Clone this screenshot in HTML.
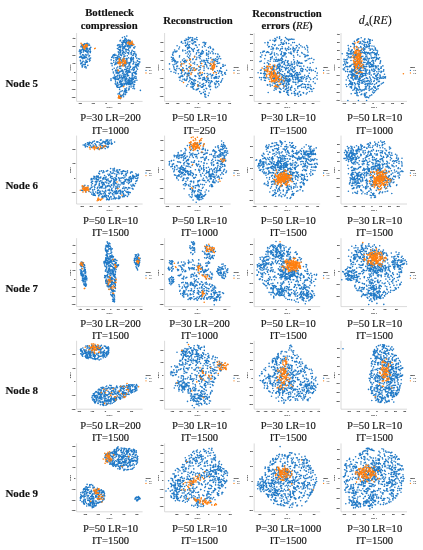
<!DOCTYPE html><html><head><meta charset="utf-8"><title>t-SNE nodes</title><style>
html,body{margin:0;padding:0;background:#fff}
svg{display:block;filter:blur(0.3px)}
.h{font:bold 10.7px 'Liberation Serif',serif;text-anchor:middle;fill:#111;stroke:#111;stroke-width:0.15px}
.m{font:12px 'Liberation Serif',serif;text-anchor:middle;fill:#111;stroke:#111;stroke-width:0.1px}
.mi{font-style:italic;font-weight:normal}
.n{font:bold 11px 'Liberation Serif',serif;fill:#111;stroke:#111;stroke-width:0.15px}
.c{font:10.6px 'Liberation Serif',serif;text-anchor:middle;fill:#1a1a1a;stroke:#1a1a1a;stroke-width:0.18px}
.t{font:bold 2.5px 'Liberation Sans',sans-serif;fill:#555;stroke:#555;stroke-width:0.2px;text-anchor:middle}
.tl{text-anchor:start}
.lt{font-size:2.1px}
.le{font:bold 2.1px 'Liberation Sans',sans-serif;fill:#444;text-anchor:start}
.ty{text-anchor:end}
.ta{font:bold 2.3px 'Liberation Sans',sans-serif;fill:#333;text-anchor:middle}
.ax{fill:none;stroke:#d0d0d0;stroke-width:0.8}
.pb{stroke:#2079c6;stroke-width:1.6;stroke-linecap:round;fill:none}
.po{stroke:#ff7f0e;stroke-width:1.6;stroke-linecap:round;fill:none}
</style></head><body>
<svg width="423" height="550" viewBox="0 0 423 550">
<text x="109.5" y="16.1" class="h">Bottleneck</text>
<text x="109.2" y="29" class="h">compression</text>
<text x="198.1" y="23.6" class="h">Reconstruction</text>
<text x="287" y="17.2" class="h">Reconstruction</text>
<text x="287" y="29.1" class="h">errors (<tspan class="mi">RE</tspan>)</text>
<text x="375.3" y="23.8" class="m"><tspan class="mi">d</tspan><tspan class="mi" font-size="7" dy="2.2">A</tspan><tspan dy="-2.2">(</tspan><tspan class="mi">RE</tspan>)</text>
<text x="5.4" y="86.7" class="n">Node 5</text>
<text x="5.4" y="189" class="n">Node 6</text>
<text x="5.4" y="291.7" class="n">Node 7</text>
<text x="5.4" y="394.1" class="n">Node 8</text>
<text x="5.4" y="496.7" class="n">Node 9</text>
<text x="110.5" y="121.3" class="c">P=30 LR=200</text>
<text x="110.5" y="133.6" class="c">IT=1000</text>
<text x="199.5" y="121.3" class="c">P=50 LR=10</text>
<text x="199.5" y="133.6" class="c">IT=250</text>
<text x="288.3" y="121.3" class="c">P=30 LR=10</text>
<text x="288.3" y="133.6" class="c">IT=1500</text>
<text x="374.6" y="121.3" class="c">P=50 LR=10</text>
<text x="374.6" y="133.6" class="c">IT=1000</text>
<text x="110.5" y="223.9" class="c">P=50 LR=10</text>
<text x="110.5" y="236.2" class="c">IT=1500</text>
<text x="199.5" y="223.9" class="c">P=50 LR=10</text>
<text x="199.5" y="236.2" class="c">IT=1000</text>
<text x="288.3" y="223.9" class="c">P=50 LR=10</text>
<text x="288.3" y="236.2" class="c">IT=1500</text>
<text x="374.6" y="223.9" class="c">P=30 LR=10</text>
<text x="374.6" y="236.2" class="c">IT=1500</text>
<text x="110.5" y="326.5" class="c">P=30 LR=200</text>
<text x="110.5" y="338.8" class="c">IT=1500</text>
<text x="199.5" y="326.5" class="c">P=30 LR=200</text>
<text x="199.5" y="338.8" class="c">IT=1000</text>
<text x="288.3" y="326.5" class="c">P=50 LR=10</text>
<text x="288.3" y="338.8" class="c">IT=1500</text>
<text x="374.6" y="326.5" class="c">P=50 LR=10</text>
<text x="374.6" y="338.8" class="c">IT=1500</text>
<text x="110.5" y="429.1" class="c">P=50 LR=200</text>
<text x="110.5" y="441.4" class="c">IT=1500</text>
<text x="199.5" y="429.1" class="c">P=30 LR=10</text>
<text x="199.5" y="441.4" class="c">IT=1500</text>
<text x="288.3" y="429.1" class="c">P=30 LR=10</text>
<text x="288.3" y="441.4" class="c">IT=1500</text>
<text x="374.6" y="429.1" class="c">P=50 LR=10</text>
<text x="374.6" y="441.4" class="c">IT=1500</text>
<text x="110.5" y="531.7" class="c">P=50 LR=10</text>
<text x="110.5" y="544" class="c">IT=1500</text>
<text x="199.5" y="531.7" class="c">P=50 LR=10</text>
<text x="199.5" y="544" class="c">IT=1500</text>
<text x="288.3" y="531.7" class="c">P=30 LR=1000</text>
<text x="288.3" y="544" class="c">IT=1500</text>
<text x="374.6" y="531.7" class="c">P=30 LR=10</text>
<text x="374.6" y="544" class="c">IT=1500</text>
<g><path d="M76.6 33V101.4H142.6" class="ax"/><text x="75.3" y="38.8" class="t ty">40</text><text x="75.3" y="47.3" class="t ty">30</text><text x="75.3" y="55.8" class="t ty">20</text><text x="75.3" y="64.3" class="t ty">10</text><text x="75.3" y="72.8" class="t ty">0</text><text x="75.3" y="81.3" class="t ty">-10</text><text x="75.3" y="89.8" class="t ty">-20</text><text x="75.3" y="98.3" class="t ty">-30</text><text x="80.2" y="104.3" class="t">-20</text><text x="93.2" y="104.3" class="t">-10</text><text x="106.2" y="104.3" class="t">0</text><text x="119.2" y="104.3" class="t">10</text><text x="132.2" y="104.3" class="t">20</text><text x="109.6" y="108.4" class="ta">dim 1</text><text transform="translate(70.6 67.5) rotate(-90)" class="ta">dim 2</text><text x="148.1" y="68.2" class="t lt">label</text><circle cx="146" cy="70.4" r="0.65" fill="#2079c6"/><text x="148.9" y="71.2" class="le">0.0</text><circle cx="146" cy="73" r="0.65" fill="#ff7f0e"/><text x="148.9" y="73.8" class="le">1.0</text><path d="M117.3 83.4h0M127.9 70.9h0M129.8 84.6h0M129.7 44.3h0M115.2 83.8h0M85.8 66.8h0M136.1 55.2h0M88 54.9h0M132.4 59.1h0M128.4 52.7h0M134.5 84.5h0M121.1 81h0M82.5 58.4h0M125.5 65.1h0M125.9 80.1h0M126.4 39.3h0M115.5 77.2h0M122.5 73.2h0M133 88.5h0M128.1 49.5h0M126.5 41.1h0M127.3 46h0M123 58.9h0M133.4 59.1h0M117.5 62h0M131.3 60.2h0M86.1 47.6h0M122.8 77.5h0M126.2 90.7h0M130.5 46.8h0M124.1 91.9h0M114.8 54.4h0M125.8 67.2h0M127.1 61.1h0M87 47.9h0M130.4 58.4h0M118.3 79.4h0M130.6 83.2h0M85.7 46.8h0M125.6 89.2h0M119 53.7h0M121 91.4h0M89.7 59.1h0M118.3 79.7h0M129.9 43.7h0M124.1 77h0M132.7 78h0M130.2 44.1h0M122.6 48.3h0M132.8 43.7h0M120.4 96.6h0M86.2 55h0M135.2 66.2h0M124.8 65.9h0M114.2 68.2h0M120.7 82.1h0M118.8 73.8h0M115.6 81.9h0M130 81.5h0M134.9 67h0M128.3 82.4h0M131.2 44.4h0M117.7 79.3h0M132.9 82.2h0M125 56.1h0M135.4 73.3h0M83.8 46.6h0M117.1 70.1h0M122.4 65.5h0M126 82.8h0M122.7 46.7h0M130.7 83.9h0M119.9 46.7h0M87.5 51.3h0M123.1 73.6h0M119.2 61.1h0M135.5 64.2h0M133.8 86h0M120.1 75.1h0M114.7 64.8h0M121.1 62.8h0M82.3 46.7h0M125.7 74.7h0M87.2 52.4h0M127.3 74.7h0M121.6 81.8h0M116.9 85.9h0M119.8 81.6h0M128.7 82h0M121.5 96.9h0M122.5 70h0M129.8 63.5h0M84 57h0M131.2 58.6h0M123.1 42.7h0M84.7 43.7h0M83.6 57.2h0M119.1 96.7h0M130.1 47.7h0M85.4 51.1h0M111.7 57.5h0M128.2 40h0M127.2 58.9h0M132.5 74.9h0M127.4 82.7h0M119.1 56.5h0M129.6 64.8h0M117.7 87.2h0M85.8 46h0M133.4 61h0M132.7 45h0M88 45.5h0M136 64.3h0M120.9 51.1h0M86 60.4h0M129.5 42.1h0M135.6 78.4h0M119.9 94.2h0M84.5 46.5h0M126.3 83.4h0M131.5 57.4h0M113.1 77.9h0M113 55.4h0M123.6 64.5h0M121.8 42.3h0M127.2 68.5h0M88.8 44.1h0M85.2 51.1h0M114.1 78.6h0M116.8 86.5h0M81.9 57.1h0M129.5 77.5h0M127.3 72.5h0M129.3 51h0M121.9 86.5h0M90 49h0M81.5 57.2h0M123 49.1h0M117.3 87.3h0M117.9 72.4h0M86.7 61.4h0M118.9 84.8h0M115.9 78.9h0M117.4 48.5h0M131 42.3h0M123.9 83.2h0M128.8 90h0M121.9 75.2h0M81.3 50.3h0M116.5 57.6h0M83.6 50.4h0M120.3 84.1h0M131.3 60.7h0M131.1 86.9h0M84.8 67.1h0M118.6 97.4h0M127.3 68.6h0M140.4 90.4h0M131.1 53.6h0M129.1 41.2h0M117.6 63h0M120.4 86.8h0M133.7 51.5h0M117.1 79.1h0M127.4 83.4h0M128.7 83.2h0M119.8 98h0M128.9 81.4h0M119.6 97.5h0M136.7 58.1h0M128.3 84.5h0M119.6 87.8h0M131.5 79.1h0M115.9 59.7h0M115.6 84.1h0M129.7 83.3h0M127.8 82.4h0M113.7 54.9h0M82.7 54.7h0M119.6 68.2h0M124.9 91.2h0M130.4 78.8h0M134.4 67.9h0M122.4 37.6h0M136.7 68h0M129.2 88.9h0M82 65.7h0M124.9 79.9h0M117.3 70.5h0M80.7 63.3h0M137.5 69.3h0M120 80.3h0M84.2 56.1h0M123.5 51.6h0M138.6 63.5h0M134.8 82.3h0M89 59.3h0M83 61.2h0M114.5 75.1h0M125.9 49.1h0M79.6 57.3h0M125.4 53.3h0M83.3 49.4h0M80.6 51.5h0M121.5 76.8h0M125.2 94.6h0M125.4 92h0M129.3 83.2h0M82.1 57.5h0M130 66h0M90.6 58h0M128.3 71.9h0M133.6 70.5h0M117.4 57.5h0M122.3 85.6h0M130.5 62.3h0M133.4 79.5h0M118 70.2h0M112.1 65.8h0M125.9 81.2h0M131.4 52.8h0M117.7 67h0M120.3 52.6h0M83 64.4h0M119.7 66.5h0M135.9 73.5h0M124.9 41.9h0M126.8 92.2h0M120.7 47.5h0M117.2 73.2h0M112.2 63.7h0M138.4 58.8h0M79.9 57.1h0M132.3 59h0M119.6 46.9h0M132 80h0M121.9 42.5h0M125.4 72h0M120 78h0M125.7 90.6h0M128.9 47h0M130.3 43.1h0M86.1 55.4h0M85.3 66.5h0M122.7 64h0M128.7 84h0M126.9 78.6h0M133 64.1h0M130.5 66.6h0M136 66.7h0M131.8 51.3h0M115.4 80.1h0M122.7 78h0M130.9 45.5h0M82.1 46.9h0M122 86h0M83.4 47.1h0M116.4 85.1h0M128.8 89.2h0M122 44.5h0M119.3 93.5h0M119.5 97.1h0M125.3 83.4h0M129.7 80.4h0M126.4 64h0M120.9 86.3h0M121.1 46.3h0M127 58.9h0M123.3 47.8h0M130.3 67.4h0M125.7 42.7h0M116.6 57.7h0M131.2 69.7h0M121.1 54.7h0M117.2 58.9h0M120.1 45h0M126.3 71.7h0M138.1 61.5h0M130.3 80.9h0M120.7 57.8h0M116.1 55.2h0M118.8 47.2h0M132.8 68.5h0M127.3 76.1h0M131.1 85h0M83.7 55.1h0M134.1 48.3h0M117.6 82.3h0M126.6 88h0M121 66.1h0M119.4 63h0M121.3 77.3h0M114.7 77.5h0M123.8 76.2h0M83.4 51.9h0M126.1 69.4h0M115.5 70.9h0M137.7 65.4h0M81.5 52.4h0M127.4 52.7h0M125.9 92.7h0M133.1 84.1h0M124.5 78h0M121.5 79h0M117.7 56h0M123.8 93.6h0M86.1 60.7h0M120 46.8h0M133.7 70.3h0M131 80.9h0M124 56.4h0M115.6 70.2h0M135 46.8h0M81.4 45.1h0M121.8 95.6h0M132.4 73.7h0M82.1 49.5h0M131.4 45.4h0M79.2 51.3h0M117.5 85.2h0M136.1 78.5h0M128.9 40.5h0M120 50.4h0M133.5 61.5h0M132.1 80.8h0M123.5 94.9h0M80.1 56.9h0M126.6 78.3h0M132.2 50.2h0M120.5 98.6h0M127.1 45.5h0M137.3 65.2h0M128 45.7h0M82.9 48.2h0M124.7 69.6h0M84.8 58.3h0M130.9 52.7h0M119.5 75.4h0M128.7 52.7h0M126.1 84h0M129.5 42.6h0M129.2 70.1h0M117.5 77h0M119.8 72.1h0M132.2 73.5h0M123.4 41.6h0M115.8 79.6h0M113.8 62.3h0M131.2 54.6h0M119.1 44.9h0M123.9 40.5h0M113.7 60.5h0M85.5 57.1h0M123.2 61.2h0M135 76.3h0M90.1 60.2h0M89.5 61.1h0M122.4 90.7h0M115.2 57.7h0M131.9 75h0M120.4 49.2h0M123.6 77.2h0M119.9 49.5h0M81.6 63.1h0M127.8 80.2h0M126.2 42.4h0M82.7 46.4h0M129 81.2h0M121.4 84.9h0M133.4 63.6h0M83.5 45.7h0M115.4 76.7h0M129.1 72.3h0M125.2 69.5h0M129.1 71.9h0M126 67.1h0M114.6 55.6h0M131.2 78.4h0M134.3 77.2h0M138.4 66h0M128.9 63.9h0M123.8 75.2h0M111.2 59.9h0M125.7 43.9h0M117.4 63.3h0M129.3 45.2h0M124.6 90.7h0M81.7 63.2h0M133.9 62.4h0M129.9 44h0M121 83.7h0M115.1 78.9h0M124.8 74.1h0M119 52.8h0M124.1 52.4h0M136.1 62.3h0M126.2 77.8h0M82.4 62.1h0M80.9 46.7h0M118.9 87.2h0M115.7 79.4h0M124.8 58.8h0M84.4 64.7h0M119.6 76.9h0M122.9 79.1h0M132 80.4h0M119.2 47.2h0M85.9 44h0M119.6 92.3h0M127.5 63h0M82.7 66h0M125 90.1h0M126.8 36.1h0M129.8 42.7h0M83.2 61.3h0M128.6 80.3h0M125.6 78.9h0M87.7 48.7h0M119.7 58h0M131.6 60.8h0M125.1 76.5h0M122.8 95h0M129.4 63.4h0M113.5 73h0M137.4 60.6h0M132.8 55.5h0M133.8 47.5h0M129.3 72.3h0M135.1 80.8h0M90.5 51.6h0M119.1 61.2h0M124.3 64.9h0M135.2 72h0M128.6 75.6h0M128.4 66h0M118.8 62.4h0M84.5 44.1h0M90.2 50h0M126.1 61.2h0M86.7 48.1h0M127.7 66.7h0M81 56h0M122.6 45h0M120.3 51.2h0M139.7 59.1h0M81 64h0M132 83.3h0M82.4 47.2h0M126.2 42.7h0M125.5 94.2h0M120.5 54.9h0M115.7 62.1h0M89.9 48.4h0M128.3 80.2h0M134.1 81.6h0M134.6 72.7h0M132.5 82.1h0M115.4 63.5h0M118.7 54.8h0M119.6 89.5h0M127.3 55.8h0M123.3 72.1h0M117.9 59.1h0M126.6 41.6h0M89.6 45.3h0M118.4 58.2h0M121.7 71.3h0M117.6 85.8h0M122.8 80.8h0M136.4 73.9h0M122.9 53.9h0M122.6 84.4h0M123.1 40.9h0M125.4 49.7h0M118.5 49.2h0M116.7 63.8h0M121.5 55.6h0M138.1 63.9h0M80.4 54h0M87 62.2h0M87.2 43.3h0M124.7 77h0M128.7 48.8h0M133.5 58.7h0M128.5 42.1h0M130.1 42.4h0M123.6 96.8h0M122.5 43.9h0M133.2 67.2h0M111 78.9h0M85.3 50.6h0M128.5 79.9h0M117.5 45.6h0M120.2 51.6h0M79.9 49.9h0M129.3 46.8h0M121.7 83.9h0M90.8 47.4h0M114.8 77.8h0M135.5 66.3h0M82.6 54.9h0M89.6 55.5h0M124.4 48.3h0M87.8 65.4h0M87.3 44.7h0M88.3 50.7h0M126.1 79.4h0M116.1 72.9h0M122.9 73.1h0M118 94h0M118.2 78.7h0M125.3 38.3h0M136.4 71.1h0M132.2 73h0M139.7 62h0M126.8 49.8h0M118.7 49.4h0M124.7 62.7h0M118.3 51.9h0M123.9 85.3h0M134.8 52.1h0M122.4 45.2h0M127.7 40.8h0M131.6 83.5h0M128.7 53.9h0M126 71.5h0M135.7 72.2h0M128.3 44.7h0M122.9 70.9h0M82.8 58.7h0M85.8 54.5h0M126.8 73.5h0M123.6 58.1h0M85.3 64.5h0M133.4 53.9h0M132.8 78.8h0M122.1 84.2h0M132.7 44.1h0M133.1 86.2h0M88.1 53.1h0M117 86.5h0M111.2 63.4h0M86.3 43.8h0M122.9 44.6h0M126.6 62.5h0M80.1 53h0M82.4 45.5h0M128.9 89.7h0M85.2 66.7h0M136.2 77h0M85 62h0M115.3 64.2h0M86.5 44.5h0M130.4 72.1h0M83.4 44.9h0M126.1 51.6h0M122.3 85.9h0M127.7 73.8h0M120.2 71.4h0M120 58.7h0M80.5 60.9h0M122.6 53.4h0M128.8 43.6h0M124.5 47.6h0M80.5 50.6h0M124.7 40.3h0M124.1 42.4h0M123.6 75.1h0M86.1 49.7h0M80.3 60.2h0M89.9 58.6h0M135.8 55.1h0M125 81h0M87.2 61.5h0M126.6 70.4h0M128.2 49.9h0M129 88.2h0M122.4 50.3h0M130.1 81.1h0M113.5 58h0M123.4 59.8h0M129.1 69h0M131.9 81.4h0M124.5 36.7h0M122 61.8h0M130.2 40.8h0M120.1 40.9h0M133.8 87h0M122.9 50.7h0M120.4 52.9h0M85.2 63.3h0M86.3 62.3h0M82.2 67.1h0M130.7 59.9h0M129.2 71.6h0M127.4 74.7h0M129.3 86.8h0M89.6 49h0M89.3 59h0M114.2 77.1h0M85.2 57.1h0M119.5 78.1h0M129.3 82.2h0M84.3 49.8h0M129.8 72h0M125.9 50h0M122.6 42.7h0M86.3 51.5h0M135 73.5h0M132.9 69.8h0M134.3 69.5h0M83.1 49.7h0M115.6 57.8h0M124 75.2h0M127.9 46.7h0M130.9 61.8h0M129 62.5h0M123.1 77.8h0M130.7 84.2h0M122.9 54.1h0M131.8 59.6h0M135.7 56.6h0M86.5 57.4h0M132.4 45.4h0M134.1 78.1h0M135.8 74.1h0M137.3 64.4h0M121.5 62.1h0M120.6 47.5h0M126.5 44.1h0M86.2 46.5h0M129 81.5h0M126.5 58.6h0M123.6 63.9h0M125 74.8h0M117.7 83.5h0M125.7 40.1h0M86.2 50.9h0M132.8 75.7h0M134.7 72.3h0M116.9 71.7h0" class="pb"/><path d="M123.7 86.6h0M123.1 64.5h0M119.6 98.2h0M127.5 42.9h0M118.7 96.9h0M123.7 63.3h0M84.1 47.8h0M129 41.6h0M120.8 95.2h0M119.2 96.4h0M83.5 47.6h0M131.5 43.3h0M130.3 43.5h0M119.9 62.9h0M123.8 66h0M125.8 62.2h0M87.4 45.1h0M82.9 45.6h0M119.5 97h0M87.4 45h0M124.2 61.6h0M132.1 41.3h0M95.2 48.2h0M86.3 45.1h0M81.1 43.4h0M94.7 48.6h0M122.5 59.8h0M84.8 49.1h0M119.4 58.7h0M82.4 44.6h0M121.1 62.8h0M120.5 98.3h0M119.8 60.7h0M124.6 62.1h0M132.4 42.7h0M122.7 65.7h0M131 43.7h0M129.5 43.3h0M124 58.4h0M86.5 44h0M125.8 63.4h0M124.7 63.4h0M124.1 60.1h0" class="po"/><path d="M87.3 61.6h0M87.5 59h0M117.5 57.4h0M112.4 56.8h0M136.9 80.2h0M132 77.1h0M120.8 95.6h0M132.4 45.3h0M138.8 64.1h0M80.9 56.9h0M82.2 58.3h0M82.4 58.5h0M126.4 59.9h0M122.3 44.7h0M133.6 55h0M133.6 72.5h0M124.5 46.4h0M135.3 72.5h0M127.7 46.2h0M120.7 68.4h0M118.1 72.9h0M129.1 72.3h0M130.1 42.1h0M135.6 64.7h0M119.5 72.1h0M119.7 50.5h0M83.6 44.5h0M124.5 40.7h0M125 88.7h0M112.9 56.9h0M117.4 75.4h0M116.5 60.3h0M119.7 82.4h0M126.7 84.8h0M125.3 45.8h0M113.3 72h0M118.5 62.9h0M132.7 75.6h0M125.8 76.3h0M112.5 69.6h0M120.9 84.4h0M121.6 70.3h0M133.3 57.6h0M139.6 62h0M120.5 40.2h0M129.1 68.3h0M117 62.6h0M136.8 65.9h0M128.9 70.7h0M119.2 75.8h0M122.3 53h0M86.1 67.9h0M82.3 57.5h0M123.8 46.9h0M116 70.2h0M120.5 59.5h0M89.2 49.2h0M125.7 83.4h0M89 56.8h0M124.4 84.5h0M85.8 48.1h0M124.8 39.2h0M118.1 44.9h0M87.1 49.6h0M116.7 68h0M111 80.4h0M87 43.5h0M126.6 90.4h0M134.5 88.8h0M134.8 53.6h0M132.3 44.1h0M90.3 52.6h0M124 54.8h0M136 54.3h0M89 51.5h0M83.6 58.1h0M131 82.5h0M116.3 76.8h0M129.9 40.2h0M121.7 83.4h0M86.5 48.4h0M129.2 78.9h0M127 81.6h0M121.5 60.2h0M123.3 52.1h0M81.6 45.8h0M128.5 57.8h0M125.8 46.4h0" class="pb"/><path d="M129 44.1h0M119 63.7h0M86.3 46.6h0M84 46.2h0M131.8 43.5h0M85.2 45.8h0M120.8 97.7h0M118.8 62.5h0M118.5 70.8h0M130.8 43.1h0M120.3 61.7h0M132.5 44.4h0M85.2 47.6h0M83.3 47.1h0M82.2 45.3h0M117.9 70h0M133.9 44.7h0M87.1 46.6h0M119 59.7h0M85.6 44.9h0M122 62.5h0M86.8 46.7h0M119.7 59.2h0M84.2 48h0M119.1 62.5h0M118.4 97.9h0M122.8 61.9h0M118 62.9h0M130.2 44.1h0M122.6 60.3h0M84.2 46.8h0M120.1 65.5h0M131.2 42.1h0M121 62.8h0M129 42.7h0M130.6 43.6h0M129.6 44.4h0M125.6 60.7h0M120.2 64.1h0M123.9 60.3h0M118.8 95.9h0M125.5 61.1h0M119.3 61.4h0" class="po"/></g>
<g><path d="M164.6 33V101.4H230.6" class="ax"/><text x="163.3" y="42.6" class="t ty">30</text><text x="163.3" y="51.7" class="t ty">20</text><text x="163.3" y="60.7" class="t ty">10</text><text x="163.3" y="69.8" class="t ty">0</text><text x="163.3" y="78.9" class="t ty">-10</text><text x="163.3" y="88" class="t ty">-20</text><text x="163.3" y="97" class="t ty">-30</text><text x="167.3" y="104.3" class="t">-30</text><text x="177.7" y="104.3" class="t">-20</text><text x="188.1" y="104.3" class="t">-10</text><text x="198.5" y="104.3" class="t">0</text><text x="208.9" y="104.3" class="t">10</text><text x="219.3" y="104.3" class="t">20</text><text x="229.7" y="104.3" class="t">30</text><text x="197.6" y="108.4" class="ta">dim 1</text><text transform="translate(158.6 67.5) rotate(-90)" class="ta">dim 2</text><text x="236.1" y="68.2" class="t lt">label</text><circle cx="234" cy="70.4" r="0.65" fill="#2079c6"/><text x="236.9" y="71.2" class="le">0.0</text><circle cx="234" cy="73" r="0.65" fill="#ff7f0e"/><text x="236.9" y="73.8" class="le">1.0</text><path d="M175.9 51.9h0M191.3 79.1h0M200.7 53.4h0M191.5 82.5h0M171.4 57.2h0M208.5 68.2h0M191.6 40.3h0M216.8 66.4h0M171 71.5h0M189.3 46.8h0M203.4 51.9h0M177.8 61.9h0M185 73.5h0M177 51.1h0M197.2 64.7h0M180.8 70.2h0M200.9 65.6h0M176.1 70.8h0M180.5 76.2h0M188.4 70.6h0M206.1 82.2h0M201.7 52.1h0M214.9 77.9h0M206.6 88.6h0M221.3 81.8h0M202.5 87.3h0M172.1 59.5h0M215.4 77.8h0M198 86.4h0M178.9 48.9h0M177 66.7h0M207.8 60.5h0M218.4 63.3h0M187.9 39.4h0M214 77.9h0M217.8 59.7h0M195.4 45h0M185.6 40.7h0M213.5 49.8h0M206 80.5h0M205.4 44.2h0M174 72.2h0M194.1 42h0M206.6 53h0M184.4 61.5h0M179.1 68.6h0M176.2 63.6h0M169.5 63.9h0M194.1 81.9h0M180.8 65.1h0M204.5 73.5h0M203 77.8h0M186.6 86.1h0M226.6 70.2h0M186.4 61.8h0M188.4 39.4h0M180.2 77.7h0M219.2 76.2h0M199.5 55.3h0M189.7 60.3h0M182.9 43.3h0M194.7 56.4h0M187.5 49.1h0M187.4 56.3h0M188.9 81.7h0M188.3 47.4h0M189.5 73.3h0M194.3 48.6h0M189.3 66.9h0M199.1 75.5h0M196.2 45.4h0M218.8 58.3h0M193.4 51.4h0M212.9 75.1h0M215.1 60.4h0M204.3 77.4h0M189 51.1h0M186.2 80.4h0M214.6 83h0M205.2 80.2h0M187.5 43.7h0M186.6 45.2h0M186.5 80h0M200.1 85.9h0M196.6 59h0M208.3 95.6h0M188.3 48.2h0M194.4 39.1h0M193.2 49.9h0M211.8 81.4h0M193.1 63.3h0M210.6 86.2h0M215.5 76.5h0M210.4 89.6h0M200.1 58.7h0M182.2 75.4h0M205 64.5h0M203 51.5h0M210.6 47.7h0M198.7 49.8h0M199 78.4h0M205.8 64.2h0M225.2 65.3h0M206.9 66.9h0M212.4 74.9h0M221.7 80.2h0M179.9 80.3h0M188.8 67.3h0M218.6 81.3h0M185 80.1h0M208.8 51.2h0M214 64h0M187.9 42.1h0M211.5 78h0M203 79.2h0M199.4 76.2h0M184.5 79.1h0M197.9 84.9h0M222.7 66.2h0M219.6 63h0M193.6 80.2h0M211.1 64.8h0M198.1 73.3h0M218.6 83.7h0M196.7 52.7h0M193.8 84.5h0M220.7 58.8h0M202.1 74.7h0M172.7 58.1h0M195.6 80.6h0M181 65h0M192.1 40.8h0M205 46.5h0M190.9 68.9h0M192 84.8h0M219.7 70.5h0M202.2 86.9h0M207.6 62h0M204 89.6h0M174.9 62h0M193.7 83.7h0M203.6 85.7h0M204 70.4h0M212.1 51.4h0M176 61.6h0M213.5 59.4h0M188.6 57.5h0M208.7 51.8h0M181.3 73.4h0M190.7 70.4h0M215.5 53.7h0M176.8 66.3h0M181.5 76h0M218.2 78.3h0M186.5 68.7h0M184.6 79.9h0M194.6 62.2h0M197.2 89.1h0M188.7 45.3h0M196 59.6h0M187.4 74.1h0M200.5 67.6h0M188.6 73h0M185.6 60.2h0M215.3 60.5h0M208.6 58.4h0M214.6 60h0M224.8 73.6h0M216.8 76.9h0M193.1 58.8h0M208.2 68.6h0M216 83.7h0M208.1 80.1h0M192.3 49.7h0M220.7 82.3h0M187 76.2h0M212.9 49.2h0M206.7 53.4h0M206.5 80.5h0M200.3 61.7h0M181.5 41.6h0M222.2 75.1h0M190.8 37.5h0M197.6 89.5h0M208.3 56.3h0M198.9 52.6h0M195.6 42.1h0M212.9 61.9h0M195 75.8h0M188.9 73.9h0M215.1 84.4h0M191 86.9h0M179.6 55.8h0M173.7 66.2h0M194.8 41.5h0M189.9 41.7h0M204.2 79.2h0M184.6 40.6h0M204.2 45.2h0M196.9 68.7h0M186.4 65.8h0M188.2 75.6h0M222.6 78.8h0M213.5 59.9h0M189.5 44.7h0M209.7 63.5h0M175.7 51.7h0M221.9 71.9h0M199.9 83.1h0M200.5 78.3h0M173.4 60.5h0M202.4 47.1h0M175.9 51.3h0M192 67.7h0M179.2 77.4h0M210.2 83.7h0M187.4 52.1h0M189.6 51.3h0M201.9 53.7h0M192.6 84.8h0M222.6 75h0M173 55.5h0M206.6 88.8h0M210.8 68.6h0M205 93.8h0M199.2 66.9h0M181.8 76.3h0M195.9 39.1h0M187 79.3h0M213.1 49.1h0M191.8 72.6h0M204.8 78.4h0M221.1 68h0M185.7 46.2h0M208.3 62.7h0M190.5 54h0M200 78.4h0M176.8 68.7h0M205.5 62.6h0M182.8 50h0M177.6 66h0M193.9 42.7h0M185.5 42.9h0M175.7 73.1h0M181.3 42.5h0M178.4 73.8h0M188.2 54.1h0M192.1 39.6h0M175.4 70h0M182.5 60.1h0M177.1 45.8h0M216.4 81h0M211.3 76h0M220.8 71.2h0M196.2 89.9h0M210.6 82.2h0M192 43.2h0M197.2 39.8h0M200.8 54.6h0M225.1 72.6h0M217.8 54h0M179.5 47.1h0M192.6 86.8h0M201.8 60.3h0M213.1 62.5h0M187.5 44.2h0M173.2 57.8h0M207.2 54.8h0M206.1 88.2h0M209.1 93h0M208.4 47.6h0M183.6 61.5h0M198.5 88.5h0M212 69.3h0M192.5 84.2h0M194.8 41.5h0M194.1 67.8h0M189.8 55.9h0M174.1 59.6h0M204.9 60.5h0M217 59.4h0M194.2 85.2h0M187 73.2h0M215.5 84.8h0M215.4 87h0M187.8 84.5h0M219.3 71.7h0M189.4 47.6h0M205.9 42.7h0M212.5 59.5h0M195.8 76.2h0M187.1 69.1h0M200.6 56.6h0M212.4 66.6h0M202.6 79.9h0M189.6 38.1h0M191.6 48.5h0M185.9 53.3h0M224.7 72.9h0M212.8 69.7h0M173 64.8h0M205.1 94.9h0M182.8 50.9h0M205.3 63.1h0M203.8 60.4h0M202 61.3h0M206.6 58.7h0M223.6 66.1h0M216.3 74.5h0M184.2 70.6h0M174.8 64.2h0M217.4 81.9h0M185.2 50.5h0M197.4 50.6h0M216.3 81.6h0M201.9 53.9h0M189.7 52h0M206.8 81.6h0M174.5 69.5h0M206.7 65.2h0M182.8 67.8h0M205.2 91.4h0M190.2 78.2h0M210 46.5h0M201.4 93.5h0M193.8 84.1h0M190 70.7h0M216.2 78.3h0M209.3 80.7h0M169.6 69h0M195.8 69.4h0M187.3 74.3h0M182 69.5h0M189.8 80.2h0M218.5 73.2h0M216.4 78h0M217.3 63.4h0M204.1 42.2h0M214.2 78.4h0M187.1 76.8h0M183.1 68.4h0M192.8 43.9h0M210.5 48.3h0M206.5 55.1h0M204.1 68.1h0M182.7 70.5h0M221.4 73.3h0M204 61.8h0M192.5 37.9h0M210.5 74.1h0M210.1 65.7h0M225.5 74.2h0M199.7 91.6h0M185.6 60.7h0M220.7 67.8h0M201.4 87.2h0M212 75.8h0M214.7 71.5h0M173.7 58.9h0M202.8 84.2h0M185.3 43.1h0M174 67.9h0M217.5 61.5h0M203.6 83.6h0M215 64.5h0M203 86.5h0M189.8 58.6h0M205 96.7h0M191.6 81.9h0M217.3 56.9h0M205.6 94.5h0M207.7 75.7h0M183 68.3h0M194.6 79.9h0M208.9 74.2h0M216.9 57h0M188.4 37.4h0M192.8 59.6h0M198.1 74h0M198.1 50.7h0M174.2 60.8h0M196.9 57.3h0M204.8 43.1h0M184.9 62.6h0M192.9 40.4h0M182 81.3h0M195.2 83.5h0M181.9 72.5h0M175.1 60.6h0M216 87.7h0M185.4 45.6h0M205.3 85.4h0M187.1 78.4h0M190 47.5h0M214.2 65.6h0M184.3 74.8h0M172.6 54.4h0M213.1 53h0M193.9 89.2h0M196.3 54h0M190 51.5h0M196.8 37.5h0M210.8 68.6h0M204 66.4h0M218 54.6h0M214.3 77.6h0M179.4 57h0M217.5 70.7h0M180.7 62h0M203.4 92.4h0M215.3 72h0M219.5 56.4h0M210.3 53.1h0M176.7 63h0M181.7 71.1h0M213.1 53.8h0M193.1 88.7h0M186.1 39h0M207.8 79.4h0M208.7 82.6h0M210.8 57.9h0M184 58.8h0M197.9 81.8h0M198.9 70.4h0M192.6 82.9h0M198.4 85h0M217.6 86.7h0M199.2 44.7h0" class="pb"/><path d="M212.7 70.3h0M212.4 65.9h0M192.5 70.4h0M197.6 85h0M198 86h0M213.1 63.2h0M213.9 65.8h0M214.7 66.7h0M210.8 68.9h0M213.9 68.2h0M213 68.6h0M188.2 75.4h0M187 60.3h0M213.9 64.1h0M211.1 64.6h0M183.9 63.8h0M214.3 65.7h0M213.5 64.9h0M212 67.2h0M182.6 69.7h0M189.4 63.8h0M194.6 70.4h0M200.1 72.4h0M183.5 82.5h0M203 66.2h0M206.7 76.7h0M193.9 68.4h0M190 59.7h0M191.1 73.1h0" class="po"/><path d="M195.4 76.4h0M192.2 87.4h0M183 79.3h0M188.9 75.5h0M184.8 60.5h0M187.4 47.6h0M199.2 57.6h0M193.4 86.6h0M200.9 93.6h0M194.6 64h0M185.4 72.7h0M211 62h0M192.2 79.4h0M173.4 52h0M186.6 39.7h0M203.1 42.6h0M208.5 54.1h0M212 81.8h0M208.8 85.9h0M207.1 77.9h0M223 64.6h0M201.9 74.2h0M220.7 68.4h0M193.1 70.1h0M190.3 66.4h0M204.8 94.5h0M207.2 73.6h0M182.8 76.4h0M198.6 85.3h0M206.6 60.4h0M173.1 52.9h0M206.4 50.3h0M174.6 50h0M209.3 85h0M200.1 69.5h0M186.6 68.5h0M199.7 72.7h0M197.2 47.2h0M172.2 61.3h0M211.2 80.7h0M219.2 76.7h0M180.6 69.9h0M219.1 85h0M200.7 63.3h0M189.8 77.4h0M202.1 84.6h0M182 63.9h0M216.3 61.2h0M209.7 87h0M215.4 58.7h0M205.9 97.3h0M190.8 83.7h0M201.1 75.4h0M202.8 53.4h0M174.9 51.8h0M202.3 50.6h0M199 55.7h0M190.7 62h0M208.4 78.2h0" class="pb"/><path d="M182.9 70.8h0M190.6 65.1h0M181.2 66.2h0M214.1 66.9h0M213.2 68h0M190.4 59.3h0M214.2 67.6h0M191 65.4h0M213.8 67.8h0M200 73.6h0M214 65.7h0M212.3 67h0M194.5 57.1h0M181.4 63.9h0M201.7 63.5h0M195.7 69.9h0M213.6 72.9h0M188.5 70.9h0M189.8 68h0M212 59.9h0M191 74.5h0M215 64.8h0M212.6 68.5h0M216.2 72.8h0M202.3 72.8h0M210.5 63.5h0M198.7 66.2h0M213.4 68.9h0M214.5 61.9h0" class="po"/></g>
<g><path d="M254.2 33V101.4H320.2" class="ax"/><text x="252.9" y="35" class="t ty">40</text><text x="252.9" y="43.7" class="t ty">30</text><text x="252.9" y="52.3" class="t ty">20</text><text x="252.9" y="61" class="t ty">10</text><text x="252.9" y="69.7" class="t ty">0</text><text x="252.9" y="78.4" class="t ty">-10</text><text x="252.9" y="87" class="t ty">-20</text><text x="252.9" y="95.7" class="t ty">-30</text><text x="259.7" y="104.3" class="t">-30</text><text x="268.6" y="104.3" class="t">-20</text><text x="277.5" y="104.3" class="t">-10</text><text x="286.4" y="104.3" class="t">0</text><text x="295.3" y="104.3" class="t">10</text><text x="304.2" y="104.3" class="t">20</text><text x="313.1" y="104.3" class="t">30</text><text x="287.2" y="108.4" class="ta">dim 1</text><text transform="translate(248.2 67.5) rotate(-90)" class="ta">dim 2</text><text x="325.7" y="68.2" class="t lt">label</text><circle cx="323.6" cy="70.4" r="0.65" fill="#2079c6"/><text x="326.5" y="71.2" class="le">0.0</text><circle cx="323.6" cy="73" r="0.65" fill="#ff7f0e"/><text x="326.5" y="73.8" class="le">1.0</text><path d="M258.1 72.7h0M306.3 94h0M287.7 39.2h0M264.1 77h0M261 57.1h0M286.3 84.2h0M278.2 79.1h0M279.5 91.6h0M277.8 77.4h0M294.3 91.6h0M280.8 73.8h0M276.9 68.3h0M270.4 77h0M305.4 61h0M294.2 62.5h0M280.1 82.3h0M277.9 66.5h0M306 79.3h0M274.4 81.7h0M273.8 69.4h0M285.1 52.8h0M293.1 47.2h0M308.3 75.8h0M307.7 87.6h0M272.8 73.7h0M282.5 62h0M279.7 69.2h0M291.4 62h0M309.5 70.2h0M280.8 54.5h0M285.4 77.2h0M284.1 54.2h0M272.9 49.7h0M287.6 62.1h0M292.9 75.7h0M315.3 71.5h0M273.9 74.5h0M261.3 61h0M265 42.8h0M272.7 70.1h0M281.5 69.5h0M291.6 73.8h0M307.3 71h0M300.6 95.2h0M290.4 53.5h0M290.2 65.6h0M296.3 45.5h0M306.1 79.1h0M298 82.7h0M284.3 91.2h0M274.4 53.1h0M298.8 86.1h0M294.9 66.8h0M276.2 69.7h0M290.1 39.5h0M289.7 81.3h0M297 77.1h0M271.1 54.1h0M296.7 72.5h0M297.7 54.9h0M309.2 73.2h0M300.9 95.1h0M299.8 91.6h0M307.5 47.1h0M295.6 77.4h0M291 90.3h0M299.8 85.9h0M278.1 60.8h0M274.5 83.3h0M273.6 66.4h0M288.8 63.9h0M264.1 51.3h0M298 93.9h0M288.1 76.8h0M307 70.9h0M298.6 63.3h0M282.5 59.4h0M282.2 75h0M298.6 96.3h0M277.5 72.1h0M282 74.9h0M272.2 85.3h0M274.5 54.7h0M306.7 89.2h0M261.1 70h0M286.7 78.3h0M277.3 73.4h0M288 88.3h0M301.7 77.6h0M288.5 90.4h0M272.3 56.5h0M309.5 91.5h0M297.7 77.1h0M285.4 48.2h0M292 74.5h0M290 73.4h0M304.9 56.9h0M299.1 92.1h0M295.1 77.4h0M281.7 57.3h0M285.8 76.6h0M259.6 77.6h0M285.5 37.5h0M288.3 79.8h0M274.9 38.5h0M302.6 83.8h0M279 78.3h0M298.1 78.9h0M289.7 78.8h0M311.8 89.2h0M279.3 72.6h0M264.5 75.2h0M292.7 42.6h0M271.9 68.7h0M261.4 77.7h0M280.5 92.4h0M283.9 52.7h0M284.6 81.2h0M269.8 74h0M308.2 59h0M288.2 76.8h0M299.3 44.4h0M286.7 75.7h0M282.3 76.8h0M275.9 61.3h0M292.5 71.1h0M295.6 79.3h0M292.8 49.1h0M290.2 89.2h0M292.8 77.4h0M264.4 63.2h0M291.7 93.4h0M282.2 66.3h0M286.3 83.5h0M274.8 40.6h0M281.2 63.1h0M264.9 77.9h0M305.6 56.5h0M280.7 71.1h0M299 81.1h0M277.1 37.4h0M276.6 82.3h0M293.4 72.1h0M293.9 39.4h0M304.2 84.2h0M298.3 63.4h0M308.6 84.5h0M281.9 67.1h0M275.9 39.3h0M273.3 48h0M275.4 80h0M294.1 75.6h0M283.7 75.5h0M280.9 48.8h0M277.7 86.4h0M284.2 82.1h0M300.8 81h0M281.5 60.6h0M289.6 75.7h0M264.8 73.6h0M293.5 50.9h0M297.7 86.6h0M283.5 77.7h0M287.7 94.4h0M287.4 81.5h0M289.3 65.5h0M275.7 60.1h0M282.3 62.6h0M275.4 82h0M292.3 76.6h0M278.4 67.9h0M285.8 65.3h0M275.1 76.8h0M286.4 50.5h0M301.3 63.1h0M287.4 90.7h0M290.9 87.6h0M276.9 87.9h0M317.2 79.1h0M295.7 73.4h0M273.6 73.4h0M309.8 58.6h0M282.1 46.7h0M264.6 71.9h0M268.3 42.8h0M285.4 60.5h0M283.6 43h0M283.9 55.7h0M287 91.7h0M304.7 75.3h0M297.1 78.5h0M303.8 66.1h0M298.7 74.4h0M287.7 61.1h0M278.1 55h0M287.8 68h0M287.6 65.4h0M295.1 93.9h0M299.1 47.9h0M301.6 84.6h0M299.9 56.2h0M264.8 69.1h0M278 60.1h0M260.4 56.8h0M297.4 46h0M270.4 86.1h0M265.9 78.1h0M291.2 64.1h0M282.2 58.8h0M288.4 67.7h0M285.3 78h0M279.5 70.4h0M279.4 64.7h0M293 81.9h0M280 50.6h0M281.6 39.7h0M270 84.4h0M267.5 51.9h0M289.2 79.5h0M286 53.5h0M270.6 59.4h0M274.6 55.1h0M294.2 93.2h0M283 61.6h0M291.5 74h0M280.1 88.5h0M278.4 78h0M288 82.4h0M273.8 68.9h0M269 79.2h0M263.1 51.2h0M280 66.2h0M267.8 51.9h0M268.8 52.5h0M279.1 80.5h0M281.9 82.5h0M291.4 64.6h0M279 67h0M273.2 65.3h0M300.6 94.6h0M284.4 62.1h0M296.7 75.2h0M303.1 69.6h0M277.9 71.9h0M280.2 65.4h0M273 83h0M298 77.1h0M288.9 52.7h0M285.5 78.8h0M296.8 74.8h0M291.9 76.1h0M291.8 75.9h0M279.6 36.9h0M289.2 80.8h0M298.3 81.3h0M308.8 87.4h0M280.3 84.5h0M277.4 84.6h0M315 77.5h0M276.7 75.4h0M269.6 75.1h0M294.8 88.7h0M304.7 77.3h0M275.3 84h0M270.1 40.2h0M281.6 60.7h0M275.2 44.7h0M301.8 87.4h0M275 88.5h0M280.5 44.5h0M288.5 47h0M288.8 81.3h0M268.6 46.9h0M313.9 59.6h0M297.3 94.5h0M287.8 85h0M304.4 47.2h0M276.9 47.7h0M285.1 54.7h0M302.6 68.7h0M261.2 79.8h0M297.3 77.3h0M291.8 87.3h0M267.6 45h0M288.7 47.3h0M293.7 59.7h0M303.7 87.2h0M296.9 65h0M313.3 81.8h0M298.4 77.8h0M281 89.5h0M282.7 55.9h0M298.1 78.5h0M294.5 61.6h0M300.5 74.1h0M276.3 74.4h0M260.7 73.2h0M300.7 70.8h0M288.5 90.6h0M288.9 80.7h0M286.4 50.3h0M278.8 85.9h0M315.1 83.4h0M290.5 74.3h0M300.3 77.4h0M299 74.6h0M294.9 74.3h0M271.1 81.8h0M283.6 44.3h0M281.6 78.1h0M311.1 86.5h0M289.9 73.9h0M302.6 71.3h0M291 45.1h0M288.8 70h0M300 79.6h0M300.9 85.1h0M285.6 80.7h0M285.7 60.5h0M285.1 80.3h0M288.3 76.1h0M294 57.2h0M288.6 87.1h0M291 76.4h0M277.9 66.4h0M282.8 76.8h0M282.2 80.9h0M268.7 63.5h0M273 40.2h0M278.8 59.4h0M273.8 71.1h0M292.3 66.3h0M317.3 73.1h0M282.4 48.6h0M302 71.6h0M279.2 63.3h0M279.1 79.9h0M302.1 53.2h0M300.6 69h0M273.9 61.3h0M301.8 52.5h0M260.5 70.2h0M274.2 59.2h0M276.2 80.3h0M270.6 57.6h0M283.2 88.3h0M276 57.3h0M271.8 53.2h0M296.3 63h0M264.4 66.5h0M285.7 68.6h0M276.6 59.3h0M299.5 72.6h0M271.1 49.2h0M306.2 81.3h0M290.5 48.9h0M270.2 54.4h0M288.2 63.9h0M277.5 68.6h0M289 76.1h0M279.8 64.6h0M294.5 68.8h0M266 74.3h0M292.1 67h0M284 43.6h0M274.8 78.2h0M284.3 67.6h0M293.6 68h0M307.5 55.4h0M283.8 91.2h0M279.1 88h0M303.4 78.8h0M278.9 45.2h0M274.9 77.5h0M307 78.5h0M303.9 54.3h0M279.6 76.1h0M283.4 84.7h0M282.7 66.8h0M297.4 93.4h0M286.2 57h0M282.8 71.5h0M294 52h0M281.1 42.3h0M302.1 63.3h0M313.5 78.8h0M303.2 92.5h0M307.2 92.7h0M286.2 42.6h0M260.7 52.8h0M287.3 90.5h0M300.3 63.2h0M294.7 75h0M272.8 77h0M284.6 41.1h0M280.6 49.2h0M289.5 71.1h0M307.6 84.6h0M308.2 75.6h0M279.7 68.6h0M268 77.7h0M305.5 86.6h0M291.5 53.9h0M288.6 72.5h0M299.3 62.4h0M271.2 74h0M287.4 48.7h0M268.2 68.1h0M290.4 89.3h0M297.2 52.4h0M293.3 79.8h0M295.3 70.7h0M279.5 38.4h0M279.7 74h0M294.3 64.1h0M264 68.7h0M286.7 68.6h0M288.7 49.4h0M313.3 70.3h0M270.1 61.3h0M310.5 85h0M310.8 89h0M295.9 84.4h0M308.7 84.7h0M283.9 86h0M275.2 87.3h0M282.5 44.2h0M280.1 60.1h0M278.6 60.1h0M263.5 73.6h0M286.5 38.8h0M272.8 44.5h0M286.3 76.1h0M279.8 60.6h0M287.2 80.4h0M268.2 92.5h0M297.5 50.6h0M276.8 85.1h0M282 58.6h0M310.4 88.5h0M265.4 55.4h0M280.9 58.8h0M305.6 69.5h0M264.5 80.2h0M301.6 78.5h0M308 52.1h0M265.5 74h0M274.1 90.2h0M288.1 60.9h0M267.3 62.8h0M288.6 83.1h0M285.3 89.4h0M297.8 75.7h0M297.2 74.5h0M267.8 42.4h0M297.7 65.6h0M262.8 52.3h0M292.1 66.9h0M290.6 80h0M305.1 55.1h0M286.2 83h0M276.8 53.7h0M291.3 39.1h0M260 61.6h0M273.5 48.5h0M299.6 66.3h0M284.1 87h0M312.9 62.5h0M281.8 42.9h0M294.1 82.2h0M272 57.9h0M267.1 52h0M266.4 71.2h0M302.3 47h0M282.9 84.1h0M288.8 43.5h0M280.9 40.3h0M298.5 63.3h0M291.1 69.9h0M305.2 60.7h0M293.7 48.6h0M297.9 79.8h0M263.5 77.6h0M261.2 70h0M271.1 71.4h0M278 77.2h0M289.3 78.7h0M284.7 73.9h0M273.1 78.2h0M265.4 80.5h0M284 83.5h0M274.7 65.7h0M276.1 89.5h0M281.3 54.8h0M297.4 72.9h0M286.4 43.6h0M297.4 60.9h0M298.3 50.3h0M295 49.9h0M278.3 67.2h0M285.6 69.9h0M279 73.4h0M293.5 55.6h0M309.7 77.7h0M285.4 49h0M288.6 40.4h0M277.1 85.3h0M305.6 84.7h0M279 76.4h0M297.9 62.1h0M275.7 40.6h0M273.9 67.2h0M302.1 81.3h0M271.8 46.7h0M264.3 51.3h0M281.7 51.9h0M289.2 84.3h0M306.7 60.5h0M267.4 84.9h0M288 76.3h0M278 66.4h0M282.2 84.2h0M293.8 67.8h0M287.7 72.6h0M294.8 74.4h0M281.5 79.9h0M301.6 68.3h0M311.5 70.8h0M306.7 76.7h0M286.1 67.2h0M286.2 86.4h0M288.4 84.1h0M266.5 52.4h0M278.2 48.8h0M270.5 67h0M284.3 53.7h0M284.3 63.8h0M307.5 67.4h0M264.8 58.8h0M265.8 77.6h0M292 64.3h0M305.3 49h0M283.8 56h0M296.4 47.7h0M281.3 53.6h0M266.2 67.5h0M316.3 68.4h0M287.9 92.7h0M290.6 68.2h0M279.8 66.7h0M264.9 70.8h0M261.9 55.1h0M305.4 87.7h0M316.9 75.5h0M313.7 88.5h0M297.8 88.1h0M302 76.6h0M286.3 86.2h0M292.5 64.2h0M274.6 45.5h0M300.8 45.7h0M292 64.5h0M274.6 66.3h0M290.7 88.1h0M288.6 95.2h0M278 64.6h0M273 69.5h0M268.7 64.7h0M292.6 69.5h0M276.5 48.9h0M274.5 41.4h0M270.5 72.5h0M301.8 79h0M287.7 72.4h0M281.5 81.4h0M277.2 65.8h0M297.5 77.6h0" class="pb"/><path d="M272.2 74.7h0M276.4 75.9h0M274.9 82h0M279.9 78.9h0M269.5 74.1h0M273.7 75.3h0M272.2 67.4h0M273.6 72.2h0M275.2 77.9h0M274.6 79.2h0M271.3 79.4h0M273.3 78.9h0M273.8 78h0M271.6 72.9h0M274.3 86.4h0M275.8 77h0M274.1 71.5h0M276.5 78.6h0M277.8 77.1h0M272.4 80.7h0M272.6 74.2h0M271.6 81h0M270 77.4h0M272.1 77.8h0M267 74.2h0M275.7 73.7h0M270.1 64.5h0M271.6 72.3h0M277.4 78.7h0M266.5 75.2h0M284.1 86h0M275.3 73.7h0M272.5 73.4h0M278.7 76.3h0M272.2 66.6h0M274.8 74.7h0M267.1 71.6h0M274.6 75.4h0M276.3 67h0M267.1 66.6h0M275.4 76.2h0M272.5 81.2h0M285.2 78.4h0M276 86.4h0M266.8 66.2h0M273.6 75.7h0M281.6 77.3h0M275.8 73.5h0M274.5 81.7h0M270.5 76.1h0M272.4 76.6h0M276.1 78.5h0M274 72.6h0M269.2 73.6h0M275.1 75.6h0M274.5 71.5h0M273.4 80.6h0M278.4 72.7h0M267.8 69.1h0M270 71.7h0M266.6 76.7h0M280.3 79.7h0M272.4 69h0" class="po"/><path d="M284.1 64.5h0M291.7 86.1h0M273.9 72.9h0M274.3 78.4h0M273.2 78.6h0M306.9 55.6h0M289.6 65.7h0M295 48.8h0M272 52h0M285.9 79h0M295.9 79.2h0M292.4 39.2h0M309.2 69.4h0M286.8 76.3h0M295.5 79.6h0M299.6 81.3h0M267.1 71h0M307.5 50.1h0M279.8 92.4h0M288.9 81.1h0M285.2 53.8h0M310.2 63.3h0M301.5 81.3h0M279.8 91.9h0M295.6 90.3h0M282.2 74.8h0M310.6 79.4h0M289.1 39.3h0M300.9 66.2h0M290.9 52h0M311.6 58.3h0M291.9 75.9h0M312 91.4h0M261.1 73.2h0M288.7 76.6h0M294.3 75.7h0M306.8 45.6h0M303.1 77h0M286.6 80.7h0M284.5 63.1h0M307.7 47.8h0M269.4 46.5h0M287.4 62.5h0M272.2 69.4h0M286.6 92.5h0M311.1 69.5h0M287.1 79h0M294.4 42.5h0M302.1 70.5h0M277.8 81.6h0M296.6 75h0M286 76.2h0M268.1 60.7h0M308.1 55.5h0M292.7 78.7h0M309.1 81.7h0M275.9 61.3h0M267.8 85h0M267.7 42.8h0M290.9 53h0M291.3 69.3h0M310.1 67.6h0M284.2 78.5h0M286.3 88.9h0M277.6 61.2h0M294.1 50.8h0M286.7 88h0M284.9 76.1h0M294.3 71.8h0M272.7 48.3h0M303.6 93.1h0M287.8 71.6h0M295.7 82.4h0M308.3 76.7h0M299 80.2h0M295 93.4h0M283.2 80h0M285.8 85.9h0M295 95.5h0" class="pb"/><path d="M265.8 70.2h0M273.1 76.7h0M272 73h0M264.4 69.8h0M271.3 75.6h0M271 73.6h0M268 66.2h0M275.8 85.4h0M274.6 75.9h0M266.9 69.1h0M269 71.7h0M276.7 75.2h0M273.7 70.7h0M280.5 83.7h0M271.5 78.8h0M281.8 79.7h0M271.7 74.4h0M275.2 72.9h0M276.1 79h0M270.8 73.8h0M268.1 70.1h0M269.3 71.5h0M279.2 81.1h0M269.6 66.6h0M274.5 81.4h0M275.8 78.1h0M267.3 71.7h0M267.8 66.3h0M271 78.3h0M283.8 80.9h0M276.1 79.7h0M275.4 73.9h0M274.7 65.1h0M271.6 72.4h0M278.9 78.5h0M269.7 81.4h0M271.7 81.7h0M275.5 77.1h0M270.2 77.1h0M279.7 75.2h0M278.3 81.7h0M276.9 80.7h0M271.7 71.2h0M277.9 86.9h0M262.1 68.1h0M275.5 76.6h0M275.1 80.6h0M271.9 73.5h0M279.7 79h0M271.6 68.9h0M269.2 74.3h0M276.8 80.2h0M267.5 70.6h0M267.5 66.9h0M275.6 77.3h0M270.6 68.5h0M274.8 70h0M267.2 69.3h0M265.2 70.5h0M277.3 77.9h0M274.1 81.3h0M275.7 77.4h0M276.4 86.7h0M279.1 84.5h0" class="po"/></g>
<g><path d="M341 33V101.4H407" class="ax"/><text x="339.7" y="34.6" class="t ty">40</text><text x="339.7" y="42.9" class="t ty">30</text><text x="339.7" y="51.3" class="t ty">20</text><text x="339.7" y="59.6" class="t ty">10</text><text x="339.7" y="68" class="t ty">0</text><text x="339.7" y="76.3" class="t ty">-10</text><text x="339.7" y="84.7" class="t ty">-20</text><text x="339.7" y="93" class="t ty">-30</text><text x="339.7" y="101.4" class="t ty">-40</text><text x="344.3" y="104.3" class="t">-30</text><text x="354" y="104.3" class="t">-20</text><text x="363.6" y="104.3" class="t">-10</text><text x="373.3" y="104.3" class="t">0</text><text x="383" y="104.3" class="t">10</text><text x="392.7" y="104.3" class="t">20</text><text x="402.3" y="104.3" class="t">30</text><text x="374" y="108.4" class="ta">dim 1</text><text transform="translate(335 67.5) rotate(-90)" class="ta">dim 2</text><text x="412.5" y="68.2" class="t lt">label</text><circle cx="410.4" cy="70.4" r="0.65" fill="#2079c6"/><text x="413.3" y="71.2" class="le">0.0</text><circle cx="410.4" cy="73" r="0.65" fill="#ff7f0e"/><text x="413.3" y="73.8" class="le">1.0</text><path d="M380.6 60.9h0M358.8 83.9h0M368.8 80.5h0M367.2 58.7h0M370.6 80.1h0M353.1 71.1h0M370.4 67h0M360.1 70.2h0M369.8 53.3h0M369.4 46.6h0M365.4 86.7h0M357.3 75.6h0M350.8 81.4h0M366.6 52.3h0M360.5 76.5h0M366.5 92.8h0M354.7 67.1h0M356.2 90.3h0M372.2 52.5h0M347.1 63.3h0M367.6 70h0M369 88.7h0M353.1 79.4h0M373.6 50.2h0M367.7 53.6h0M351.1 65.3h0M379.7 78.6h0M356.6 78.9h0M370.4 78.3h0M353 52.9h0M372.5 83.8h0M356.2 88.1h0M377.2 58.3h0M369.3 45.7h0M355.3 65.7h0M354.6 56h0M355.2 70.4h0M365.9 75.6h0M350.2 86.9h0M357.6 77.2h0M351.1 56.5h0M344.7 63h0M376.2 78.7h0M373.8 74.1h0M366.6 77.7h0M378.3 69.6h0M356.4 54.3h0M357.6 66.3h0M366.5 89h0M361 47.4h0M365.7 42.5h0M348.9 49.9h0M354.4 41.4h0M379.9 75h0M365.5 59.4h0M365.4 68.7h0M360.7 71.6h0M369.2 65.7h0M361.2 37.7h0M359.7 54.7h0M358.6 73.6h0M361.6 67.7h0M364.3 45.5h0M368.1 83.4h0M368.2 83.7h0M360.8 70.6h0M365.2 70.9h0M381 72.5h0M376.8 67.7h0M358.6 70.3h0M369.8 72.4h0M368.7 97.7h0M376.4 76.9h0M376.2 83.5h0M366.2 71.4h0M367 64.2h0M363.9 52.9h0M366.9 52.5h0M365.7 73.3h0M351.5 84.8h0M370.3 43.3h0M352 76.6h0M363.5 70.3h0M369.7 43.1h0M355.6 53.8h0M351.5 84.6h0M369.2 66.3h0M372 70.5h0M372.8 64.5h0M362.9 56.3h0M372.3 66.5h0M360.7 52.5h0M376.7 79.7h0M359.3 87.2h0M369.7 71.8h0M369.6 67.2h0M350.5 66.2h0M365.9 70.1h0M375.4 60.9h0M383.4 82.6h0M363 89.7h0M351.1 57.5h0M373.7 65.8h0M363.8 75.6h0M352.6 70.1h0M351.4 51h0M361.1 90.9h0M353.3 52.1h0M368.9 62.4h0M371.6 58.3h0M362.5 41h0M369.3 62.9h0M363.2 79.5h0M372.6 60.5h0M354.3 45.1h0M352.5 73.3h0M369.2 86.1h0M380.2 75.8h0M373.4 52.8h0M375.3 49.9h0M357.9 50.3h0M353.8 64.2h0M347.7 69.4h0M375.9 76.4h0M355.9 75.4h0M353.4 75.8h0M367.7 41.6h0M373.8 81.4h0M367.9 61.7h0M378.4 58.5h0M367.5 83.9h0M381.9 71.5h0M352.7 84.7h0M360.1 61.1h0M360.5 75.1h0M359.2 67.6h0M380.4 62.1h0M375.5 90.8h0M354.7 83.4h0M378 77.5h0M358.9 47.8h0M361.3 83.1h0M363.3 81.4h0M370.9 49.1h0M364.8 48.7h0M367.5 85.4h0M354.7 57.8h0M348.7 84.7h0M378.5 68.5h0M374.7 73.7h0M369.9 83.8h0M363.9 59.6h0M369.6 96h0M365.5 94.8h0M381.2 84h0M364.6 78.8h0M364.1 66.6h0M355 62h0M379.9 77h0M369.5 58.5h0M347.6 76.8h0M351 60.5h0M381 71.3h0M343.8 69h0M371.1 80h0M364.8 53.5h0M370.3 62.6h0M369.7 54.1h0M354.7 88.3h0M353.7 69.9h0M349.4 80.3h0M355.3 77.9h0M357 95.4h0M364.7 46.4h0M357.4 72.1h0M355.3 64.6h0M362.2 74.8h0M352.5 74h0M346.4 59.6h0M351.6 75.2h0M368.6 60h0M355.2 66h0M367.3 81.2h0M373.1 66.8h0M355.2 67.3h0M358.3 39h0M347.7 62.8h0M365.3 66.8h0M370.2 63.1h0M360.3 70.6h0M360.5 74.2h0M366.1 64.7h0M363.2 75.9h0M363.6 47.7h0M352.2 77.2h0M356.7 55.9h0M355.6 79h0M358.5 68.5h0M361.8 49.2h0M374.2 71.6h0M350.7 46.5h0M355.8 55.7h0M357.1 56.8h0M348.8 74.6h0M365.8 52.8h0M359.7 56.9h0M362 74.4h0M359.5 78.3h0M351.5 86.8h0M367.8 97.3h0M350 72h0M381.3 78.2h0M357 76.5h0M353.8 51.9h0M364.9 84.2h0M385.5 76.8h0M353.3 80.1h0M345.9 66.2h0M361.3 77.1h0M352.4 83.8h0M366.8 56h0M348.5 56.4h0M344.1 59.4h0M373.7 86.5h0M372.1 88.4h0M378.5 59.2h0M359.7 77.3h0M365.8 56.3h0M354.7 62h0M372.8 77h0M360.1 63.6h0M360.2 59.2h0M376.7 82.7h0M360.8 89.5h0M357.3 92.9h0M377.6 75h0M358.5 90.1h0M378.3 73.3h0M373.4 66.5h0M352.2 64.2h0M360.8 57.7h0M372.6 92h0M370.7 80h0M369.8 86.5h0M377.4 74.3h0M381.2 66.9h0M379.4 81.4h0M363.7 62.2h0M364.5 39.8h0M359.1 70.1h0M367.6 42h0M372.6 52h0M376.9 53.6h0M355 71.3h0M375.4 48.6h0M347.7 71.8h0M380.9 77.3h0M347.6 71.5h0M355.2 72.5h0M358.3 84.3h0M374.5 70h0M361.2 62.2h0M362.1 52h0M352.9 90.3h0M348.3 78.3h0M349.7 71.6h0M366.5 86.7h0M375.7 88.2h0M349.6 81.1h0M352.6 43.6h0M361.2 50.5h0M346.9 66.8h0M375.3 87.1h0M347.5 53.8h0M357.1 89.8h0M358.6 61.8h0M358.5 53.8h0M348.8 53.7h0M361.3 56.6h0M369.5 74.3h0M346.8 53.1h0M365.4 75.3h0M358.4 100.5h0M361.8 94.1h0M365.7 84.8h0M364.1 58.4h0M357.3 59.8h0M351 54.3h0M369.6 39.9h0M361.8 56.7h0M355 56.6h0M354.7 66.2h0M364.9 73.8h0M364.3 73.5h0M360 54.8h0M361.5 76.8h0M384.5 74.3h0M348 57.7h0M374.6 78.6h0M354.5 46.9h0M365.2 88.5h0M374.1 74.1h0M355.2 79.1h0M366.3 77.9h0M375.7 75.6h0M359.7 69.3h0M355.7 78.9h0M368.5 52.6h0M357 94.7h0M371.8 69.4h0M356.9 49.6h0M379 71.5h0M357 63.3h0M365.7 89.1h0M351.2 53.3h0M376.1 57h0M354 44h0M354.7 67.9h0M367.4 80.9h0M359.1 89.8h0M361.7 91h0M377.1 58.2h0M355.2 76.2h0M354.3 70.5h0M357.5 73.1h0M378.3 81.4h0M372 46h0M367.1 57.2h0M352.1 76.4h0M374.3 80.8h0M360.6 53.9h0M377.6 51h0M376.6 57.4h0M354.1 74.2h0M344.2 61.3h0M354.5 69.1h0M360.9 80.2h0M359.2 86.7h0M345.4 64.4h0M361.6 63.1h0M359.6 72.8h0M360.2 69.3h0M360.7 46.6h0M357.9 81.6h0M354.6 88.4h0M378.2 85.9h0M357.9 50.1h0M353.7 51.9h0M369.1 84.1h0M352 70.3h0M373.3 90.1h0M356.8 92.9h0M377.2 52.6h0M374.3 52.9h0M363.5 50.3h0M378.1 88.7h0M353 73.5h0M363.3 59.3h0M363.9 50.3h0M371.1 84.2h0M363.9 45.1h0M357.4 57.2h0M361.6 73.4h0M350 53.8h0M365.2 95.2h0M354.8 76.3h0M360.2 52.6h0M361.8 65.7h0M357.4 83.4h0M347 55.5h0M360.2 57.7h0M369.2 89.1h0M357.8 73.3h0M369.6 77h0M382.9 65.9h0M378.5 54.7h0M357.5 39.4h0M356.8 77.3h0M350.9 82.9h0M366.7 66.6h0M373.4 62.5h0M366.9 63.4h0M384.6 77.3h0M350.4 71.4h0M358.3 79.2h0M351.6 71.5h0M366 87.3h0M354.5 82.8h0M373.4 61.1h0M364.7 44.6h0M353.1 75.4h0M346.2 61.9h0M359.4 89.1h0M360.9 67.4h0M357.8 66.6h0M379.6 57.8h0M371.1 79.9h0M353.8 57.6h0M360.1 41.9h0M374.9 90.8h0M366.5 60.2h0M366 97.5h0M371.2 57h0M348.2 45.6h0M355.2 54.6h0M363.8 41.5h0M350.9 74.4h0M375.1 70.2h0M370.3 64.3h0M356.2 54.8h0M362.1 43.9h0M350.8 77.8h0M356.1 71.6h0M356.7 56.6h0M364.9 49.3h0M372.5 65.9h0M351.1 86.7h0M359.8 54.2h0M374.3 87.4h0M358.6 86h0M371 52.9h0M349 66.7h0M361 94.7h0M361.1 76.8h0M357.3 77.8h0M351.5 71.1h0M363.3 67.2h0M352.2 49.9h0M363.8 65h0M366 47.4h0M361 67.5h0M347.9 100.5h0M376.8 71.8h0M355 75.6h0M367.9 46.7h0M347.4 53.1h0M355.2 67.8h0M368 61.4h0M349.7 66.7h0M369.9 41.2h0M367.9 73.7h0M365.7 74.9h0M345.7 71.4h0M343.2 69.1h0M365 62.5h0M355.1 59.2h0M362.6 75.3h0M365.9 54.5h0M343.5 64.9h0M375.5 68h0M364.7 51.7h0M354.1 47h0M359.6 80.9h0M365 93.4h0M345.7 59.7h0M369.3 87.2h0M362.9 64.2h0M364.3 49.2h0M366.3 81.2h0M351.8 69.1h0M356.7 46.8h0M370.9 89.4h0M383.1 76.5h0M357.2 88.8h0M358 63.1h0M379.5 85.3h0M364.8 81h0M377 58.7h0M356.5 91.2h0M366.3 70h0M367 78h0M367.1 46.2h0M375.4 53.5h0M374.8 54.6h0M350.3 84.1h0M359.3 43.5h0M357.3 89.7h0M354.6 74.4h0M369.8 73.5h0M360.9 57.6h0M375.6 66.5h0M377 75h0M351.5 77.9h0M364.9 38.9h0M362.8 79.8h0M360.4 50.5h0M362.9 90.1h0M354.7 78.8h0M360.7 58.5h0M357.4 76h0M359.1 79.5h0M369.4 81.7h0M360.5 68.5h0M362.9 83.2h0M376.1 59.2h0M362.6 75.7h0M365.7 69h0M366.6 100.5h0M360.1 63h0M376.9 75.1h0M353.2 54.3h0M363.3 66.4h0M356.5 72.8h0M374.6 84.6h0M382.6 78h0M364.4 93.8h0M368.4 64h0M376.4 66.2h0M376.7 58.2h0M363.8 67.8h0M374.6 57.4h0M380.7 77.7h0M373.5 93h0M371.4 66.6h0M373.7 69.1h0M371.2 75.1h0M350.3 51.6h0M360.9 66.5h0M374.8 87.8h0M364.8 82.1h0M350.9 82.3h0M379.1 69.6h0M351.3 83.9h0M360.2 52.5h0M377.7 77.9h0M363 73.6h0M383.7 78.3h0M357.5 68h0M355.3 62.3h0M352.6 82.7h0M364.3 89.9h0M366.5 44.9h0M369.2 90.5h0M364.7 68.7h0M364.2 60h0M369.7 77h0M351.6 72.4h0M359.9 57.8h0M367.5 42.8h0M372.4 49.1h0M356.7 50.7h0M373.9 77.8h0M354.9 93.3h0M355.5 61.4h0M351.4 50.2h0M351.5 53.2h0M353.9 43.6h0M346.3 80h0M359.2 84.2h0M364 41.8h0M360.6 42h0M374 46.3h0M356.8 40h0M358.6 63.4h0M366.6 77.9h0M369.2 43.2h0M351.4 87.7h0M370.1 95.6h0M358.7 70.3h0M366.1 72.9h0M375.1 47.9h0M380 75.1h0M357.5 60.8h0M362.5 82.4h0M357.8 65.9h0M364.5 59.4h0M354.2 61.3h0M371.3 81.7h0M384.7 77.1h0M356.9 53.9h0M354.2 89.6h0M385.4 78h0M370.1 50.3h0M373.8 63.8h0M359.4 51.4h0M366.9 46.8h0M362.8 52.6h0M350 65.8h0M353.9 56h0M354 66.7h0M355.9 93.2h0M357.1 58.1h0M355 86.1h0M368.9 58.6h0M357.3 68h0M349.9 57.6h0M348.5 75.5h0M355.5 84.3h0M359.2 84.5h0M362 76.2h0M370.3 66.7h0M347.1 59.4h0M352 74.6h0M365 96.8h0M373.6 63.2h0M362.3 76.7h0M371.6 64.2h0M369.7 45.6h0M375.8 54.5h0M359.6 76.3h0M377.8 79.6h0M370.3 64.6h0M380 63.4h0M357.7 54.3h0M365.3 59.6h0M359.4 82.5h0M360.5 66.8h0M367.6 78.6h0M354 66.4h0" class="pb"/><path d="M357.8 55.9h0M358.8 61.2h0M357.8 58.5h0M359.2 55.2h0M360.4 56.1h0M357.1 64.2h0M357.5 57.6h0M358.2 49h0M355.3 66.1h0M356.9 65.8h0M403.4 73.8h0M354.8 49h0M356.3 61.2h0M359.9 62.5h0M354.4 52.5h0M354.4 62h0M353.7 57.3h0M360.1 59.3h0M355.2 57.2h0M355.6 67.4h0M352 57.5h0M359.3 71.2h0M358.8 63h0M360 54.2h0M359.8 54.1h0M361 63.5h0M361.9 60.2h0M359.6 60.4h0M354.4 53.6h0M357 69.6h0M358 58.8h0M363 67.9h0M357.4 61.6h0M357.8 72.7h0M356.5 58h0M361.5 66.7h0M357.4 63.4h0M355.6 62.8h0M358.3 50.6h0M358.7 58.7h0M360.3 58.2h0M357.8 42.4h0M356.5 64.4h0M357.5 42.3h0M355.2 59.5h0M354.3 63.4h0M356.2 57.6h0M359 54.7h0M354 76.5h0M354 57.1h0M358 54.2h0M354.8 62.2h0M358.7 67.9h0M355 65.2h0M354.2 58.9h0M357.2 59.1h0M355.4 57.1h0M361.7 61.6h0M354.8 62.4h0M358.2 54.6h0M358.4 59.2h0M360.5 55.4h0M359.8 61.7h0M359.8 58.9h0M359.7 65.5h0M356 56.3h0M356.6 56.4h0M358.7 53.3h0" class="po"/><path d="M381.3 68.1h0M360.5 43.1h0M365.2 58h0M352.2 78.2h0M361.7 80.9h0M351.2 93.7h0M344.7 67.8h0M373.3 71.3h0M361.9 70.5h0M376.8 53.9h0M350.8 51.9h0M358.7 64.7h0M358.6 81.1h0M367.4 62.9h0M368.5 39.1h0M383.7 69.7h0M350.5 65.7h0M371.7 65.5h0M358.8 38.7h0M354.3 63.1h0M359.4 79.1h0M368.8 44.5h0M376.7 89.6h0M374.4 92.3h0M359.1 72.9h0M376.5 59.4h0M367.9 53.5h0M344.1 70h0M369.6 70.4h0M364.2 42.8h0M364.3 94.7h0M347.1 62.6h0M346 84.5h0M363.1 48.9h0M376.8 50.3h0M358.1 95.7h0M375.2 65.9h0M372.3 40.2h0M380.7 68.3h0M357 40.5h0M361.9 80.7h0M382.2 83.2h0M369.1 48.2h0M370.3 49.7h0M346.7 86.5h0M357.1 49.3h0M354.2 44.2h0M378.9 85.7h0M372.8 60.4h0M372.7 57.7h0M383.6 71.1h0M364.6 95.4h0M378.1 65.8h0M359.5 92.2h0M356.7 46.6h0M370.2 39.9h0M373.6 57.9h0M350.9 82.3h0M370.9 55.1h0M371.7 94.9h0M378.1 66.1h0M376.4 55.4h0M342.2 53.8h0M360.2 78.5h0M368.1 46.2h0M369.1 72.5h0M366.8 96.9h0M377.7 86.6h0M357.6 68.1h0M354 57.6h0M347.6 66.6h0M355.1 77.2h0M359.1 55.6h0M369.6 41.1h0M348.6 54h0M355.2 87.7h0M366 73.2h0M348.3 50.7h0M349.7 83.6h0M366 83.5h0M351.6 88h0M371.8 61.3h0M348.6 48.4h0M370.2 83h0" class="pb"/><path d="M355.3 68.4h0M353.9 61.3h0M357.9 59.5h0M355.5 52.2h0M356.1 53h0M359.8 61.1h0M356.6 50.5h0M356.7 52h0M359.3 57.9h0M359.8 76.5h0M360 64.5h0M356.5 65.7h0M356.8 67.4h0M356.2 46.5h0M355.7 63.6h0M359.4 50.9h0M358.6 41.5h0M360.1 66.4h0M362 72.5h0M362 49.1h0M355.9 50.6h0M356.7 60.3h0M353.3 60.5h0M354.8 71h0M356.8 64.7h0M358.9 50.6h0M358.7 68.1h0M356.6 52.5h0M355 43.1h0M354.3 65.2h0M356.5 73.5h0M357.5 58.5h0M359.2 56.1h0M359.2 56.8h0M358 62.5h0M360.2 55h0M357 47.4h0M357.1 50.5h0M357.6 57.2h0M354.9 62.3h0M358.3 50.6h0M360.5 71.9h0M358.7 63.2h0M361 53.6h0M354.1 48.1h0M355.3 53.2h0M355 51.2h0M357.1 58.1h0M358.4 53.1h0M356 64.5h0M353.9 63.1h0M363 64.5h0M357.4 64.7h0M359 63h0M360 51.4h0M358.4 55.9h0M354.1 61.4h0M357.3 65.5h0M352.9 55.6h0M358 54.9h0M356.8 54h0M361.4 58.3h0M361.9 65.4h0M358.7 53.4h0M357.5 57.2h0M359 68h0M358.6 61.4h0M359.1 63.8h0" class="po"/></g>
<g><path d="M76.6 135.6V204H142.6" class="ax"/><text x="75.3" y="149.9" class="t ty">20</text><text x="75.3" y="164.4" class="t ty">10</text><text x="75.3" y="178.9" class="t ty">0</text><text x="75.3" y="193.4" class="t ty">-10</text><text x="82.1" y="206.9" class="t">-30</text><text x="91.1" y="206.9" class="t">-20</text><text x="100.1" y="206.9" class="t">-10</text><text x="109.1" y="206.9" class="t">0</text><text x="118.1" y="206.9" class="t">10</text><text x="127.1" y="206.9" class="t">20</text><text x="136.1" y="206.9" class="t">30</text><text x="109.6" y="211" class="ta">dim 1</text><text transform="translate(70.6 170.1) rotate(-90)" class="ta">dim 2</text><text x="148.1" y="170.8" class="t lt">label</text><circle cx="146" cy="173" r="0.65" fill="#2079c6"/><text x="148.9" y="173.8" class="le">0.0</text><circle cx="146" cy="175.6" r="0.65" fill="#ff7f0e"/><text x="148.9" y="176.4" class="le">1.0</text><path d="M129.3 192.4h0M105.6 190.4h0M88.5 144.4h0M109.5 190.8h0M107.4 144.1h0M111.8 199.1h0M102.3 145.6h0M101.2 186.6h0M97.2 176.9h0M113.8 192.8h0M106.1 179.5h0M108.1 179.1h0M113.1 178.4h0M115.3 193.6h0M111.7 144.2h0M124.2 181.6h0M103.3 146.4h0M125.4 171.5h0M115.7 178.6h0M131.3 181.5h0M107.1 170.9h0M84.9 185.3h0M96.4 176.7h0M98.7 196h0M100.7 193.4h0M113.6 187h0M93.1 145.1h0M95.1 185.5h0M129.7 179h0M85.4 190.1h0M91.6 143.4h0M114.2 179.9h0M113.3 184h0M105.6 186.1h0M105.6 188h0M88.9 143.8h0M97.7 187.2h0M91 179.8h0M125 179.7h0M95.7 192h0M98.4 147.9h0M116 186.2h0M102.4 148.2h0M130.3 176.6h0M127.4 196.4h0M104 191.7h0M90 145h0M86.1 192h0M126.7 192.3h0M127 182.3h0M117.8 171.7h0M108.9 141.9h0M106.9 199.6h0M125.9 179.6h0M132.2 188.4h0M124.1 188.5h0M106.6 197.8h0M111.9 188.4h0M120 193.2h0M96.8 176.1h0M105.4 145.7h0M109.3 143.5h0M108 190.3h0M126.1 175.6h0M107.5 140.5h0M115.9 188.4h0M92.2 187h0M116.7 193.3h0M103.7 182.7h0M123.4 194.9h0M100.9 145.3h0M125.7 195.3h0M106.6 199.8h0M107.6 143.1h0M110.5 181.3h0M120.1 178.2h0M123.2 191.6h0M99.5 142.8h0M102.8 172.7h0M101 143.5h0M93 146.9h0M104.2 196.7h0M128.7 179.4h0M125 177h0M120.5 191.5h0M129.3 180.5h0M111.5 190.5h0M114.6 142.1h0M119.8 190.3h0M100.6 177.9h0M118.5 177.8h0M104 191.6h0M90.6 145.8h0M104 146.3h0M120.7 192.7h0M122.6 192.7h0M105.9 187.6h0M102.6 185.3h0M82.4 186.9h0M92.7 189.8h0M108.5 144.6h0M122.5 196.7h0M91.3 182.4h0M116.6 193.7h0M85 188.5h0M97.4 179.7h0M101.9 181h0M112.7 190.9h0M128.4 179.2h0M92.2 142.5h0M137.4 175.4h0M111.4 184.9h0M124.5 196h0M96.2 179.8h0M109 142.5h0M104.6 175.5h0M92.4 183.5h0M89 191.4h0M105.8 146.2h0M99.1 177.9h0M98.4 176.3h0M111.6 143.4h0M105 143.1h0M107.7 170.5h0M111.6 189.5h0M98.7 173.3h0M124.2 196.6h0M85.4 146.9h0M111.1 143.7h0M90.2 142.5h0M109.9 174h0M106.1 140.2h0M114.8 173.7h0M99.5 187.9h0M114.7 181.6h0M109.7 174.8h0M85.5 143.7h0M116.9 174.4h0M119.9 169.7h0M134.9 176.7h0M105.7 141.9h0M132.8 185.7h0M118.8 178.1h0M116.4 175.1h0M130.8 178.2h0M111.1 197h0M109.5 194h0M135.9 173.8h0M83 186.5h0M124.6 190.2h0M112.1 176.6h0M103.2 193.8h0M105.3 177.3h0M116.6 179.2h0M116 187h0M99 185.9h0M98.5 190.1h0M106.9 146.7h0M116.4 176.4h0M107.3 198.9h0M123.7 182.9h0M135.4 178.2h0M99.9 191h0M113.8 169h0M127.9 192.7h0M118.7 191.8h0M105.8 196.6h0M131.4 178.5h0M131.2 179.5h0M113.9 195h0M104.1 146.8h0M116 180.4h0M98.5 179.2h0M120.2 197.1h0M114 185.4h0M104.3 196.1h0M94.7 176.9h0M98.9 193.1h0M96.1 145.2h0M110.4 171.7h0M97.7 190.4h0M103.5 183.5h0M99 185.7h0M101.1 147.2h0M103 141.3h0M83.8 186.4h0M100.9 187.8h0M113.1 173.1h0M99.1 149.5h0M91.7 194.1h0M99.6 173.9h0M98.6 195.3h0M116 179.2h0M128.8 188h0M131.7 178.8h0M107.4 185.9h0M95.3 195.4h0M102.4 186.6h0M103 178.4h0M108.8 183.4h0M112.3 193.5h0M123.8 184.2h0M117 191.9h0M102.7 185h0M133 184.4h0M130.6 172.8h0M89.1 191.6h0M98.3 179.9h0M82.7 190.5h0M83.2 145h0M84.7 190.1h0M87 188.9h0M107.2 186.5h0M97.5 192.4h0M108.1 190h0M127.5 170.8h0M115.6 182.9h0M114.8 191.4h0M98.2 190.5h0M108.7 175.5h0M96.2 184.1h0M92 179.3h0M94.5 189.4h0M106.7 179.4h0M93.2 178.5h0M113.7 179.8h0M106.6 195.8h0M119.4 198.5h0M109.7 193.4h0M95.6 144.5h0M137.4 178.8h0M101.4 170.9h0M94.8 187.5h0M137.9 177.7h0M97.6 148.6h0M97.1 181.6h0M105 141.8h0M116.6 190.7h0M99.3 145h0M104 188.3h0M135.5 183.5h0M102.6 196.1h0M108.4 196.4h0M121.5 173.4h0M114.8 197.5h0M118.3 198.6h0M117.4 172.4h0M103 182.5h0M117.7 170.1h0M91.4 147h0M95.9 181.6h0M114.2 180.7h0M98.2 176.1h0M115.6 188.9h0M92 181.2h0M110.7 177.1h0M97.9 141.9h0M100.8 187.6h0M95.9 178.3h0M126 191.4h0M105.3 182.1h0M101.9 196.8h0M116.1 171.2h0M123.1 196.7h0M94.3 179h0M104.1 172h0M100.4 180.9h0M117.5 188.6h0M101.6 143.5h0M117.7 193.2h0M101.5 182.9h0M99.4 183.6h0M119.3 198.2h0M122.5 171.4h0M84.8 188.6h0M93.1 141.6h0M126.6 187.8h0M120.8 194.1h0M123.8 187h0M109.5 181.2h0M123.1 182.6h0M106.3 140.1h0M127.4 180h0M116.1 190.9h0M102.3 191.1h0M122.5 177.7h0M129.1 180.5h0M108.2 186h0M81.4 190.3h0M132.8 175.3h0M134 185.4h0M132.9 177.7h0M114.4 168.3h0M97.3 188.3h0M104.2 142h0M127.5 189.2h0M122.5 173.2h0M112.9 169h0M106.3 177h0M117.4 187.3h0M133.2 178.7h0M102.7 179h0M90.5 188.9h0M123.8 170.8h0M127.5 172.8h0M130.5 173.1h0M116.9 170.1h0M94 195.2h0M88.6 144.9h0M93 191h0M105.7 194.8h0M113.4 183.3h0M105.2 196.5h0M135 176.2h0M124.3 183h0M98.1 176.9h0M126.7 179.5h0M125.5 174.2h0M99.2 184.5h0M105.8 191.7h0M110.6 192.5h0M102.9 198h0M105.6 145.7h0M95.2 184.5h0M102 197.5h0M111.4 190.2h0M100.7 144.1h0M110.4 186.9h0M129.9 182h0M99.8 194.8h0M104.5 195.4h0M103.7 178.9h0M108.2 180.7h0M84.9 188h0M125.7 188h0M99.6 192.5h0M119.2 186.9h0M105.2 178.9h0M108.3 195.8h0M126.3 173.9h0M88 185.9h0M99.4 185.6h0M88.3 143h0M84.8 145.4h0M94.5 147.5h0M118.9 190.8h0M132.5 176.3h0M93.4 146.2h0M108.8 193.2h0M127.5 171.1h0M109.6 199.2h0M119.5 169.9h0M91.3 178.6h0M114.1 196.8h0M124 171.3h0M106.8 182.9h0M96.3 179.2h0M109.6 198.7h0M101.3 148.5h0M123.8 178.1h0M133.3 175.9h0M125.5 187.5h0M111.8 143.2h0M111.7 178.8h0M119 173.8h0M129.3 177.3h0M118.9 196.9h0M89.3 143.4h0M132.8 188.9h0M107.8 147.6h0M108.3 199.6h0M125.9 171.7h0M131.7 186.1h0M93.9 176.2h0M136.9 178.5h0M133.1 189.1h0M134 177.1h0M132.3 172.1h0M95.3 181.7h0M116.5 191.8h0M102 187.9h0M126.6 179.3h0M103.7 177.5h0M111.3 142h0M122.7 191.2h0M128.5 183.6h0M90.8 192.2h0M136.7 176.3h0M100.8 186.9h0M116.3 183.7h0M94.6 146.3h0M110 186.4h0M120 184.9h0M102.3 142.9h0M82.9 190.8h0M96.5 176.4h0M91.2 147.4h0M137 180.6h0M96.6 178.2h0M105.2 193.6h0M128.5 194h0M102.9 196.7h0M109.2 190h0M110.7 176h0M121.1 171.8h0M129.3 182.6h0M108.3 144.8h0M106.3 171.3h0M113.4 198.7h0M114.9 177.8h0M97.4 193.5h0M99.6 171.4h0M109.9 140.2h0M96.7 142h0M110.6 168.6h0M112.2 143.5h0M91.5 185.1h0M84.9 144.6h0M109.5 197.7h0M94.5 193.8h0M100.4 140.2h0M106.7 180.8h0M125.3 181.1h0M93.5 193.7h0M101.1 139.9h0M104.4 192.6h0M91.2 187.4h0M108.8 193.3h0M103.5 141.9h0M103.3 170.9h0M102.9 147.5h0M107.1 141.3h0M118.8 196h0M123.4 170.9h0M136 181.5h0M100.8 177.1h0M113.1 170.7h0M115.3 183.3h0M115 198.7h0M96.6 146.8h0M111.9 173.5h0M104.2 184h0M113.8 181.8h0M136.3 180.9h0M102.2 182.5h0M118.1 184.4h0M122.3 182.7h0M109.1 199.8h0M120.7 181h0M123.8 175.6h0M108.4 146.8h0M117.8 185.8h0M137 174.7h0M95 143.5h0M113.1 172.7h0M122.1 184h0M101 143.5h0M120.7 190.2h0M105.8 187.2h0M87.5 142.8h0M122 191.8h0M118.6 172.3h0M107.8 139.9h0M109.4 189.2h0M108.9 185.4h0M104.3 196.4h0M105.9 143.9h0M115.6 192.3h0M99.3 181.8h0M112.6 194.7h0M116.2 179.3h0M128.3 192.2h0M111.7 185.4h0" class="pb"/><path d="M87.7 189.7h0M82.3 185.8h0M88.8 189.4h0M82.4 186.5h0M97.8 199.2h0M89.5 147.4h0M94.4 149.6h0M85.6 192h0M98.4 198.1h0M86.3 188.9h0M100.4 200.2h0M102.1 198.8h0M105.5 146.1h0M86.5 188.1h0M87.2 190.3h0M82.5 188.8h0M85.4 189.3h0M93.7 147.9h0M83.5 187.7h0M90.1 149.1h0M83.3 189.2h0M99.9 199.2h0M122 195.3h0M84.1 186.3h0M82.5 188.9h0M92.6 147.7h0M85.1 189h0M98.1 198.3h0M85 188.8h0M97.2 200.8h0M88.8 191h0M101.7 199.1h0M83 192.1h0M88.1 187.3h0M85.7 191.2h0M96.1 148.5h0" class="po"/><path d="M119.3 180.7h0M104.4 184.5h0M121.3 178.1h0M131.4 180.4h0M110.5 177.6h0M129.3 177.7h0M102.5 184.4h0M128.4 181h0M110.2 182.3h0M87.3 144.2h0M94.4 141.1h0M100.2 191.8h0M92.6 181.4h0M131.1 178h0M110.7 172.3h0M100.9 148.4h0M111.2 139.9h0M114.4 170h0M116.7 198h0M130.3 192.6h0M119.5 179.3h0M114.5 184.1h0M93 194.9h0M105.2 148.6h0M115.8 178.2h0M111.4 180.8h0M122.7 188.4h0M94.2 186.2h0M94.1 177.8h0M121.6 173.9h0M97.1 141.7h0M85.9 145.9h0M114.2 192h0M114.1 171h0M110.8 196.6h0M96.4 182.7h0M130.9 185h0M128.6 194.7h0M129.9 188h0M127.9 191.5h0M138.3 175.6h0M115.4 180h0M94 194.9h0M93.1 192.4h0M101.5 194.1h0M108 174.3h0M119.8 198.1h0M121.3 182.9h0M134.5 186h0M97.3 147.5h0M89.9 189h0M124 194.9h0M115.4 198.8h0M87.4 146.6h0M128.7 187.5h0M123.5 193.5h0M104 185h0M114.6 197.5h0M131.2 171.9h0M114 182.3h0M108.1 142.4h0M136.6 175.5h0M89.4 142.3h0M97.7 192.8h0M138.4 174.3h0" class="pb"/><path d="M86.2 188.3h0M84.2 188.2h0M102.5 147.8h0M94.1 147.3h0M84.2 190.4h0M104.1 145.8h0M85.3 190.1h0M84.8 189.5h0M104.1 146.8h0M97.8 147.3h0M85 188.4h0M99.4 149.5h0M85.4 187.6h0M84.1 189.8h0M80.3 190.3h0M85.1 188.6h0M95.3 147.2h0M85.4 188.3h0M98 199.5h0M86.9 187.2h0M94.5 146.2h0M117 182h0M117.9 188.6h0M96.7 148h0M85.8 189.2h0M94.7 148.1h0M98.9 199.5h0M98.4 200.2h0M85.8 188.3h0M100.3 146.4h0M100.4 147.2h0M100.9 199.7h0M87.4 187.6h0M88 188.7h0M99.7 148.7h0M86.4 190.1h0" class="po"/></g>
<g><path d="M164.6 135.6V204H230.6" class="ax"/><text x="163.3" y="141.4" class="t ty">30</text><text x="163.3" y="151" class="t ty">20</text><text x="163.3" y="160.6" class="t ty">10</text><text x="163.3" y="170.2" class="t ty">0</text><text x="163.3" y="179.8" class="t ty">-10</text><text x="163.3" y="189.4" class="t ty">-20</text><text x="163.3" y="199" class="t ty">-30</text><text x="167.3" y="206.9" class="t">-30</text><text x="178.1" y="206.9" class="t">-20</text><text x="188.9" y="206.9" class="t">-10</text><text x="199.7" y="206.9" class="t">0</text><text x="210.5" y="206.9" class="t">10</text><text x="221.3" y="206.9" class="t">20</text><text x="197.6" y="211" class="ta">dim 1</text><text transform="translate(158.6 170.1) rotate(-90)" class="ta">dim 2</text><text x="236.1" y="170.8" class="t lt">label</text><circle cx="234" cy="173" r="0.65" fill="#2079c6"/><text x="236.9" y="173.8" class="le">0.0</text><circle cx="234" cy="175.6" r="0.65" fill="#ff7f0e"/><text x="236.9" y="176.4" class="le">1.0</text><path d="M196.4 163.7h0M204 162.9h0M190.6 150.5h0M186.4 178.5h0M190.3 184.1h0M198.4 180.7h0M187.3 163.4h0M224.4 157.3h0M197.8 181.9h0M222.4 162.6h0M180.5 174.2h0M218.1 176.8h0M213.3 180.2h0M190.4 181.5h0M218.1 156.8h0M222.2 146.2h0M220.2 151.8h0M215.5 147.1h0M213.5 149.8h0M176.8 157.7h0M184 156.6h0M185.7 183.5h0M180.9 177.1h0M206.3 190h0M213.7 174.5h0M179.7 172.5h0M196.8 165.2h0M184 178.2h0M195.3 143.3h0M203.6 165.6h0M204.7 180.6h0M224.9 156h0M206.2 176.9h0M218.5 147.9h0M200 194.8h0M180 155.1h0M179.7 168.2h0M179 155.9h0M200.6 174.6h0M202.4 188.3h0M208.6 180h0M201.3 190.6h0M174.6 169.3h0M212.7 159.2h0M185.7 149.2h0M224.7 156h0M221.7 144.4h0M198.9 197.1h0M223.9 170.1h0M194.5 160.7h0M193.3 150.3h0M196.9 154.6h0M180.7 168.3h0M190.8 189.1h0M186.2 166.1h0M193.5 186.9h0M198.5 184.8h0M199.2 186.7h0M181.6 169.2h0M213.3 155.8h0M182.1 154.9h0M197.2 143h0M216.4 175h0M214.8 177.1h0M196.9 195.6h0M209.1 176.2h0M209.2 175.9h0M176.4 165.5h0M196.8 197.3h0M201 143.1h0M219.1 170.6h0M223.7 146.1h0M185.2 153.7h0M223.3 148.5h0M213.5 179.9h0M211.3 178.8h0M206.9 163.6h0M211.3 168.9h0M193.1 146.9h0M214.2 150.9h0M216.2 172.7h0M191.6 181.7h0M201.3 152.4h0M220 170.2h0M187.5 180h0M190 174.6h0M219.6 151h0M222.6 146.1h0M202.4 180h0M197.4 196.3h0M194.2 192.8h0M171.6 160.6h0M178.4 180h0M202.6 173.3h0M187.4 159.7h0M178.2 154h0M179 176.3h0M214.4 182.5h0M199 195.2h0M212.5 170.2h0M210.2 178.9h0M218.9 176.9h0M195.4 187.9h0M207.7 180.2h0M224.9 152.4h0M219 157.3h0M183 172.2h0M216.1 180.9h0M226.5 171h0M216.8 172.1h0M181.6 173.5h0M221.2 154.9h0M190.9 144.3h0M169.5 163.3h0M214.2 177.3h0M197.2 195.7h0M226.5 148.4h0M190.3 188.6h0M222.7 158.5h0M188.4 164.7h0M222.8 159.4h0M185.8 172.4h0M213.5 161.7h0M220.6 170.5h0M209.5 171.1h0M199.3 147.8h0M204.4 184.8h0M220 154.2h0M190.2 173.2h0M222.7 164.6h0M215.1 153.2h0M196.2 195.6h0M178 168h0M191.2 181h0M211.8 160.6h0M192.1 165.5h0M211.8 174.7h0M218.1 145.8h0M215.2 178.8h0M214.9 176.4h0M224.4 151h0M199.6 172h0M203.1 147h0M197.9 147.7h0M198.2 164.6h0M172.2 166.1h0M185.9 150.3h0M218 165.5h0M211.7 164.9h0M193 186.2h0M195.5 177.2h0M182.5 155h0M216.2 170.8h0M197.5 150.6h0M200 192.2h0M206.5 156.7h0M188.7 185.8h0M222.7 147.3h0M221 146.3h0M203.1 187.3h0M179.4 155.3h0M223.4 174.3h0M220.1 151h0M186.5 160.9h0M181.7 165.9h0M189.6 157.1h0M196.6 156.4h0M215.6 160.3h0M196.4 175.1h0M181.9 176h0M187.9 163.2h0M187.4 145.6h0M209.1 172.9h0M190.9 172.5h0M191.9 194.3h0M189 171.5h0M198.8 161.4h0M214.1 169.8h0M192.1 155.3h0M206.4 167.9h0M226.2 154.9h0M201.4 194.3h0M217.5 162.5h0M212.1 176.3h0M215.4 152.8h0M178.2 152.5h0M221.8 149.2h0M198.8 170.3h0M198.9 169.3h0M194.2 162.3h0M192.4 156h0M210.7 176h0M185.4 158.4h0M204.8 160.5h0M203.7 167.4h0M174.8 167.5h0M198.8 180.9h0M216.9 163.3h0M193 148.5h0M191.9 154.5h0M206 173.5h0M183.8 175h0M214.8 154h0M201.3 197.5h0M205.2 159.8h0M213.4 156.3h0M203.4 178.3h0M202.7 152.5h0M180.2 167.9h0M184.6 169.9h0M187 171.4h0M221.1 167.5h0M223.7 153.1h0M193.1 173.6h0M198.3 191.7h0M225.4 150.8h0M207.7 150.4h0M198.8 189.6h0M215.1 151.4h0M187.1 156.4h0M226.1 172.3h0M196.2 202.2h0M206.4 158.1h0M223.7 144.6h0M201 157.7h0M214.6 172.1h0M185.7 170.3h0M205.6 194.4h0M199 185.8h0M200.1 194.9h0M210.2 174.4h0M206.6 172.2h0M219.4 150.6h0M190.2 196.7h0M201 157.6h0M208.7 191h0M224.3 164.5h0M217 168.6h0M193.1 200h0M193.7 181.3h0M198 150.8h0M195.4 154.6h0M188.4 178.1h0M213.7 174.7h0M196 147.1h0M194.3 154.6h0M217.6 170.8h0M221.6 178.2h0M197.2 158h0M200.3 166.1h0M201.3 168h0M221.2 155h0M203.7 171.1h0M188.4 171.8h0M183.8 153.4h0M227.5 151.1h0M185.1 152h0M184.8 171h0M181.2 166.6h0M199.1 186.8h0M186.5 184.7h0M175.9 155.8h0M174.4 156.8h0M197.3 198.9h0M176.9 169.5h0M192.2 196h0M203 148.9h0M211.2 184.6h0M203.4 148.9h0M177.6 161.7h0M204.3 169.8h0M219.5 178.3h0M184.3 174h0M224.9 166.2h0M184.1 170.4h0M207.4 172.5h0M173.8 171.7h0M177.1 176.1h0M226 151h0M201.1 176.1h0M221.6 141h0M175.6 175.2h0M193.3 157.5h0M212.7 171.8h0M197.4 166.1h0M193.1 190.6h0M190.6 144.1h0M179.8 170.3h0M198.6 153.4h0M222.7 166.5h0M204.8 154.2h0M185.9 171.6h0M215.5 157.6h0M221.7 163.3h0M223.6 155.1h0M202.8 198.6h0M222.9 149.2h0M212.7 173.7h0M182 172.2h0M189.7 174.5h0M174.2 170.7h0M206 182.3h0M223.4 161h0M183.5 179.9h0M223.5 171.3h0M191.4 149.2h0M178.3 162h0M188.7 174h0M186.2 184.5h0M209.7 186h0M212.6 186.4h0M194.5 178.1h0M219.6 169.9h0M209.5 175.3h0M182.3 173.8h0M199.1 144.4h0M181.9 167h0M187.7 173.8h0M205.1 192h0M188.5 185.1h0M174.6 166.6h0M183.4 178.4h0M206.6 170.7h0M186.2 161.6h0M196.3 185.6h0M223.6 142.7h0M178.5 158.5h0M205.4 158.1h0M224.8 147.9h0M183.2 172.5h0M184.5 162.5h0M208.4 171.7h0M209 176.6h0M213.7 174.5h0M188.6 175h0M222.4 153.6h0M190.7 175h0M222 172.5h0M170.9 166.7h0M189.7 145.2h0M190.8 172h0M209.8 175.8h0M193.5 174.5h0M204.3 159h0M207.9 180.6h0M202.5 184.6h0M181.3 172.2h0M200.1 143.7h0M177.5 155.2h0M223.4 158.2h0M180.2 169.9h0M212.1 185.1h0M190.3 189.3h0M198.3 196.3h0M203.5 168.8h0M202.5 157.3h0M184.1 188.8h0M207.2 153.1h0M218.4 176h0M189.1 163.9h0M190.6 167.2h0M208.5 159.7h0M222.8 155.1h0M225.6 161.1h0M187.4 170.8h0M183 154.7h0M198.9 197.7h0M178.6 171.4h0M211.6 186.6h0M225.9 172.6h0M211.9 162.9h0M197.7 197.6h0M204.4 175.2h0M197.7 195.8h0M182.3 173.4h0M201.6 169.1h0M181 157.3h0M205.4 150.6h0M203.8 144.2h0M182.9 170.1h0M173.8 160.2h0M184.2 174.6h0M183.8 163.4h0M195.8 156.8h0M201 199.4h0M210.2 176.7h0M220 156h0M192.2 194.3h0M188.6 159.2h0M205.2 153.3h0M210.7 178h0M197.8 185.6h0M185.3 158h0M199.1 200h0M185.4 174.7h0M185.1 152h0M193 146.9h0M216.5 152h0M176.3 156.1h0M178.9 156.6h0M176.9 178.5h0M199.7 180.4h0M176.7 177.5h0M185.7 157.6h0M197.9 184.2h0M195.4 169.7h0M172.8 168.7h0M213.6 165.4h0M189 166.6h0M199.3 199.4h0M197.8 194.6h0M211.4 154.4h0M211.7 176.3h0M182.8 167.9h0M217.9 146.9h0M181.3 155.2h0M201 193.3h0M218 163.3h0M184 165h0M220.1 166.5h0M218.2 182h0M218.1 165.2h0M227.8 153.3h0M177.1 165.9h0M195.2 185.7h0M220 168.9h0M191.1 153.8h0M217.3 156.8h0M218.7 160.7h0M193.7 182.7h0M218.8 150.2h0M210.5 175.9h0M181.4 157.7h0M222.3 152.7h0M190.7 170.7h0M214.5 177.4h0M183.3 167.9h0M179.6 162h0M222.2 153h0M198.3 196.3h0M192.9 153.3h0M189.1 194.9h0M182.1 155.8h0M215.5 167.8h0M196.1 196.2h0M180.6 162.6h0M224.3 156.4h0M204.7 195.2h0M218.6 170.5h0M188.4 160h0M192.5 175.9h0M178.9 174.8h0M204 169.9h0M190.3 155.1h0M209 174h0M191.4 162.1h0M178 175.8h0M220.8 156.2h0M209.4 181.8h0M192.7 189.1h0M203.7 196h0M199.7 197.2h0M203.7 154.6h0M213.4 182.5h0M190.1 186.3h0M213.8 164.6h0M193.2 162.4h0M212.7 173.6h0M187.9 173.2h0M199.8 195.8h0M199.8 190.2h0M200.4 193.2h0M203.7 180.4h0M226.5 152.8h0M214.9 155.7h0M201.3 161.8h0M224.5 169.4h0M198.2 199h0M195.4 196.5h0M212.9 181.9h0M196.3 164.3h0M194.9 144.4h0M220 154.4h0M216.9 169.2h0M192.1 173h0M171.2 161.1h0M172.4 164.4h0M172.2 166.4h0M191.6 197.5h0M185.2 185.7h0M209.6 169.4h0M190.7 171.9h0M197.8 194.3h0M221.7 152.8h0M197.7 191.1h0M183.4 184.8h0M183.1 157.3h0M218.8 155.1h0M222 173.5h0M187.3 177.9h0M224.8 158.6h0M212.1 185.8h0M220.5 164h0M193.6 177.9h0M174.5 174.9h0M198 180.8h0M169.3 161.6h0M184.7 183.8h0M180.1 171.2h0M189.6 152.6h0M185 148.5h0M183.9 158.9h0M212.8 150.9h0M204.1 163.5h0M219.6 161h0M194.5 191.6h0M217.6 167.1h0M188.1 160.6h0M203.1 157.2h0M224.9 145.6h0" class="pb"/><path d="M192.5 188.5h0M192.8 147.2h0M193.4 150.4h0M196.6 148.3h0M198.1 145.2h0M193.8 140.6h0M196.5 143.4h0M190 149h0M193.2 140.3h0M221.8 159.1h0M191.3 137.6h0M196.1 148.2h0M223.7 159.3h0M195.4 149.6h0M203.4 145.2h0M190.7 149.5h0M194.3 149.8h0M193.6 145.1h0M194 144.7h0M223.9 160.8h0M220 181.2h0M191 142.2h0M194.3 146.6h0M195.6 146.8h0M221.3 161.2h0M198.9 147.2h0M195.8 147.8h0M224.3 160.7h0M190.5 142.9h0M224.3 159.9h0M197.6 142.7h0M197.4 137.3h0M194.5 143h0M223 161.7h0M193.3 150.5h0M189.6 147.4h0M219.1 179.5h0M191.1 144.9h0M193.1 147.2h0M196.4 144.4h0M198.1 147.3h0M194.5 145.2h0M195.2 148.4h0M193.2 143.8h0M197.1 145.3h0" class="po"/><path d="M197.1 143.9h0M183.1 169.8h0M179.2 158h0M201.7 196.5h0M213.3 176.9h0M220.4 149.4h0M191.2 146.7h0M205.3 149.3h0M181.1 150.9h0M210.3 175.3h0M200.7 184.3h0M184.1 168.9h0M184.8 155.6h0M214.5 168.8h0M191.9 192.3h0M202.2 149.4h0M192.3 190.4h0M222.1 149.8h0M198.5 189.8h0M225.7 160.3h0M185.9 181.6h0M199.7 166.7h0M211.3 185.1h0M192.8 191.2h0M185.5 168.3h0M180.5 167.7h0M169.3 164.9h0M220.4 161.6h0M214 157.5h0M177.2 156.9h0M214.1 169.2h0M217.9 160.2h0M220.6 174.7h0M224.8 165.4h0M195.9 174.7h0M208.5 167.2h0M198.4 195.5h0M199.6 196.1h0M215 182.8h0M208.5 172.3h0M195 195.2h0M202.5 197h0M220.5 153.4h0M178.8 171.2h0M209.9 154.5h0M203.9 196.3h0M211.3 178.4h0M183.4 160.2h0M217.3 155.8h0M212 173.9h0M198.8 164.3h0M211.1 163.1h0M187.3 166.2h0M219.8 168.6h0M182.6 180.4h0M195.1 190.9h0M213.9 181.7h0M206.5 153.1h0M212.6 182h0M221.2 164.8h0M179 175.5h0M217.2 177.2h0M207 178h0M173.6 163.9h0M220.5 153.2h0M199.8 170.4h0M174.2 155.4h0M225.1 146.6h0M202.3 195h0M221.6 161.1h0M187.9 172.1h0" class="pb"/><path d="M224.8 160.1h0M194.6 146.2h0M197.5 144.2h0M196 146.3h0M199.7 142.1h0M204.2 143.9h0M200.7 139.2h0M222.1 161h0M199.3 147.4h0M190.2 142.6h0M190.9 141.9h0M192.6 164.6h0M194.5 146.6h0M201.9 152h0M199.6 140.6h0M194.9 142.8h0M192.1 145.2h0M195.8 140h0M192.1 145.2h0M195.2 142.6h0M193.5 148.1h0M197.4 146.4h0M193 145.2h0M203.5 146.1h0M199.7 148.9h0M201.1 140.5h0M190.1 146.7h0M191.8 187.8h0M195.3 138.6h0M195.2 144.2h0M201.8 138.5h0M194 146.8h0M194.1 144.7h0M189.4 142.7h0M192.7 146.1h0M193.1 137.1h0M198.3 147.9h0M198.2 145.6h0M200.5 145.7h0M193.7 144.2h0M220.5 159.3h0M196.1 147.4h0M193.8 146h0M196.8 144.1h0M196 144.7h0" class="po"/></g>
<g><path d="M254.2 135.6V204H320.2" class="ax"/><text x="252.9" y="147.1" class="t ty">30</text><text x="252.9" y="158" class="t ty">20</text><text x="252.9" y="168.8" class="t ty">10</text><text x="252.9" y="179.7" class="t ty">0</text><text x="252.9" y="190.5" class="t ty">-10</text><text x="252.9" y="201.4" class="t ty">-20</text><text x="254.5" y="206.9" class="t">-30</text><text x="265.1" y="206.9" class="t">-20</text><text x="275.6" y="206.9" class="t">-10</text><text x="286.1" y="206.9" class="t">0</text><text x="296.7" y="206.9" class="t">10</text><text x="307.2" y="206.9" class="t">20</text><text x="317.8" y="206.9" class="t">30</text><text x="287.2" y="211" class="ta">dim 1</text><text transform="translate(248.2 170.1) rotate(-90)" class="ta">dim 2</text><text x="325.7" y="170.8" class="t lt">label</text><circle cx="323.6" cy="173" r="0.65" fill="#2079c6"/><text x="326.5" y="173.8" class="le">0.0</text><circle cx="323.6" cy="175.6" r="0.65" fill="#ff7f0e"/><text x="326.5" y="176.4" class="le">1.0</text><path d="M284.1 158.1h0M269.6 157.5h0M259 167.9h0M284.8 166.9h0M285.6 158.8h0M274.9 183.4h0M280.6 193h0M288.9 155.5h0M278.9 195.7h0M281.1 159.6h0M296.9 152.8h0M274.9 166.7h0M287.2 178.6h0M285.4 177.7h0M301.3 174.2h0M301.1 164.4h0M286.5 164.6h0M277.8 190h0M308.9 151.3h0M300.2 157.8h0M297.2 173.3h0M294.5 148.2h0M286.8 181.2h0M273.4 166.9h0M268.5 146.8h0M275.2 167.7h0M262.2 163.1h0M269.4 179.2h0M304.9 170.2h0M263.4 153.2h0M312.8 151.8h0M267.8 181.2h0M293.5 181.5h0M296.2 166.9h0M290.9 197.2h0M293.5 188.2h0M268.6 163.8h0M306.2 160.9h0M306.2 151.1h0M260.2 165.2h0M296.6 191.2h0M271.8 157.9h0M276.3 179.3h0M282.7 171.9h0M288.1 169.9h0M273.5 150.4h0M279 151.7h0M305.3 163.4h0M309.9 147.4h0M302.8 190.9h0M314.2 159.3h0M298.9 156.5h0M305.8 158.6h0M275.1 181.1h0M275.3 166.9h0M277.5 182.5h0M285.7 175.3h0M311.7 160.3h0M268.3 182.8h0M261 169.5h0M283.7 180.9h0M297.1 173.8h0M314 149h0M308.7 146.1h0M315.3 153.5h0M287.4 186.4h0M285.5 182.1h0M286.9 191.1h0M290.8 169.4h0M282.3 176.3h0M316.9 159.6h0M300.1 189.7h0M259.8 170.2h0M282.4 171.9h0M271.5 176.1h0M279.4 170.5h0M286.6 148.6h0M297.7 160.1h0M285.2 177.9h0M305.1 158.8h0M271.9 146.5h0M283.7 170.1h0M296 171.8h0M307.2 162.2h0M305 152.1h0M278.4 163h0M287.6 176h0M286.4 166.5h0M278.4 163.1h0M313.8 160.2h0M291.7 174.7h0M278.2 164.5h0M294.8 183.7h0M280.2 173h0M306.8 151.7h0M280.7 185.5h0M292 174.8h0M303.8 154.3h0M280.4 163.2h0M292.4 174.1h0M280.7 160.9h0M294.8 167.5h0M287.3 170.5h0M291 171.6h0M270.5 188.3h0M300.6 187.5h0M287.8 188h0M259.8 163.3h0M310.3 161.2h0M313.3 154.4h0M306.3 160.6h0M277.8 182.3h0M292.5 157.1h0M283.6 166.9h0M311.5 167.3h0M302.6 170.5h0M287.7 151.9h0M281.3 158.7h0M292.8 160.6h0M281.2 142.9h0M306.4 170.5h0M273.3 195.4h0M299 152.3h0M285.2 171.2h0M285.9 152.1h0M296 153.1h0M263.1 169.9h0M278.3 170h0M306.9 180.4h0M278.6 145.3h0M260.9 161.8h0M284 180.2h0M280.6 167.9h0M307.9 155.3h0M271.7 162.9h0M295.1 176h0M287.3 165.5h0M314 160.1h0M275.3 190.8h0M268.2 154.4h0M307.7 153.6h0M279.5 187.7h0M287.3 190.4h0M295.3 169.5h0M286.5 163.8h0M274.3 176h0M273.5 172.8h0M281 158.9h0M306.2 154.7h0M271.6 163.8h0M262.9 158.7h0M273.8 173.3h0M292.2 155h0M301.2 187.4h0M281.7 184.9h0M281.4 164.9h0M279.5 168.6h0M298.9 157.8h0M271.8 184.6h0M292.4 172.8h0M282.4 181.1h0M270.1 172.5h0M316.2 147.9h0M285.3 180.5h0M284.4 163.4h0M290.2 145.4h0M268.9 173.4h0M310.6 156.5h0M286.8 154.2h0M288.7 189.7h0M287.9 147.1h0M293.2 151.5h0M271 172.9h0M272.4 195.4h0M309.8 164.4h0M280.4 169.3h0M293.4 147.7h0M263.2 166.2h0M311.3 152.4h0M278.7 160.9h0M286.7 179.3h0M285.2 150.4h0M272.4 157.7h0M267.8 147.3h0M310.6 146.6h0M272.9 154.1h0M259.6 170.2h0M258.7 164.4h0M285.9 149.5h0M293.5 156.4h0M290.1 178.6h0M292.5 150.4h0M288.6 188.4h0M283.3 155.9h0M300.6 161.7h0M264.1 158.1h0M292.1 164.3h0M284 182.3h0M296.7 163.1h0M301.8 157.8h0M273 184.1h0M290.5 163.4h0M282.3 158h0M290.4 169.8h0M270.3 161.8h0M302.8 167h0M277.3 144.8h0M278.8 157.9h0M295.5 165.1h0M285.9 162.9h0M277.6 165.7h0M315.5 166.4h0M286.1 164.8h0M280.6 165.9h0M272.9 166.5h0M272.8 158.9h0M278.2 160.9h0M271.3 162.8h0M293.9 193.5h0M310.5 146.6h0M271.6 167.7h0M288.8 178.1h0M286 173.6h0M289.1 153.5h0M298.1 152.8h0M287.7 150.6h0M316.8 163.2h0M275 165.5h0M307.6 166.2h0M303.1 183.6h0M279.9 190.6h0M280.5 174.3h0M306.7 159.1h0M310.7 151.2h0M297.2 187.1h0M307 167.6h0M274.8 155.7h0M305.6 170.7h0M268 174.2h0M297.9 190.7h0M290.6 178.4h0M272.6 149.8h0M311.8 154.4h0M284.3 178.6h0M307.1 168h0M293.2 156.3h0M295.6 162.1h0M278.8 165.7h0M303.6 151.9h0M291.2 189h0M308.6 155.4h0M272.3 175.4h0M308.6 164h0M279 161.4h0M274.4 162h0M278.6 175.8h0M310.3 150h0M263.3 162h0M283.7 165.2h0M286.8 178.9h0M307.3 176.5h0M299.6 158.7h0M316.3 167.1h0M301.6 182h0M310.8 175.4h0M301.6 178h0M301.1 158.7h0M278.5 149.5h0M305.8 161.5h0M276.6 142.9h0M264.2 162.1h0M286.7 164.1h0M280.6 157.9h0M284.5 156.1h0M301.1 153.6h0M283.3 190.9h0M277.4 166.1h0M296.9 154.4h0M288.7 152.8h0M260.4 159.9h0M315 163.6h0M292.4 191.6h0M269.8 161.2h0M266.1 172.6h0M287.1 192.5h0M281.7 169.3h0M304.2 147h0M267.6 148.1h0M279.4 189.5h0M283.1 161.5h0M301.4 186.5h0M315.1 158.8h0M263.9 166.2h0M274.9 148.7h0M310.9 153.3h0M287.6 175.1h0M304.8 152.8h0M304 153.8h0M307.6 163.1h0M292.6 146.1h0M284.8 146.8h0M283.3 190.1h0M298.6 174.7h0M288.4 176.7h0M260.2 163.1h0M313.9 167.1h0M287 167.2h0M286.5 144.8h0M289.8 171.5h0M269.8 172.4h0M291.1 147.3h0M313 170.4h0M280.9 172.4h0M309.4 156.9h0M270.6 146.7h0M304.3 166.3h0M304.2 175h0M276.8 165.1h0M287.2 197.9h0M276.2 164.9h0M280.1 162.4h0M295.8 158h0M257.9 166.1h0M281.5 152.8h0M310.8 149h0M307.3 159h0M285.2 179.4h0M295.7 179.3h0M283.5 182.9h0M290.1 168.1h0M273.4 170.2h0M282.2 185.9h0M295.9 185.1h0M292.8 167.2h0M278.7 147.8h0M265.4 158.6h0M310.7 161.2h0M279.3 154h0M282.2 151.8h0M297.9 172.4h0M295.3 153.4h0M260.1 161.4h0M291.9 156.2h0M303.6 150.5h0M297.7 158.5h0M269.8 164.3h0M264.4 172.1h0M306.2 144.8h0M280.9 166.1h0M298 159.7h0M292.7 178.2h0M278.7 188.6h0M314.8 154.3h0M293.4 145.5h0M284.3 149.1h0M267.6 168.1h0M293.8 186.9h0M300.2 186.3h0M312.6 150.3h0M282.9 177.5h0M292.1 181h0M304 184.9h0M266 175.2h0M266.1 147.3h0M259.8 160.5h0M273.5 181.7h0M272.6 172.6h0M268 183.8h0M297.5 159.5h0M265.9 173.5h0M268.8 171.8h0M312.6 173.7h0M306.1 155.2h0M272.7 143.2h0M296.7 150.9h0M281 172.5h0M292.4 179.6h0M297.4 176.6h0M294.7 157.3h0M287.3 158.7h0M300.3 182.8h0M272.1 162h0M281.7 144.5h0M301.9 175.4h0M304.1 178.1h0M274 161.8h0M313.4 150.9h0M304.2 183.6h0M301.9 148.5h0M268.4 159.2h0M258.8 165.6h0M283.3 174.7h0M312.5 159.2h0M264.7 157.6h0M276.3 187.1h0M266.4 149.3h0M276 164.8h0M283.1 194.5h0M311.6 151.3h0M305.6 154.4h0M297.6 166h0M296.2 176.3h0M269 144.9h0M302.6 156.8h0M286.7 167.1h0M259.9 161.4h0M272.3 181.2h0M307.5 154.6h0M270 152.2h0M291.4 178.8h0M269.5 152.1h0M290.7 172.9h0M271.5 186.7h0M293.8 173h0M307.5 180.1h0M296.7 172.2h0M294.5 172.7h0M291.7 194.9h0M277.8 191.4h0M292.1 147.1h0M303.4 180.6h0M305.4 179.5h0M283.5 163.9h0M286.4 166h0M281.2 161.5h0M312.9 153.7h0M271.2 159h0M263.8 169.2h0M286.2 193.1h0M290.9 165.4h0M289.5 159.1h0M281.7 196.8h0M274.1 180.1h0M301.3 151.4h0M283.5 177.8h0M289.6 168.5h0M276.8 185.2h0M290.2 159h0M263.5 163.5h0M302.6 156.1h0M303.9 169.3h0M277.6 150.3h0M300.3 150.3h0M268.5 168.5h0M290.1 145.2h0M271.7 168.4h0M261.1 161.4h0M268.7 167.7h0M302.4 174.5h0M263.9 154h0M278.2 175h0M303.2 182.6h0M261.9 164.2h0M264 164.8h0M272.5 166.4h0M292.2 151.7h0M276.5 188.1h0M264 154.2h0M268.9 170.9h0M310.8 159.1h0M269.6 177.5h0M304.6 176.6h0M286 178.4h0M289.1 180.4h0M314.4 164.2h0M280.4 166.9h0M279.6 162h0M287.4 182.7h0M274.8 192.5h0M311.1 146.3h0M275 184.3h0M274.9 182h0M290.8 174.4h0M267 164.8h0M292.9 174h0M275 142.7h0M280.9 173.3h0M313.5 160.4h0M292.4 194h0M278.6 163.9h0M283.2 149h0M303.2 166.2h0M266.2 159.7h0M291.3 187.6h0M281 159.1h0M276 193.3h0M256 160.2h0M275 170.5h0M281.2 180.8h0M264.2 183.9h0M278 181.4h0M309 160.3h0M292.4 142.7h0M293.4 195h0M288.2 161.2h0M265.9 146.5h0M294.1 183.8h0M277.2 172.2h0M282.5 143h0M303.6 158.4h0M282.3 185.5h0M279.7 161.2h0M275.8 174h0M297.7 180.3h0M296 175.6h0M286.4 146.8h0M280.4 177.1h0M305.5 165.2h0M304.6 178.7h0M277.7 163.3h0M292.9 172.3h0M277.5 173.5h0M310.6 152.7h0M272.6 156.8h0M290.3 156.4h0M292.1 151.5h0M287.8 181.4h0M266.8 177.8h0M309.3 148.7h0M295.3 168.3h0M284.8 182.3h0M280.9 173.5h0M283.3 167.8h0M273.7 163.6h0M268.9 164.3h0M285.1 165.4h0M279.3 194.7h0M274.9 164.6h0M294.4 168.4h0M286.4 187.6h0M280.7 159.7h0M271.9 163.6h0M281.9 156.1h0M304.8 157h0M266.5 145.4h0M284.8 167.5h0M284.2 177.3h0M269 159.5h0M293 175.7h0M310 153.8h0M309.8 173.7h0M281.5 161.5h0M301.5 154.2h0M303.1 175.3h0M268.5 168.5h0M266 163.3h0M280 186.6h0M281.1 196h0M308.6 153.6h0M305.8 169.7h0M267.4 169h0M284 171.3h0M290.4 179.9h0M270.3 167.6h0M275.2 167.8h0M262.5 171.7h0M305 166.8h0M304.3 153.9h0M258.7 163.6h0M295.2 177.7h0M275.6 196.3h0M285.2 162.5h0M264.1 173.6h0M277.3 156.8h0M260.5 160.1h0M290.7 168.2h0M275.3 166.9h0M301.8 157.6h0M281.5 163.7h0M317.4 164.3h0M285.1 141.5h0M294.9 148.2h0M285.5 164.8h0M298.1 177.7h0M285.1 169.8h0M276.1 169.6h0M277.7 164.7h0M267 151.3h0M277.3 185.5h0M284.6 196h0M312.8 174.4h0M277.6 148.9h0M264.7 183.3h0M281.2 141.9h0M256.6 159.9h0M303.9 179.6h0M281.7 166.8h0M302.2 179.1h0M280 161.9h0M273 168.7h0M297.1 158.2h0M278.3 157.9h0M280.1 140.9h0M273.5 169.9h0M288 151.4h0M284.9 159.1h0M308.5 159.3h0M267.5 158h0M303.2 161.8h0M312 164.2h0M279.9 157.3h0M310.8 171.9h0M274.2 153.5h0M268.2 185.6h0M289.4 186.2h0M288.5 152.5h0M287.7 190.2h0M299 151.5h0M306 161.5h0M274.5 176.6h0M291 186.2h0M315.3 167.5h0M299.8 159.4h0M268.1 148.3h0M263.6 162.6h0M289.4 174.7h0M298.2 158.2h0M284.9 160.5h0M285.6 166.5h0M285.2 167.3h0M277.4 162.5h0M295.7 146.8h0M287.9 164.4h0M279.5 167.2h0M287.9 173.4h0M301.6 179.2h0M281.9 180.7h0M285.6 146.5h0M274.8 194.2h0M276.4 148.6h0M288.6 174.9h0M274.2 146.1h0M292.2 164.9h0M277.7 163h0M302 161.3h0M287.8 169.1h0M279.9 166.9h0M285.7 156.2h0M262.8 167.4h0M285.6 171h0M281.7 167.4h0M289.8 180.2h0M284.5 158.1h0M298.6 175.8h0M298 153.1h0M310.5 151.5h0M278.1 172.2h0M263.8 172.9h0M286.9 161.8h0M260.3 170.4h0M303.4 163.7h0M272 143.4h0M294.4 165h0M280.6 160.9h0M315.5 154.5h0M295 162.8h0M290.1 198.4h0M311.1 164.6h0M296.4 176.1h0M284.7 165.1h0M275.6 168.2h0M298.4 165.3h0M305.9 153h0M307.2 151.3h0M295.2 187h0M277.7 180.7h0M306.6 174.1h0M313.6 153.9h0M281.1 173.1h0M304.7 164.7h0M260.1 166.1h0M291.9 169.5h0" class="pb"/><path d="M282.9 175.6h0M278.6 177.3h0M287.1 179.1h0M278.8 176.4h0M285.8 174.6h0M283.1 178.6h0M284.2 181.1h0M281.4 182.6h0M284 174.6h0M280.5 176h0M278.3 178.8h0M279.2 182.4h0M275.9 180.8h0M276.9 181.6h0M284.1 181.7h0M281.7 184.6h0M280.8 178.5h0M286.7 175h0M278.6 175.1h0M274.9 184h0M285.5 179.4h0M287 182.9h0M280.9 175.7h0M287.4 181.4h0M285.9 175.3h0M282.2 178.4h0M288.5 182.1h0M286.2 177h0M285.4 184.5h0M282.9 180.1h0M285.4 181.4h0M284.5 180.4h0M284.8 183.8h0M277.7 180.6h0M288 181.9h0M284.3 174.3h0M280.7 178.5h0M275.7 175.3h0M282.8 180.8h0M282.5 175.8h0M281.2 176.6h0M285.8 184.3h0M285.2 177.6h0M277.2 178.9h0M289.7 175.9h0M281.9 178.9h0M276 176.1h0M284.2 177.5h0M279.4 182.4h0M281.7 179.4h0M278.4 182.6h0M290.1 180.4h0M281.9 180.3h0M286.5 174.8h0M280.5 178.5h0M283.3 179.6h0M278 175.3h0M284.9 180.5h0M285 177.9h0M283.9 183h0M279.3 182.2h0M281.7 177.1h0M284.7 180.2h0M284.6 176.8h0M279 179.8h0M278.9 178.2h0M283.7 172.4h0M285.5 175.9h0M281.1 174.8h0M284 180.2h0M288.4 177.2h0M286.3 185.5h0M280.5 175.9h0M286.4 174.8h0M280.3 180.7h0M291.3 177.7h0M283.5 180.5h0M287.1 184.7h0M283.4 181.7h0M285.6 174.6h0M284.8 180.4h0M286.7 175.5h0M285.7 179.6h0M284.5 178.1h0M280.9 175.5h0M281.5 182.1h0M288.6 175.9h0M284.1 174.3h0M281.2 180.3h0M280.1 173.5h0M290.1 179h0M287.7 175.3h0M281.8 173.1h0M278.7 180.3h0M281.4 179.5h0M287.9 177.9h0M279.1 177.3h0M280.5 185.5h0M284.4 172.8h0M284.1 179.5h0M292 181.8h0M279.5 178.6h0M275.8 180.5h0M281.9 179.4h0M289.8 177.8h0" class="po"/><path d="M292 146.2h0M283.7 168.2h0M282.7 155.2h0M271.5 181.9h0M278.3 160h0M282 174.4h0M285.5 162.7h0M313.1 153h0M274.9 177.6h0M307.7 153.9h0M276.1 154.2h0M283 159h0M289.1 189.6h0M275 189.7h0M272.4 160.1h0M265.9 162.1h0M269.8 192h0M271.2 166.5h0M308.2 154.7h0M305.9 165.9h0M277.9 152.9h0M276.6 162.8h0M282.5 177.1h0M293.3 155.8h0M279.7 153h0M263.3 164.5h0M273 150.7h0M281 146.2h0M275 145.6h0M278.2 161.2h0M281 186.4h0M273.2 166.7h0M308.1 156.7h0M278.4 145.6h0M310.9 169.7h0M301.5 174.8h0M290 164h0M311.2 153.7h0M278.7 167.3h0M261.8 165.2h0M282.8 160h0M293.3 193.7h0M277 163.6h0M286.4 167h0M303.5 157.1h0M293 163h0M273 190.7h0M285.3 180.9h0M263.6 163.8h0M290.8 163.7h0M263 161.8h0M287.2 190.8h0M272.6 166h0M300.2 176.5h0M289.7 142.5h0M277.5 167.5h0M273.6 194.6h0M309.8 154.5h0M276.7 144.8h0M288.2 168.5h0M280.4 142.1h0M314.1 150.6h0M263.2 166.7h0M266.1 168.2h0M262.9 156.3h0M273.5 164.2h0M303.4 183.7h0M275.7 165.1h0M280.2 155.8h0M276 193.2h0M293.7 153.5h0M304.8 154.7h0M293.3 195.3h0M285.4 195.1h0M266.1 184.7h0M311.9 167.1h0M284 183.2h0M315 170.5h0M282.8 165.8h0M262 155.4h0M296.4 183.2h0M272.7 178.2h0M311.7 154.7h0M309 157.1h0M277.7 161.4h0M274.7 167.8h0M276.2 152.1h0M287.8 185.9h0M310.1 153.3h0M273.1 158.5h0M267.6 185.6h0M291.7 143.2h0" class="pb"/><path d="M283.7 173.8h0M278 184.4h0M282.9 180.8h0M285.7 177.7h0M284.7 175h0M284.9 180.2h0M281 182.6h0M289.2 184.7h0M287.3 182.7h0M288.1 179.6h0M279.3 181.8h0M285 181.3h0M275.1 174.3h0M284.3 176.8h0M284.8 177.1h0M284.9 180.7h0M280.5 175.3h0M285.2 179.1h0M289.2 177.6h0M283.5 180.1h0M278.7 178.7h0M284.8 179.6h0M276.5 172.2h0M284.9 179.7h0M287.8 178.1h0M279.9 178.4h0M286.2 173.3h0M286.2 183.5h0M284 174.4h0M279 180.6h0M280.9 173.7h0M281.1 173.9h0M277.9 176.2h0M275.7 181.9h0M279 174.9h0M286.6 177.7h0M289.7 175.1h0M286.1 176.4h0M277.4 183.8h0M287.5 179.4h0M280.7 181.1h0M286.6 177.9h0M287.7 180h0M283.4 180.1h0M280.1 179.9h0M286.9 178.7h0M281.8 173.9h0M284.1 182.3h0M286.7 171h0M284.4 175.3h0M278.2 177.8h0M281.3 177.7h0M291.3 175.6h0M280.9 186.2h0M282.7 176.8h0M286.8 177h0M284.7 170.2h0M283 176.8h0M280.2 174.4h0M280.6 183.1h0M275.8 175.7h0M274 179.6h0M281.1 173.5h0M283.8 176.9h0M278.3 178h0M284.7 175.7h0M287.1 179.7h0M283.1 181.5h0M284 179.7h0M286.2 179.5h0M282.7 178.2h0M284.7 180h0M279.8 174.6h0M282.7 177.6h0M285.2 170.2h0M281.2 179.9h0M287.5 175.5h0M279.9 174.6h0M289.6 172.2h0M280.4 179.6h0M277 176.9h0M284.2 180.7h0M283.8 176.6h0M284.5 175.8h0M276.3 170.2h0M278.6 178.7h0M283 174.2h0M275.1 179.9h0M285.1 177.2h0M278 183.3h0M278.2 179.5h0M282.9 180.5h0M277.8 177.5h0M282.1 177h0M286.1 171.1h0M279.6 177.7h0M290.6 180.8h0M278.2 183.9h0M278.6 182.7h0M287.2 179.8h0M282 179h0M284.4 172.6h0M281.6 179.4h0M287.2 177.3h0M283.3 178.1h0" class="po"/></g>
<g><path d="M341 135.6V204H407" class="ax"/><text x="339.7" y="144.6" class="t ty">30</text><text x="339.7" y="153.3" class="t ty">20</text><text x="339.7" y="162" class="t ty">10</text><text x="339.7" y="170.7" class="t ty">0</text><text x="339.7" y="179.4" class="t ty">-10</text><text x="339.7" y="188.1" class="t ty">-20</text><text x="339.7" y="196.8" class="t ty">-30</text><text x="345.6" y="206.9" class="t">-30</text><text x="354.4" y="206.9" class="t">-20</text><text x="363.1" y="206.9" class="t">-10</text><text x="371.9" y="206.9" class="t">0</text><text x="380.7" y="206.9" class="t">10</text><text x="389.5" y="206.9" class="t">20</text><text x="398.2" y="206.9" class="t">30</text><text x="374" y="211" class="ta">dim 1</text><text transform="translate(335 170.1) rotate(-90)" class="ta">dim 2</text><text x="412.5" y="170.8" class="t lt">label</text><circle cx="410.4" cy="173" r="0.65" fill="#2079c6"/><text x="413.3" y="173.8" class="le">0.0</text><circle cx="410.4" cy="175.6" r="0.65" fill="#ff7f0e"/><text x="413.3" y="176.4" class="le">1.0</text><path d="M367.4 183.3h0M349.7 182.9h0M346.8 152.4h0M375.9 165.6h0M357.5 177h0M386 150.3h0M348.6 150.3h0M365.2 158.1h0M356.1 158.7h0M353.6 174.3h0M364.6 169.2h0M376.6 170h0M373.2 166.4h0M361.1 175.8h0M350.3 180.2h0M363.1 150.9h0M371.3 167.9h0M383.7 157.5h0M358.1 186h0M380 183.1h0M364.4 161.2h0M379.2 172.4h0M353.7 188.4h0M355.9 182.6h0M372.3 172.4h0M391.3 174.4h0M377.4 187.9h0M360.8 189.8h0M349 147.8h0M360.4 166.7h0M373 163.3h0M389 175.7h0M349 155.2h0M379.2 165h0M382.3 176.9h0M382.9 142.3h0M367.3 164h0M358.7 158.1h0M347.6 156.7h0M369.6 145.3h0M351.8 170.6h0M388.6 168h0M399 161.4h0M372 151.1h0M354.4 147.2h0M351 161.1h0M365.9 188.8h0M371.2 177.4h0M394.5 170.1h0M383.2 161.7h0M371.1 197.7h0M355.9 153.8h0M377.9 170.6h0M351.7 158.6h0M345.4 150.4h0M370.3 173.2h0M385.1 191.8h0M368.6 151.3h0M358.8 185.7h0M360.4 175.5h0M388.8 171.2h0M379.1 193.6h0M384.9 148.7h0M357.4 178.4h0M380.7 152.7h0M374.3 157.8h0M392.4 178.4h0M389.5 175.7h0M383.9 177.6h0M366.8 181h0M367.6 162.4h0M350.9 175.1h0M353.4 163.9h0M356.5 188h0M357.5 156.3h0M365 193.8h0M371.3 155.1h0M369.1 158.8h0M355.9 193h0M367.8 154.8h0M360.7 154.3h0M378.9 161.4h0M380.9 177.4h0M356.4 151.8h0M369 169.8h0M395.5 176.2h0M397.6 173.1h0M352.3 188.8h0M357 158.2h0M382 152.2h0M382.9 177.7h0M378.3 168.3h0M398.4 158.3h0M375.1 166.4h0M358.2 175.4h0M379.8 183.7h0M381.2 158.7h0M353.3 188.3h0M353.4 150.4h0M358 181.7h0M379.1 178.9h0M384 179.8h0M386.6 180.8h0M350.3 158.2h0M373.8 168.6h0M351.7 162.5h0M360 185.9h0M389.6 149h0M385.9 154.5h0M377.4 173.3h0M380.1 165.1h0M359.4 186.9h0M357.2 153.4h0M353.1 157.8h0M358.4 173.1h0M351.1 156.6h0M381.3 156.2h0M382.3 192.7h0M365.4 169.2h0M346.2 160.2h0M398.4 167.8h0M360.7 181.1h0M383.4 156.6h0M359.1 157.4h0M354.4 178.9h0M367.9 169.2h0M402 166.1h0M377.2 146.6h0M370.2 188.4h0M379.2 166.9h0M364.4 147.3h0M377 179.1h0M346.2 151.2h0M348.6 159.4h0M362.8 170.3h0M363.4 187h0M389.4 147h0M384.5 187.3h0M362.9 161.6h0M394 166.7h0M362.2 145.7h0M352.1 147h0M355 157.2h0M354.5 168.5h0M357 169.2h0M390 185.9h0M350.1 177.8h0M391.5 158.5h0M380 159.2h0M346.4 154.8h0M380.7 155.2h0M356.6 173.2h0M387.2 166.7h0M393.8 179.5h0M393.6 160.8h0M352.1 166.9h0M374.4 197.2h0M368.2 152.9h0M373.5 182.2h0M357.8 186.1h0M366.9 172.7h0M382.3 153.1h0M366.5 186h0M373.4 169.4h0M367.5 166.8h0M351.9 160.4h0M366.4 155.8h0M377.1 153.9h0M395.5 154.2h0M359.5 178.9h0M383.8 181.3h0M362.6 179.7h0M387 173h0M349.5 154.7h0M351.7 155.4h0M375 195.5h0M357.4 174.1h0M372.5 176.7h0M393.8 163.2h0M375.9 165.3h0M363.6 163.3h0M357.2 150.9h0M366.6 175.7h0M378.5 142.3h0M399.3 177.5h0M350.9 160.5h0M361.3 147.2h0M373.9 184.7h0M360.9 150h0M386.5 150.7h0M392.1 155.2h0M377.4 145.1h0M358.6 157.9h0M379.2 165h0M400.9 171.6h0M376 181.7h0M353 149.8h0M383.5 172.3h0M384.8 143.7h0M378.8 169.4h0M367.3 192.6h0M377.6 168h0M399.9 175.1h0M379.4 168.3h0M361.1 190.4h0M390.4 168.5h0M376 161h0M390.2 180.2h0M363.1 169.9h0M360 179.8h0M359 164.6h0M372.5 184.7h0M347.2 158.8h0M377.4 155h0M371 189.9h0M361.9 148.8h0M356.5 145.8h0M396.9 155.3h0M396.8 157h0M356.3 150.1h0M370.2 177.8h0M382.9 160.2h0M371.3 154h0M367.1 192.7h0M362.2 164h0M380.2 174.7h0M358.2 183.3h0M352.5 158.9h0M381.2 168.7h0M363.2 158.9h0M373.7 193.3h0M372.4 157.6h0M344 158.5h0M354.9 192.2h0M376.6 150.5h0M351.6 185.8h0M366.7 156.9h0M378.5 168.9h0M356.2 178.6h0M387.5 162.2h0M376.1 160.7h0M394.7 161.4h0M368.5 171.2h0M392.3 165.8h0M366.9 168.9h0M382.7 151.1h0M378.7 177.5h0M386.6 171.3h0M366 172.5h0M362.7 181h0M379.3 168.1h0M396.6 185.5h0M355.4 179.8h0M370.8 177.3h0M369.3 170.6h0M364.5 170.6h0M399 172.3h0M374.5 182.2h0M359.3 187.4h0M382.4 144.2h0M353.6 158h0M349.1 159.4h0M352.2 174.6h0M365.7 187.1h0M357.6 191.2h0M375.8 143.6h0M357.9 163h0M369.5 171.4h0M363.6 174.9h0M383.9 184.9h0M350.9 159.2h0M358.5 146.7h0M351.2 152.5h0M378.1 164.5h0M390.8 155.3h0M358.8 175.9h0M375.1 145.1h0M382.8 147.8h0M351.8 167.5h0M345.5 154.8h0M354.6 182.8h0M369 168.6h0M358.3 179.3h0M391.5 180.9h0M371.1 190h0M363.8 168.8h0M345.3 158.3h0M354.6 155.6h0M396.5 158.2h0M386.8 161.3h0M378.5 189.1h0M354.2 183.1h0M357.5 178.5h0M357.9 149h0M379.9 177.8h0M393.6 176.2h0M388.5 182.8h0M379.4 170h0M358.6 147.9h0M352.4 155.1h0M352.4 173.9h0M360.9 145.7h0M371.9 181.1h0M371.6 185.9h0M372.2 172.4h0M379.2 179.9h0M392.8 173.1h0M350.4 182h0M359.8 149.3h0M344.1 158.6h0M357 162.7h0M386.3 176.6h0M351.4 150.7h0M354.9 181.6h0M381.9 168.5h0M351.5 152.3h0M355.1 164.1h0M373 145.9h0M355.1 156.1h0M379.5 181.4h0M348.6 161.6h0M363.9 147.2h0M398.2 176h0M349.3 153.9h0M347.6 152.4h0M370.4 143.4h0M347.4 146.5h0M401.5 171h0M366.9 174h0M375.6 159.6h0M387.3 155.2h0M347.8 165.2h0M366.6 160.7h0M379.1 173.1h0M381.9 172.4h0M351.9 178.4h0M392.6 161.2h0M376.9 177.5h0M378.2 160.7h0M351.2 178.5h0M386.5 176.5h0M365.3 187.8h0M375.4 178.9h0M357.1 193.5h0M368.7 191.3h0M388.8 182.5h0M375.5 197h0M368.8 164.9h0M391.9 165h0M381.1 175.3h0M388.2 156.1h0M360.6 174.5h0M354.9 176.4h0M349.9 152.7h0M356.5 175.4h0M355.9 154.3h0M355.6 154.1h0M385.6 184.5h0M353 152.9h0M381.9 179.5h0M358.4 182.2h0M365.6 186.9h0M402.9 171.6h0M396.9 160.5h0M355.6 168.6h0M368.2 173.3h0M348.4 173.8h0M370.1 147.4h0M346.7 156.8h0M395.3 177h0M361.9 174.2h0M348.8 154.7h0M379.6 192.6h0M371.2 192.5h0M380.5 170.3h0M378.4 168.6h0M360.1 176.3h0M367.7 181.3h0M344.5 152.6h0M390.2 178.5h0M386 166.8h0M364.4 177.8h0M378.6 164.3h0M364.1 172.7h0M368.2 170.4h0M376.9 163.2h0M378.6 164.7h0M364.1 154.1h0M366.4 182.9h0M357.3 174.2h0M373.6 195.2h0M384.5 163.7h0M379.5 145.6h0M358.8 174.7h0M369.6 168.9h0M366.5 180.9h0M359.4 172.4h0M354 154.1h0M360.9 144.6h0M389.2 184.7h0M356.2 181.1h0M380.2 147.7h0M359.3 167.3h0M389 176.2h0M352.3 156.7h0M373.1 163.4h0M357 187.7h0M374.1 167.2h0M352.7 193h0M361.1 181.8h0M402 158.3h0M373.9 193.6h0M389.7 147.2h0M374.8 153.7h0M385.4 172.5h0M375.3 144.9h0M396.8 184.7h0M390.4 180.7h0M353.6 154.4h0M383.5 178.5h0M352.7 183.5h0M364.1 163.8h0M367.3 164.7h0M362.1 177.4h0M370.2 195.2h0M352.1 176.2h0M357 186.1h0M378.3 169.5h0M377.8 186.8h0M382.1 164.1h0M372.8 166.5h0M378.9 179.4h0M360.9 149.2h0M369.2 175.1h0M390.9 182.2h0M362.2 146.3h0M352.9 152.3h0M350.9 150.5h0M368.4 146.9h0M399 173.7h0M353.5 170.1h0M358.4 168.4h0M358.9 149.4h0M348.7 156.1h0M353.2 151h0M386.8 182.2h0M371.8 169.7h0M370 181.2h0M388 166.2h0M387.7 186.3h0M355.7 161.7h0M380.8 171.1h0M352.5 177.2h0M385.4 153.2h0M353.7 153.5h0M391.8 193.5h0M376.3 161.8h0M357.8 150.1h0M372.6 157.8h0M370.1 142.5h0M346.9 153.7h0M387.7 177.6h0M348.5 168.6h0M351.5 147.2h0M389.8 183.9h0M371 179.3h0M386 177.9h0M382.1 145.8h0M388.3 179.6h0M367.3 144.2h0M384.7 153h0M391.2 174.4h0M370.6 189.4h0M356.8 151.8h0M351.5 185.6h0M362 173.4h0M375.4 163.2h0M372 168h0M389.2 163.2h0M373 164.3h0M374.4 184.3h0M369.2 191h0M371.9 162.5h0M365.1 150.6h0M358.3 176.1h0M370.3 181.6h0M376.5 158.8h0M395.1 176.2h0M372.3 147.5h0M384.3 141.7h0M389.3 154.1h0M385.5 188.8h0M352.3 153.8h0M366.3 175.1h0M380.7 188.7h0M371.2 174.5h0M392.9 165.6h0M360.9 166.8h0M350.3 157.9h0M369.8 161.4h0M391.7 153.1h0M352.9 182h0M399.1 177.9h0M354.7 179.3h0M356.4 157.7h0M357.3 178.6h0M357.2 151h0M388.2 180.4h0M384.3 176.6h0M389.2 167.4h0M369.7 155.5h0M353.5 157.8h0M348.8 157h0M365.7 159.8h0M379.2 164h0M373.5 150h0M352.2 163.1h0M356.1 159.2h0M357.4 193.1h0M351.2 174.6h0M370.1 151.9h0M355.2 172.4h0M356.9 187.8h0M353.7 168.3h0M368.3 143.8h0M375.4 166.8h0M354.5 169.4h0M390.5 186.5h0M366.9 180.9h0M354.3 177.6h0M374.7 159.7h0M386.2 170.5h0M371.5 150.6h0M354.3 153.7h0M387.1 164h0M369.5 171.4h0M365.9 157.2h0M356.3 159.6h0M366.6 179.3h0M387.4 165.7h0M384.3 184.3h0M387.2 191.2h0M367 194.3h0M387.6 155.3h0M372.7 156.4h0M357.3 178.4h0M382.8 160.4h0M395.6 160.7h0M372.9 182.4h0M386.8 188.1h0M347.3 152.7h0M347.8 152.1h0M386.7 157.4h0M362.5 178.3h0M383.2 164.5h0M380.1 167.2h0M385.7 174.1h0M384.2 141.8h0M357 175.2h0M348.2 155.7h0M365.5 180.5h0M355.9 150.7h0M359.1 150h0M385.2 173.6h0M384.8 172.5h0M373.3 149.5h0M380.2 169.1h0M352.6 185.5h0M382.7 160.2h0M362.9 192h0M356.6 184.1h0M352.5 179.7h0M382.9 144.6h0M353.6 159.1h0M380.1 183.7h0M368.1 162.3h0M372.8 186.2h0M387.7 191h0M400.3 168.7h0M363.1 152.4h0M364.7 173.6h0M378.4 173.7h0M371.6 167.1h0M380.2 162h0M360.8 155.7h0M380.2 191.8h0M393.1 182.8h0M372.1 184.7h0M349.5 154.9h0M376.3 190.4h0M346.5 155.6h0M379.9 165.8h0M353.9 180h0M359.8 172.5h0M393.8 176.4h0M371.6 184.3h0M376.5 151.3h0M357.3 183.4h0M384.9 186.2h0M368.1 152.4h0M377.6 175.4h0M382.7 165.2h0M365.4 152.8h0M378.5 170.3h0M350.3 157.4h0M360.8 177.5h0M380.3 152.7h0M398.1 159.4h0M351.8 175.6h0M351.2 167.5h0M390.4 160h0M380.9 159.7h0M371.3 195.7h0M389.7 152.3h0M396.3 165.9h0M350.9 146.2h0M373 175.8h0M388.6 177.1h0M372.5 159.8h0M376.1 155.1h0M351 179.1h0M382.9 167.1h0M352.3 172.5h0M377.5 144.4h0M350.7 153.1h0M362.2 185.3h0M348.2 148.4h0M350.9 152.9h0M381.9 142.2h0M369.9 183.5h0M395 172.1h0M368 156.3h0M384.9 163.9h0M377.1 166.2h0M381 150.8h0M402 163.1h0M353.2 179h0M376.3 170.6h0M394 182h0M391.8 179.6h0M351.5 173.9h0M387.5 156.3h0M367 184.8h0M346.8 154.7h0M375.9 184.9h0M358.3 183.3h0M376.4 161.2h0M354.9 155.8h0M350.4 151.9h0M374.7 142.1h0M368.1 186.6h0M376.8 173.2h0M374.7 174.1h0M352.9 183.5h0M382.3 158.5h0M377.5 165.3h0M361.8 193.7h0M366.9 148.5h0M354.2 155.5h0M352.5 170.4h0M366.6 172h0M372.6 193.7h0M392.3 165.9h0M372.6 180.9h0M387.3 166.5h0M372.8 194.9h0M360.1 167.4h0M363.7 161.2h0M375.2 168.9h0M348.4 191.2h0" class="pb"/><path d="M384.4 182.8h0M382.7 180.9h0M386 177.1h0M374.4 172.5h0M376.4 177.3h0M380.4 172h0M382.8 183.8h0M385.1 169.2h0M378 181.7h0M377.9 179.8h0M374.3 181.8h0M380.2 175.6h0M377.1 176.3h0M386.7 177.9h0M379.6 178.8h0M386.8 178.8h0M376.4 184h0M378.1 179.2h0M378.2 186.5h0M378.4 181.6h0M377.4 173.4h0M379 179.7h0M381 180.4h0M375.1 182.3h0M381.8 182.4h0M382.5 181.4h0M383 176.9h0M380.5 180.7h0M390.1 181.5h0M381.9 179.6h0M381.1 176.6h0M384.6 179.2h0M385.1 182.8h0M375.9 177.9h0M380.9 177.5h0M380.9 174.9h0M373.4 176.6h0M380.3 174.1h0M379 183.9h0M376.3 179.9h0M381 178.4h0M379.1 176.6h0M384.9 179.2h0M380.6 189.4h0M382.6 178.7h0M378.7 176.6h0M377 179h0M381.2 172.5h0M382.9 176.4h0M380.2 178.5h0M377 179.3h0M383.4 183.6h0M380.5 186h0M387.8 182.4h0M387.4 184.8h0M383.9 178.6h0M381 182.2h0M376.5 184.9h0M381.4 176.9h0M378.2 189.8h0M378.9 183.9h0M383.3 177.1h0M381.3 179.6h0M380.6 174.8h0M373.9 182h0M373.3 181.6h0M375.1 184.5h0M383.7 185.5h0M377.3 177.4h0M378.6 177.6h0M376.4 182.6h0M383 179.4h0M381 184.7h0M371.3 172.2h0M378.8 178.6h0M382.1 176.3h0M384.4 178.3h0M384.9 179.7h0M379.8 178.6h0M383.3 179.6h0M379.5 176.1h0M383.3 179h0M375.4 181h0M378.2 181.2h0M377.8 170.7h0M381.4 171.8h0M379.9 176.3h0M379.7 172.2h0M378.7 181.5h0M380.4 185.8h0M379.2 181.8h0M376.5 180.4h0M379.8 176.5h0M378.7 180.1h0M382.6 174.1h0M387.9 178.5h0M376.2 179.9h0M384.5 179.1h0M382.6 178.8h0M383 170.8h0M387.2 185h0M381.8 177.9h0M379 179.5h0M384.2 180.3h0M379.5 182h0M379.7 178.1h0M369.6 181.8h0M385.8 176.9h0M380.5 181.1h0M384.4 179.1h0M376.5 171.8h0M378 185.8h0" class="po"/><path d="M380.7 141h0M357.9 180.4h0M346.9 157.7h0M362.2 180.3h0M391.4 170.8h0M373 172.8h0M388.8 152.6h0M351.1 160.8h0M354.8 170h0M396.7 171.2h0M381.5 179h0M370.3 154.7h0M374.9 197.4h0M387.9 167h0M377.7 160.9h0M352.1 158.8h0M354.2 179.7h0M384.6 180.2h0M364.7 176.1h0M368.8 145.1h0M366.9 187.8h0M401.5 161.7h0M376.8 184.6h0M372.1 177.7h0M371 184.9h0M376.9 169.4h0M399 163.4h0M370.7 153.6h0M385.4 180.4h0M375.5 166h0M348.3 159.9h0M402.4 171.2h0M375.8 166.8h0M383.8 178.8h0M349.4 157h0M383.1 172.6h0M402 165h0M390.2 178.9h0M390.6 148.3h0M367.9 167.9h0M354.3 178h0M378.5 165.2h0M364.9 160.8h0M352.2 148.9h0M379.7 176.7h0M398.1 168.6h0M359.4 160.8h0M366.7 148.1h0M375.2 165h0M388.8 172h0M363.8 168.2h0M361.2 154.9h0M353.1 172.5h0M368.8 169.3h0M353.9 187.6h0M396.7 162.2h0M382.1 176.4h0M359.1 151.7h0M384.3 176.7h0M357.5 183h0M378.6 150.8h0M349.5 183.9h0M355.3 159.4h0M353.9 162.4h0M352.2 183.5h0M355.2 185h0M383 171.7h0M348.6 155.2h0M354.5 162.6h0M390.4 157.4h0M365.7 188.4h0M382.6 192h0M362.6 180.4h0M364.7 147.2h0M382.3 158.4h0M356.7 153.3h0M378.8 179.1h0M353.9 178.1h0M351.1 148.7h0M363.1 161.2h0M385 185.2h0M379.6 172h0M386.7 163.7h0M359.5 183.3h0M355.2 161.1h0M361.6 190.6h0M373.2 160.1h0M351.4 153.6h0M357.5 176.7h0M362.2 161.2h0M357.3 174.2h0M362.8 164.8h0" class="pb"/><path d="M378.5 181.1h0M383.9 184.4h0M386.7 172.8h0M378 172.6h0M378.7 175.9h0M379.3 182h0M377.6 177.9h0M379.3 181.6h0M374.9 180.6h0M385 170.7h0M380.2 177.6h0M376.9 174.5h0M376 182h0M377.6 178.4h0M374.3 187.6h0M379.8 172.3h0M380.4 186.1h0M379.4 187.1h0M380.2 181.5h0M380.4 179.3h0M374.4 186h0M377.7 180.5h0M372.2 185.4h0M373.5 171.7h0M375.5 185.6h0M380.9 172.8h0M375.2 178.6h0M384.1 177.4h0M373.5 183.9h0M381.5 187.9h0M385.2 185.5h0M385.6 175.6h0M378.3 181.1h0M386.4 178.3h0M382.1 179.5h0M386.6 183.1h0M383.8 180.3h0M389.6 179.4h0M379.3 179.5h0M384.7 176.5h0M378.2 179.3h0M383.9 179.5h0M379.6 189.8h0M376.3 171.6h0M383.1 176.3h0M376.9 174.1h0M385.1 176.3h0M375.6 183.5h0M387.2 178.2h0M383.8 174.3h0M379 178.2h0M383.2 178.6h0M382.7 172.1h0M385.9 173.3h0M377.9 169.9h0M381.5 180.2h0M387.8 179.4h0M381.9 177.1h0M384.1 180.4h0M376.9 180.7h0M380.6 177.9h0M378.1 177.6h0M389.4 171.6h0M370.4 175.2h0M382.1 180.9h0M387.3 180.9h0M386 188h0M381.2 178.1h0M382.7 173.4h0M375.1 185.7h0M378.4 177.9h0M384.8 173.3h0M379.5 175h0M373.9 183.6h0M384.9 177.2h0M374.5 177.4h0M374 172.1h0M374 178.2h0M383.3 174.9h0M369.6 180.8h0M382.9 183.2h0M386.1 181.6h0M374.1 179.9h0M378.8 173.3h0M378.9 180.8h0M370.6 172.1h0M385.9 177.6h0M383.2 184.8h0M376.6 177h0M379.3 172.9h0M378.2 180.2h0M391 180h0M374.1 182.8h0M382.6 177h0M380.8 177.1h0M374.7 178.9h0M379.7 183.1h0M382.6 175h0M382.5 183h0M373.2 175.6h0M382 183.5h0M382.6 172.1h0M379.8 181.7h0M381.1 177.4h0M377.2 183.9h0M377.8 183.8h0M381.5 185h0M377.3 179.9h0M382.2 174.5h0M375.4 182.1h0M379.3 176.7h0M385.2 175.7h0M390.7 179.7h0" class="po"/></g>
<g><path d="M76.6 238.2V306.6H142.6" class="ax"/><text x="75.3" y="245.9" class="t ty">40</text><text x="75.3" y="254.4" class="t ty">30</text><text x="75.3" y="262.9" class="t ty">20</text><text x="75.3" y="271.4" class="t ty">10</text><text x="75.3" y="279.9" class="t ty">0</text><text x="75.3" y="288.4" class="t ty">-10</text><text x="75.3" y="296.9" class="t ty">-20</text><text x="75.3" y="305.4" class="t ty">-30</text><text x="80.2" y="309.5" class="t">-40</text><text x="87.8" y="309.5" class="t">-30</text><text x="95.4" y="309.5" class="t">-20</text><text x="103" y="309.5" class="t">-10</text><text x="110.6" y="309.5" class="t">0</text><text x="118.2" y="309.5" class="t">10</text><text x="125.8" y="309.5" class="t">20</text><text x="133.4" y="309.5" class="t">30</text><text x="141" y="309.5" class="t">40</text><text x="109.6" y="313.6" class="ta">dim 1</text><text transform="translate(70.6 272.7) rotate(-90)" class="ta">dim 2</text><text x="148.1" y="273.4" class="t lt">label</text><circle cx="146" cy="275.6" r="0.65" fill="#2079c6"/><text x="148.9" y="276.4" class="le">0.0</text><circle cx="146" cy="278.2" r="0.65" fill="#ff7f0e"/><text x="148.9" y="279" class="le">1.0</text><path d="M114.4 286.9h0M108.4 262.8h0M107.4 260.4h0M115.2 284.9h0M139.8 260.7h0M112.2 263.6h0M81.8 264.8h0M111.2 286.1h0M115.3 281.6h0M110.7 261.2h0M111.6 290.3h0M83.3 281.5h0M108.9 289.3h0M114.6 299.2h0M114.3 283.3h0M86.8 280h0M110 258.7h0M85.6 281.7h0M115.6 267.9h0M105.6 271h0M106.1 245.6h0M80.8 266h0M114 301.4h0M104.1 261.6h0M110.3 258h0M112.8 263.7h0M106.8 280.4h0M113.8 275h0M105.6 261.6h0M81.8 273.4h0M109.6 268.3h0M107.3 256.2h0M106.2 250.3h0M105.2 262.5h0M83.6 270.9h0M113.6 274.3h0M84.3 281.8h0M81.8 266.8h0M139.1 260h0M111.2 257.5h0M85 279.4h0M115.8 264.9h0M113.4 271.5h0M112.4 281.2h0M136.3 263.1h0M104.2 262.2h0M116.1 269.5h0M110.4 248.6h0M105.6 247.1h0M111.5 277.5h0M115.6 262.6h0M107.3 275.6h0M113.8 274.2h0M114.7 290.8h0M139.1 263.6h0M115.3 263.9h0M106.7 250.1h0M111.8 277.2h0M109.1 269.2h0M83.3 264.1h0M136.9 264.9h0M110.8 256.3h0M111.7 286.7h0M111.4 282.2h0M139.2 263.9h0M80.7 272h0M110.6 282h0M111.6 270.8h0M111.3 289.1h0M114.9 283.5h0M106 275.7h0M108.2 270h0M106.1 259.4h0M108.2 251.1h0M113.4 256.5h0M137.7 260.5h0M110 286.1h0M116.7 266.4h0M113.9 294.4h0M110.1 255.9h0M83 277.7h0M138.8 260.6h0M82.4 278h0M136 266.8h0M110.8 287.8h0M105.5 248.5h0M107.8 243.5h0M106.1 255h0M112.1 261.8h0M107.4 246.5h0M82.9 263.6h0M108 283.8h0M106.6 245.6h0M82.7 264.7h0M82.3 275.4h0M84.3 270.5h0M83.4 275.9h0M108.7 270.1h0M82.7 278.9h0M108.7 259.8h0M118.3 265.4h0M113.5 275.9h0M111.2 278h0M104.8 265.7h0M110.9 247.8h0M104 262h0M107.3 245.5h0M107.5 282.7h0M115.2 259.3h0M110.1 287.1h0M84.1 284.9h0M83.7 281.2h0M110.3 275.6h0M106.5 283.4h0M135.4 263.2h0M109 270.9h0M110.4 286h0M107.7 258.3h0M107.2 242.1h0M107.2 264.1h0M112.4 270.3h0M82.9 281.8h0M82.8 271.8h0M110.7 279.2h0M81 264.7h0M108.1 285.1h0M110.7 266.4h0M106.2 245.4h0M85.3 275.6h0M115.4 277.8h0M115.1 284.4h0M112.9 301.2h0M82 273.2h0M108.6 262h0M84.9 278.3h0M106.1 246.9h0M86.4 284.8h0M85.9 283.7h0M112.8 293.9h0M105.8 257.9h0M114.7 282.3h0M113.8 276.1h0M138.9 265.4h0M110.1 271.2h0M84.9 272.8h0M110.3 249.2h0M83.9 284.5h0M114.6 268.6h0M112.4 291.6h0M85.4 284.9h0M110.9 273.5h0M107.7 260.3h0M85.5 279.1h0M85.7 277.4h0M106.7 268.3h0M84.1 278.4h0M136.6 267.9h0M107.9 272.6h0M139.1 259.8h0M104.6 277.6h0M111.3 279.7h0M113.4 274.8h0M105.9 258.8h0M136.9 265.2h0M109.6 277.4h0M110.6 253.2h0M107.7 261h0M84.1 268.1h0M110.1 272.1h0M109.3 262h0M116.5 265.5h0M112.1 295.2h0M112.4 271.6h0M114.2 295.5h0M106.1 269.8h0M104.9 275.9h0M104.5 264.1h0M114.2 264.7h0M134.5 259.6h0M112.7 282.2h0M109 253.9h0M135.9 263.7h0M114.2 274.7h0M114.7 279.5h0M112.8 294h0M138.1 254.1h0M84.8 285.4h0M81.1 275.1h0M86.4 278.2h0M114.4 280h0M108.6 258.4h0M112.3 296h0M111.9 269.5h0M85.4 275.7h0M109.5 256.8h0M85.3 269.5h0M118.5 264.9h0M106.8 263.6h0M111 250.9h0M111.3 282.9h0M110.4 270h0M109.6 262.1h0M106.8 266.9h0M109 263h0M109.9 269.5h0M82.3 274.7h0M105.9 283.1h0M113.1 268h0M85 269.2h0M114.9 263.3h0M138.3 264.4h0M84.9 267.5h0M111.1 280.4h0M85.6 286.3h0M108.6 244.9h0M136.3 260.8h0M82.2 273.8h0M109.7 243.6h0M114.5 301.1h0M113.1 270.1h0M137.2 263.7h0M107.5 284.7h0M110.4 260.8h0M117.4 265h0M83.4 266.6h0M108.1 272.5h0M115.4 288.4h0M105.4 249.3h0M109.5 262.9h0M113.7 300.4h0M81 263.5h0M113.4 271.7h0M139.4 261.2h0M81.9 272h0M110.7 294.3h0M112.9 273.7h0M111.8 290.3h0M111.2 287.8h0M108.6 283.2h0M81.7 275.8h0M111.9 266.2h0M107.4 253.2h0M113.2 290.3h0M107.1 285.9h0M110.5 280h0M85.5 273.2h0M86.8 278h0M114.7 280.5h0M107.2 241.9h0M114.6 301.3h0M110.3 246.3h0M81.8 274h0M106.7 267.7h0M138.9 260.1h0M112.1 256.2h0M112.7 272.2h0M139.6 260.2h0M111.8 261.7h0M116.3 267.2h0M113.3 274.1h0M109.5 246.3h0M108 283.5h0M85.6 283.3h0M114.4 298.8h0M115.1 263.5h0M108 247.1h0M114.6 276.9h0M81.2 270.9h0M112.5 257.1h0M82.9 262.5h0M83.4 281.5h0M111 279.1h0M106.2 260.6h0M113.2 267.5h0M107.8 257.1h0M83.4 262.9h0M86 285.4h0M114.7 282h0M116.9 260.6h0M134.4 260.8h0M136.2 255.8h0M114.2 268.3h0M84.7 265.7h0M109.4 262.3h0M112.1 278.1h0M111.4 273.1h0M115.8 280.6h0M108.4 264h0M85.1 279.8h0M108.5 272.7h0M82.7 276.5h0M107.4 274.9h0M112.6 259.3h0M114.7 261.2h0M84.4 284.5h0M113 278.9h0M112.9 279.2h0M139.6 262.6h0M113.5 299.1h0M111.9 281.3h0M84.5 269.6h0M111.3 274h0M81.9 268.5h0M113.5 259.8h0M81.5 270.2h0M114.3 302h0M112.2 248.8h0M113.2 297.2h0M106.4 263.5h0M114.5 269.9h0M135.3 254.8h0M138.1 257.1h0M83.8 280.2h0M115.7 280.6h0M136.7 267.8h0M84.1 279.3h0M105.4 260.6h0M110.6 289.1h0M111.8 295.7h0M115.7 280.5h0M111.2 282.4h0M138.4 266.4h0M80.8 273.5h0M86.3 276.5h0M104.2 261.9h0M137.6 269.9h0M82.9 276.2h0M111.9 289.8h0M110.9 288.2h0M110.2 264.9h0M107.9 276.7h0M134.5 262.2h0M111 288.1h0M115.3 287.5h0M109.2 266h0M115.8 263.5h0M107.3 255.3h0M111.9 255h0M110.4 275.2h0M109.1 248.6h0M112.2 259.2h0M105.9 269.5h0M114.6 275.4h0M110.8 275.2h0M115 291.2h0M106.5 263.3h0M106.6 246.8h0M112.6 266.8h0M113.8 268.5h0M111.9 295.8h0M86.8 278.7h0M107.4 250.6h0M113 274.7h0M112.6 296.6h0M138.8 255h0M115.4 271.4h0M84.9 277.1h0M113.1 273.2h0M136.4 254.8h0M113.1 291.8h0M106.9 250.7h0M85.1 277.4h0M111.3 256.5h0M115.4 259.7h0M113.3 289.9h0M116.1 266.9h0M113.6 273h0M107.4 242.3h0M135.2 258.4h0M110.1 260.1h0M106.2 255.5h0M105.9 270.7h0M111.4 295.6h0M112.1 271.3h0M136.7 264.3h0M106.9 264.5h0M134.9 262.8h0M138.1 254.1h0M136.6 257.9h0M111.2 274.1h0M115.4 285.7h0M106.6 258.8h0M114.1 259.3h0M138.4 255.1h0M109 243h0M84.9 271.2h0M108.3 270.6h0M83.8 274.3h0M113.9 290.9h0M107.9 260h0M115.2 281.7h0M113.9 261.1h0M108.9 263.5h0M115.6 259.7h0M109.1 286h0M139.2 260.9h0M110.6 285.9h0M107 254.3h0M80.2 269.7h0M115.8 278.1h0M137.9 261.7h0M111.7 284.3h0M85.8 275.2h0M110 243.7h0M112.9 299.6h0M106 262.5h0M110.4 284.9h0M113.2 257.1h0M112.7 271.4h0M112.6 299.3h0M108.9 285.4h0M105.7 280.6h0M138.5 263.6h0M108.2 286.9h0M107.1 262.2h0M110 259.6h0M106.1 279h0M138.3 259.2h0M84 283.4h0M107 272.1h0M106.2 255.1h0M136.1 260.5h0M112.4 290.6h0M138.4 260.3h0M108.2 245.6h0M109.9 246.4h0M108.4 265.8h0M112.2 278.8h0M106.1 281.2h0M84.5 279.2h0M106.7 252.8h0M86 285.3h0M111.5 260.4h0M105.6 259.3h0M84.4 264.7h0M82.1 280.2h0M106.2 257.8h0M81.3 262h0M105.6 250.5h0M135.5 256.4h0M111 262.4h0M104 262.9h0M137.2 268.8h0M137.7 256.5h0M85.8 272.1h0M80.4 264.9h0M105.3 266.6h0M112.4 256.8h0M84.3 269.7h0M80.9 265.8h0M84 274h0M105.5 260.9h0M105.9 277h0M82.4 278h0M85.8 284.8h0M83.2 280.4h0M113.4 282.9h0M114.5 274.5h0M136.6 260.3h0M107.8 274.2h0M107.5 264h0M111.8 283.1h0M139.1 261.1h0M109.1 267h0M117.3 266.7h0M109.2 276.5h0M111.1 253.1h0" class="pb"/><path d="M81.2 265.2h0M82.8 262.8h0M108.2 284.9h0M112.9 260h0M84.3 288.6h0M81 262.9h0M137.8 261.4h0M115.2 282.4h0M107.4 281.7h0M108.2 279.9h0M114.9 267.2h0M109.6 276.5h0M111.9 287.3h0M116.1 279.4h0M116 282.4h0M112.2 286.8h0M115.3 266.5h0M106.9 281.4h0M82.3 262.4h0M137.8 260.4h0M113.3 259.5h0M81.8 264.6h0M138 259.7h0M137.2 260.5h0M82.7 266.1h0M83.4 262.7h0M112.9 293h0M138.3 257.9h0M82.9 262.7h0M109.1 280.9h0M84.8 288.2h0" class="po"/><path d="M83.8 275.7h0M115.3 274.5h0M136.2 259.3h0M85.3 279.9h0M134.5 258.4h0M113.7 264.9h0M109.5 281.5h0M81.3 274.2h0M114.4 295.6h0M111 292.2h0M115.3 274h0M115.2 284.2h0M115.5 272.1h0M117.6 265.8h0M137.5 258.4h0M108.9 268.6h0M109.2 279.4h0M113.3 301.2h0M113.2 274.1h0M111 265.3h0M113.6 261.3h0M112.3 271.5h0M112.9 284.4h0M135.6 264.5h0M85.7 285.9h0M106.1 251.2h0M136.4 262.9h0M111.6 249.2h0M105.8 281.7h0M110.5 273.2h0M140.1 258.4h0M114.6 297h0M116.3 262.8h0M107.8 271.6h0M108 277.7h0M83.2 275.1h0M134.3 260.6h0M107 255.8h0M108.6 249.3h0M111.7 252.3h0M114.2 286.7h0M109.5 261.9h0M137.9 259.9h0M107.7 281.2h0M109 286.4h0M112.7 294.5h0M138.6 255.2h0M85.2 270.4h0M107.3 251.2h0M108.6 245.3h0M109.5 274h0M106 258.8h0M82.5 262.8h0M113.5 260.8h0M85.4 278.8h0M114.2 267.8h0M110.5 278.8h0M114.9 276.6h0M112 255.7h0M136.8 257.3h0M105.4 271h0M104.9 275.5h0M108.2 246.9h0M106.4 265h0" class="pb"/><path d="M109.6 280.2h0M114.7 264.6h0M110.3 277.8h0M139.4 258.4h0M138 261.8h0M109.1 289.4h0M112 280.8h0M112.5 289h0M110.9 288h0M109.2 282.1h0M81.3 263.3h0M115.4 265h0M110.1 280h0M116.4 266.5h0M114.9 287.5h0M138.4 262.6h0M82.2 268.7h0M108.6 283.6h0M82 263.4h0M115.6 267.7h0M137.7 260.7h0M82.8 265.1h0M108.9 279.5h0M113.5 285.6h0M80.1 264.3h0M138.1 263.3h0M110.3 281.9h0M113.5 293.5h0M109.4 279.5h0M139.1 261.3h0M136.7 261.8h0M114 287.8h0" class="po"/></g>
<g><path d="M164.6 238.2V306.6H230.6" class="ax"/><text x="163.3" y="245.3" class="t ty">20</text><text x="163.3" y="260.1" class="t ty">10</text><text x="163.3" y="274.9" class="t ty">0</text><text x="163.3" y="289.7" class="t ty">-10</text><text x="163.3" y="304.5" class="t ty">-20</text><text x="170.1" y="309.5" class="t">-20</text><text x="183.8" y="309.5" class="t">-10</text><text x="197.5" y="309.5" class="t">0</text><text x="211.2" y="309.5" class="t">10</text><text x="224.9" y="309.5" class="t">20</text><text x="197.6" y="313.6" class="ta">dim 1</text><text transform="translate(158.6 272.7) rotate(-90)" class="ta">dim 2</text><text x="236.1" y="273.4" class="t lt">label</text><circle cx="234" cy="275.6" r="0.65" fill="#2079c6"/><text x="236.9" y="276.4" class="le">0.0</text><circle cx="234" cy="278.2" r="0.65" fill="#ff7f0e"/><text x="236.9" y="279" class="le">1.0</text><path d="M203.6 272.4h0M171.3 263.1h0M195.1 286.3h0M201.2 299.3h0M223.6 275.7h0M184.1 291.6h0M219.6 267.6h0M202.9 289h0M204.4 286.2h0M218.4 295.1h0M184.2 292.4h0M171.8 260.9h0M202.7 269.9h0M215 298h0M185.4 287.5h0M183.5 277.8h0M181.9 269h0M195.3 280.7h0M172 262.4h0M203.7 298.5h0M221 269.9h0M193.3 248h0M181.7 282.7h0M221.9 264.2h0M190.5 299.4h0M192 268.9h0M226.5 270.1h0M171.4 283.5h0M171.9 263.7h0M185.7 278h0M214.6 293.8h0M217.2 271.2h0M213.5 250.6h0M201.2 295.6h0M190.5 297.9h0M207.6 274.5h0M218.5 270.4h0M203.4 292.1h0M192.5 247.1h0M172.8 269.1h0M211.2 257.4h0M178 263.3h0M180.7 266h0M192.8 244.2h0M208.5 261.6h0M194.3 290.5h0M225.6 274h0M169.6 283.4h0M169.1 269.9h0M200.3 296.1h0M222.5 292.7h0M202.1 287.3h0M217.8 268.9h0M206.1 274.8h0M216.5 299.4h0M212.4 290.4h0M169.4 262.8h0M207.5 270.2h0M211.1 251.4h0M218.6 274.1h0M203.5 275h0M169.1 279.7h0M173.8 281.6h0M219.6 300.3h0M191.7 276.7h0M212 296.7h0M214.2 295h0M193.4 268.5h0M212.1 247.4h0M209.1 275.3h0M206.6 270.4h0M188.4 290.7h0M170.2 277.9h0M198.3 265.3h0M193.6 250.3h0M210.7 286.9h0M172.7 266.4h0M183.8 290.6h0M215.7 288h0M197.2 297.3h0M210.7 258.4h0M212 273.4h0M217.4 294.6h0M213.9 292.4h0M193 243.3h0M196.9 276.6h0M219.8 297.5h0M209 288.7h0M219.7 295.1h0M202.9 291.1h0M207 290.9h0M185.5 270.6h0M200.2 264h0M206.5 278.9h0M206.3 293.1h0M179.7 291.2h0M203.9 299.3h0M204.6 257.7h0M195.4 286.5h0M208.8 291.4h0M218.8 269.4h0M189.8 247.8h0M207.2 246h0M182 288.3h0M216 299.3h0M198.4 290.7h0M189.7 298.5h0M172.4 266.8h0M222.3 266.8h0M172.1 280.9h0M200.4 271.9h0M173.2 280.7h0M169.4 279.5h0M207.4 293.9h0M194.6 265.2h0M216.7 297.3h0M196.3 279.7h0M191 275.1h0M173.3 268.8h0M219 291.9h0M198.1 272.2h0M225.4 265.8h0M195.1 286.5h0M210.1 299h0M201.8 296.2h0M208.1 254.2h0M194 283.7h0M224.3 278.4h0M212.1 290.1h0M208.5 269.1h0M191 252.6h0M182.6 269h0M204.2 288.7h0M212.4 255.5h0M168.6 267.7h0M211.4 294.6h0M190.9 277.1h0M211.3 294.1h0M213.6 249.9h0M198 292.8h0M211.9 256.7h0M210.5 251.7h0M202.5 285.3h0M193.8 245h0M187.8 295.9h0M183.5 279.1h0M168.7 267.2h0M220 291.9h0M216.5 300.6h0M172.1 264.2h0M211.1 250h0M210.3 259.1h0M206.3 282.4h0M204.1 252h0M209.2 245.8h0M211.9 277.4h0M171.8 271.2h0M189.1 268.3h0M201.3 288h0M223.5 273.3h0M183.9 297h0M213.1 298.3h0M207.2 250.9h0M208.4 263.4h0M224.1 273.5h0M217.9 269.9h0M183.1 282.4h0M184 266.1h0M220 270h0M212.4 256.2h0M206.1 266h0M184.7 292.2h0M212.4 257.2h0M192 274.3h0M170.7 277.8h0M194.1 292.4h0M190 245.9h0M203.9 298.1h0M181.8 267.8h0M191 294.5h0M212 248.4h0M170.9 282.1h0M215.4 251.5h0M205.2 270.4h0M196.1 284.7h0M179.3 275.4h0M210.8 298.5h0M209.8 284.1h0M180.7 275.1h0M208.2 288.6h0M209 278.7h0M179.4 286.6h0M225.3 275.7h0M216.8 292.6h0M211.2 298h0M171.4 279.5h0M177.5 269.4h0M190.3 293.9h0M213.7 249.8h0M211.5 279h0M224.1 278.5h0M191 262.2h0M191.6 289.1h0M211 286.8h0M205.8 263.2h0M199.4 288h0M212.3 247.4h0M168.2 268.6h0M192.7 274.4h0M187 286.6h0M214.5 300.6h0M209.3 284.9h0M178.3 262.2h0M185.8 288h0M171.9 283.6h0M194.5 243.9h0M215.6 293h0M190.2 294.8h0M205.1 253.3h0M190.1 268.2h0M227.5 270.3h0M172 264.4h0M178 270.3h0M177.9 270.6h0M223.4 269.1h0M220.8 297h0M202.1 294.4h0M208.1 253.6h0M203.1 293.2h0M211.5 273.9h0M188.1 299.5h0M213.2 258.4h0M204.5 296.9h0M212.7 297h0M198.8 294.3h0M171.7 276.6h0M199.7 284.6h0M202.9 274.9h0M190.5 283.8h0M190.6 248.7h0M212.5 274.8h0M209.5 246.2h0M205.8 295h0M189.5 269.8h0M188.2 262.5h0M209.6 262.9h0M209.4 276.6h0M217.8 272.9h0M202.5 251.2h0M191.2 282.4h0M183.3 292.1h0M202.7 291.1h0M184.2 293.7h0M184.1 293.7h0M212.1 285.4h0M212.1 284.8h0M193.8 296.6h0M219.9 294.4h0M197.2 293.1h0M209.1 253.2h0M209.6 276.8h0M223.2 274.8h0M205.7 287.3h0M185 264.1h0M192.6 254.5h0M194 269.4h0M187.1 287.7h0M213.7 289.7h0M211.5 251.5h0M171.4 268.1h0M212.1 252.2h0M207.1 254.9h0M181.2 267.2h0M198.6 294.3h0M220.4 272h0M224.4 272h0M173.7 279.4h0M184.9 271.6h0M183.9 276.4h0M214.1 289.1h0M192.5 259.7h0M207.1 290.9h0M209 258.2h0M185 291h0M183.5 294.6h0M179.6 286.5h0M195.8 275.8h0M211.1 294.1h0M194.1 299.4h0M179.1 265.7h0M200.6 268.8h0M170.7 263.3h0M168.9 269.5h0M181.7 269.8h0M193.2 294.2h0M192 242.4h0M202 287.1h0M191.5 242h0M169.6 260.8h0M183.6 265.1h0M181.1 274.3h0M200.2 265.4h0M215.4 299.6h0M194.5 250.2h0M194.8 252.1h0M210 255.1h0M214.5 298.9h0M204.5 290.7h0M206.9 297.9h0M199.2 273.6h0M216.9 296.8h0M197.8 267.8h0M222.9 274.9h0M187.1 294h0M206.8 288h0M198 282.4h0M220.6 272.4h0M195.3 298.5h0M205.1 283h0M217.4 296.4h0M183.9 262h0M170.5 264h0M201.3 281.8h0M182.7 293.5h0M201.2 267.9h0M204.7 253.9h0M197 285.4h0M212.8 285.6h0M190.7 252.7h0M197 300.1h0M194.8 249h0M188.5 263.4h0M205.9 271.6h0M221.6 268.1h0M198.6 298.5h0M205.1 246.7h0M182.6 295.6h0M202 268.5h0M171.3 267.9h0M201.4 271.7h0M184.1 285.1h0M193.3 291.6h0M219.7 298.8h0M193 253.8h0M213 296.7h0M222.4 268.5h0M191 248.2h0M202.1 282.3h0M194.7 282.1h0M205.5 248.3h0M187.2 282.8h0M192.3 247.7h0M191.5 268.1h0M219.1 272.7h0M188.9 261.9h0M206.2 247.4h0M186.2 289.8h0M200.5 292.3h0M221.2 268.7h0M194.4 243.1h0M207.1 265.4h0M183.9 294.8h0M193.2 261h0M182.5 271.8h0M198.5 263.4h0M194.4 247.8h0M209 296.7h0M199.3 296.5h0M191.5 290.6h0M222.9 277.9h0M203.2 284.3h0M222.8 269.2h0M183.6 296.9h0M192.9 264.7h0M173 282.5h0M227.8 268.9h0M180.6 266.2h0M214.2 255.5h0M217.8 297.1h0M220.5 273.6h0M205.4 295.3h0M208.6 297.7h0M172.9 261.6h0M172 279.7h0M197 281.8h0M180.7 293.9h0M211.8 250.5h0M201.6 286.9h0M189.3 262.1h0M190.2 290.7h0M213.4 292.4h0M216.7 299.8h0M186.8 277.4h0M190.9 284.9h0M201.9 298h0M210 296.7h0M202.3 284.8h0M222 277.6h0M207.2 284h0M169.6 280.5h0M178.6 269.9h0M207.6 249.7h0M214.1 287.7h0M214.3 304.8h0M214.6 286.2h0M194.6 288h0M221.3 273.4h0M210.4 272.1h0M197.4 288.6h0M209.5 249.4h0M221.1 275.4h0M203.5 271.2h0M198.8 259.9h0M204.3 272.7h0M191.2 283.9h0M225.6 276.8h0M206.7 266.2h0M188 286.2h0M168.7 268.5h0M215.6 292.4h0M187.7 283.7h0M200 284h0M196 285.1h0M205.2 269.5h0M188 295.2h0M223.8 272.1h0M221.1 272.4h0M197.5 300.1h0M206.3 258.2h0M214.1 255.7h0M204.4 271.5h0M206.1 284.3h0M178.2 275.5h0M211.1 296.5h0M169.8 269.5h0M193.9 276.1h0M214.5 293.9h0M169.8 269.2h0M196.4 269.7h0M185.2 263.2h0M169.5 281.3h0M194.2 278.9h0M200.7 265.3h0M179 284.7h0M198.5 294.3h0M192.7 285.2h0M211.4 290.9h0M207.1 265.9h0M194.1 244.3h0M209.5 256.6h0M194.1 248.7h0M193 294h0M169.3 270.1h0M181.5 262.1h0M207.1 262.7h0M172.5 281.6h0M190.2 246h0M191.5 297.8h0M190.5 282.9h0M182.1 278.6h0M192.6 284.3h0M205.5 248.6h0M182.6 287h0M202.3 268.1h0M200.9 298.9h0M199.2 297.5h0M219.4 275.2h0M197.1 297.4h0M207.1 257.3h0M191.3 288.7h0M202.5 270.3h0M185.7 294.3h0M193.5 241.8h0M186 283.8h0M194.6 273.1h0M207.2 299.2h0M213.8 300.8h0M198.2 291h0M211.9 296.6h0" class="pb"/><path d="M207.3 248.7h0M214.2 252.4h0M206.9 249.4h0M207.7 246.8h0M210 247.8h0M212.2 250h0M210.8 250.6h0M198.3 270.8h0M202.5 294h0M213 247.8h0M203.2 293.3h0M199.8 266.2h0M206.5 251.4h0M210 247.2h0M204.4 276.6h0M210.6 247.8h0M198.6 268.7h0M199.3 273.6h0M207.5 275.6h0M198.4 267.8h0M200.6 269.3h0M197.8 266.3h0M202.4 293h0M207.1 277h0M205.1 275h0M203 295.1h0M206.2 279h0M209 278.5h0M210 279h0M204.7 246.3h0M202.1 296.4h0M207.9 249.2h0M209.2 248.9h0M208.4 251.5h0M198.3 267.2h0" class="po"/><path d="M188.1 285h0M193.6 275.1h0M192.5 267.7h0M171.9 270.5h0M194.5 281.3h0M216.8 271.5h0M173.3 277.5h0M214.9 292.3h0M172.2 261.1h0M207.7 257.2h0M170.6 261.2h0M184.7 286.5h0M185.7 271.4h0M182.5 265.1h0M215.3 290.7h0M216.6 297.1h0M198.6 278.8h0M198.4 290.5h0M218.4 296.4h0M180.1 290.2h0M196.3 298.7h0M192.4 250.3h0M206.1 250.3h0M190.2 284.9h0M197.1 266.1h0M188.5 260.3h0M211 277.9h0M201.8 290.5h0M226.2 271.8h0M169 278.8h0M220.1 267.6h0M194.1 285.9h0M214.9 287.4h0M191.9 298.2h0M201.7 268.3h0M206.2 254.4h0M179.5 275.7h0M185.7 282.5h0M196.5 275.1h0M220.9 272.3h0M215 299.3h0M193.3 285.1h0M225.3 268.1h0M222 276.2h0M212.9 288.3h0M214.2 293.2h0M192.3 283.2h0M194.2 267.9h0M202.4 267h0M223.5 293.4h0M209 254.4h0M170.9 284.8h0M223.1 264.1h0M206.6 245.1h0M189.3 298.4h0M224.1 266h0M206.9 298.6h0M172.2 277.9h0M199.9 284.1h0M188.7 267.5h0M183.8 270.1h0M218.6 266.8h0M215.6 299.5h0M227.6 272.4h0M206.4 290.4h0M199.1 291.9h0" class="pb"/><path d="M206.3 248h0M206.4 250.6h0M210.1 249.3h0M175.5 266.8h0M214.3 252.5h0M205.5 277.8h0M203.7 293.5h0M213.1 251.4h0M212.1 247.7h0M202 275h0M202.9 291.4h0M206.4 246.9h0M174.4 263.3h0M176 267.5h0M197.9 266.9h0M212.5 247.9h0M213.4 251.2h0M198.8 267.1h0M203.4 293.6h0M214.2 248.9h0M204.4 293.6h0M210.2 249.5h0M202.4 291.3h0M208.8 251.2h0M211.9 249.1h0M214.2 248.1h0M198 269.3h0M208.8 244.2h0M201.3 268.8h0M199.4 265.7h0M199.1 268.4h0M198.6 270.3h0M204.2 302.2h0M205.7 276.7h0M202.1 292.8h0M202.8 275.8h0" class="po"/></g>
<g><path d="M254.2 238.2V306.6H320.2" class="ax"/><text x="252.9" y="245.3" class="t ty">30</text><text x="252.9" y="254.9" class="t ty">20</text><text x="252.9" y="264.5" class="t ty">10</text><text x="252.9" y="274.1" class="t ty">0</text><text x="252.9" y="283.7" class="t ty">-10</text><text x="252.9" y="293.3" class="t ty">-20</text><text x="252.9" y="302.9" class="t ty">-30</text><text x="263" y="309.5" class="t">-20</text><text x="274.6" y="309.5" class="t">-10</text><text x="286.3" y="309.5" class="t">0</text><text x="297.9" y="309.5" class="t">10</text><text x="309.6" y="309.5" class="t">20</text><text x="287.2" y="313.6" class="ta">dim 1</text><text transform="translate(248.2 272.7) rotate(-90)" class="ta">dim 2</text><text x="325.7" y="273.4" class="t lt">label</text><circle cx="323.6" cy="275.6" r="0.65" fill="#2079c6"/><text x="326.5" y="276.4" class="le">0.0</text><circle cx="323.6" cy="278.2" r="0.65" fill="#ff7f0e"/><text x="326.5" y="279" class="le">1.0</text><path d="M267.3 280.2h0M273.9 258.9h0M266.6 285.8h0M310.9 273.4h0M284.1 294.9h0M280.8 295.2h0M281.6 290.3h0M272.2 288.7h0M289.5 279.3h0M263.4 261.5h0M274.5 279.7h0M289.6 294.4h0M311.8 277.2h0M310.3 299.6h0M279.5 291.4h0M273.1 246.3h0M269.5 279.6h0M282.6 255.6h0M296.6 270.3h0M288.5 272.5h0M271.5 251h0M312.6 291.1h0M280.7 271h0M264.3 267.8h0M295 291.8h0M302.9 283.6h0M287.8 263.4h0M270.7 288h0M302.8 293.5h0M280.6 271.4h0M283.5 290.2h0M286.2 278.5h0M260.2 278.9h0M285.4 268.9h0M281 244.8h0M264.1 265.4h0M284.2 250.4h0M281.8 270h0M291.4 282.3h0M281.4 257.6h0M294.9 275.3h0M262.1 270.3h0M304.3 294h0M306.7 292h0M301.7 294.5h0M281.6 274.4h0M263.1 283.3h0M280.4 248h0M280.8 253h0M266.6 264.1h0M311.6 296.4h0M271.8 245.6h0M307.3 295.9h0M301.5 287.7h0M287.8 278.4h0M284 263.4h0M305.9 271.3h0M286.2 274.2h0M272 261.8h0M264.5 260.7h0M263.8 258.4h0M288.6 281.9h0M273.2 289.2h0M258.7 272.5h0M282.7 290h0M280.4 247.9h0M272 267.6h0M288 253.2h0M274.3 285.6h0M273 290.9h0M297.8 259.7h0M274.8 245.7h0M272.8 292.6h0M290.5 271.8h0M292 271h0M307.1 279.2h0M297.2 296.3h0M279.9 255.7h0M274.7 293.9h0M281.7 295.3h0M268.2 282.9h0M287 269.8h0M271.6 251.8h0M290.2 256.5h0M281.7 263.8h0M272.9 271.6h0M284.8 268.8h0M273 285.9h0M307.6 271.3h0M294.4 300.2h0M282.2 276.5h0M305 288.2h0M289 259.5h0M294.4 258.1h0M291.6 299.9h0M279.2 263.8h0M290.5 279.8h0M301.9 274.8h0M302.8 300h0M259.3 279.3h0M278.7 289.3h0M268.2 264.2h0M300.5 259.8h0M285.9 298.3h0M287.9 256.1h0M286.8 251.3h0M291.9 271.2h0M300.8 294.2h0M283.6 291.3h0M273.2 289.7h0M285.3 268.9h0M278.4 256.3h0M308.7 291.2h0M274.9 272.3h0M299.7 297.8h0M288.5 267.4h0M284.3 250.5h0M276.3 294.6h0M291.9 272.8h0M305.7 285.3h0M266.9 256.4h0M286.4 279.1h0M273.6 288.1h0M306.6 293.3h0M296.1 252.1h0M267.7 272.3h0M259 263.5h0M304.7 280.8h0M300.6 278.4h0M295.2 294h0M282.5 256.6h0M276.4 256.4h0M291.7 292.9h0M280.4 285.5h0M276 241.5h0M294.9 258.3h0M267.9 251.8h0M288.6 261h0M286.9 268.8h0M304.1 298.4h0M288.8 275.7h0M271.1 252.9h0M304.4 285.1h0M309.9 285.4h0M273.4 288.5h0M294.4 287.2h0M263.9 266.4h0M282.7 276.7h0M292.6 271.9h0M270.9 268h0M279.8 275.3h0M280 255.6h0M305.3 280.1h0M297.4 273.6h0M303.3 292.4h0M279.1 294.4h0M305.2 287.2h0M281.2 286.6h0M303 297.6h0M308.1 297.7h0M279.9 277.7h0M261.4 274.1h0M303.6 295.1h0M315.8 279.2h0M280.3 269.4h0M266.2 281.6h0M280.2 288.9h0M276.1 256.3h0M296.2 267.3h0M284.1 266.8h0M284.2 267.5h0M271.7 287.7h0M297.1 279h0M277.2 247.6h0M276.5 288.7h0M304.3 294.1h0M298.7 274.4h0M293.3 273.9h0M281.4 267.8h0M262.2 260.8h0M314.7 285.8h0M273 244.7h0M308.9 300.8h0M265.4 265.3h0M262.5 264.4h0M290 277.4h0M277.1 289.2h0M282.5 265.2h0M300.4 293.6h0M284 247.7h0M303.1 299.9h0M313.8 281.5h0M294.8 271.4h0M294.7 258.4h0M307.7 293.6h0M285.3 276.8h0M302.3 297.1h0M298.1 273.2h0M278.5 256.7h0M307.6 295.2h0M260.4 259.3h0M277.3 293.3h0M280.6 293.7h0M266 256.9h0M295.9 267.1h0M277.1 249.1h0M278.5 251.3h0M290.2 259.1h0M307 273.6h0M281.1 275.9h0M284.6 288.5h0M290 295.9h0M270.2 277.7h0M283.6 274h0M296 281.4h0M265.1 266h0M288 263h0M301.6 291.8h0M310.1 293.2h0M288.6 274h0M290.6 294.5h0M296.7 254.4h0M277.8 249.6h0M280.4 244.1h0M267 259.4h0M277.9 250.5h0M281.9 259h0M290.6 274.5h0M268.6 278.6h0M276.4 248.3h0M284.7 276.1h0M284.2 248.8h0M283 291.6h0M272.4 258.7h0M270.2 251.9h0M261.7 267.8h0M309.3 278.4h0M282.9 262.6h0M280.9 250.1h0M306.2 266.9h0M288.8 268.8h0M271.4 253.2h0M264 257.6h0M272.8 246.8h0M263.7 266.9h0M299.7 288.4h0M282 291.9h0M311.9 298.1h0M284.6 254h0M280.8 245.4h0M262.7 273.2h0M290.7 257.8h0M306.7 265h0M286.2 291.7h0M300.9 292.9h0M298.3 302.2h0M276.5 256.7h0M278.1 245.9h0M265.4 264.8h0M293.9 270.2h0M305.3 303.7h0M283.7 266.4h0M303.9 286.1h0M276.6 251.7h0M287 259.2h0M285.2 272.4h0M307.4 269.4h0M281.4 274.6h0M297.2 276.6h0M283.5 281.5h0M260.4 267.1h0M294.9 284.6h0M283.1 295.4h0M285 278.1h0M293.8 279.8h0M295.6 284.8h0M308.2 287.1h0M265.5 263h0M283.7 256h0M278.4 268.9h0M308.1 273.5h0M306 301.3h0M282.8 283.1h0M292.7 270.4h0M305.2 295.3h0M293.9 293.5h0M261.3 276.6h0M282.9 272.2h0M281 285.2h0M285.5 273.7h0M304.8 270.7h0M273.2 263.7h0M288.3 292.2h0M301.2 262h0M306.8 286.9h0M270.3 270.8h0M280.7 246.5h0M276.5 252.1h0M307.6 274.1h0M309 300.2h0M303.6 275.7h0M257.6 266.9h0M267.2 288.1h0M277 247.9h0M275.5 246.2h0M280.8 254.5h0M287.6 252.3h0M266.3 251.6h0M312.8 291.7h0M278.9 245h0M259.7 268.7h0M304.4 284.6h0M263.6 269.8h0M287.7 299.5h0M285.1 280.1h0M291.2 271.9h0M311.3 279.2h0M292.1 274.8h0M303.5 277.4h0M288.6 295.6h0M269.9 276.7h0M288.2 289.8h0M294.9 270.8h0M266.7 260.2h0M257 270.1h0M267.9 250.2h0M314.3 274.6h0M267.3 271.4h0M265 260.2h0M279.9 295.7h0M294.6 272.1h0M271.1 283.7h0M274.7 276.8h0M282.7 275.4h0M308.6 294.5h0M282.6 270.2h0M275.9 251.7h0M286.9 251.9h0M285.1 290.3h0M283.3 259h0M294.7 275.6h0M272.7 252.6h0M304.1 288.5h0M269.9 258h0M272.9 249.8h0M290.4 252.2h0M285.2 275.6h0M311.2 283h0M300.1 289h0M293.5 275.8h0M269 262.7h0M289.7 278.2h0M286.3 286.6h0M290.2 252.6h0M281.8 271.4h0M275.8 256.8h0M304.1 293.9h0M268.1 263.8h0M273.8 296.3h0M275.9 295.3h0M289.9 276.4h0M288.2 254.5h0M296.8 277.4h0M283.7 272.4h0M294.1 270.3h0M299.6 284.8h0M287.5 254.3h0M295.4 296h0M311.3 294.6h0M303.6 300.8h0M262.6 277.1h0M283.2 267.1h0M300.9 274.1h0M280.2 292.4h0M300.5 275.4h0M267 256.5h0M296.2 264.6h0M269.3 248.3h0M285.6 269.9h0M274.8 276h0M291.7 289.5h0M286.2 290.8h0M306.1 294.1h0M268.4 280.7h0M271 292.6h0M300.5 280.3h0M304.3 277h0M293.5 257.3h0M274.2 247.6h0M294.6 274.3h0M287.5 274.4h0M310.9 298.2h0M271.6 279.7h0M278.9 295.2h0M279.2 256h0M272.4 254.7h0M264.7 280.7h0M292.8 274.1h0M294.8 272.8h0M282.2 293.2h0M310 296.7h0M288 287.6h0M257.7 265.2h0M310.2 281.6h0M268.3 284h0M272.4 285.5h0M295.1 252.5h0M284.5 290.4h0M279.4 270.2h0M308.4 277.5h0M297 299.1h0M297.5 260.7h0M270.2 246.6h0M286.8 251.5h0M277.8 252.3h0M283.9 245.7h0M277.6 249.2h0M307.5 290.3h0M263 264h0M273.8 250.3h0M279.4 246h0M271.2 265.2h0M280 270.2h0M274.1 256.6h0M264.2 272.6h0M278.9 290.8h0M280.3 253.9h0M280.9 289.1h0M291.3 275.4h0M289.5 273h0M307.6 294.7h0M277.8 293.9h0M283.9 282.8h0M268.6 259.2h0M311.1 294.3h0M297.9 284.2h0M269.1 292.4h0M289.4 258h0M278.8 255.3h0M268.8 251.9h0M282.4 254.3h0M300.3 297.8h0M282.5 274.7h0M281.7 294.4h0M289.1 277.3h0M281.3 276.2h0M306.5 296.6h0M301.8 287h0M282.5 265.7h0M286.7 288.8h0M276.2 249.5h0M270.9 250.8h0M273.1 269.9h0M288.3 293.4h0M257.3 264.9h0M298.5 285.6h0M278.5 260.8h0M314.5 295.5h0M270.6 270.6h0M311.4 280.8h0M266 264.9h0M308.7 295h0M286 247.1h0M312.6 297.1h0M302.2 289h0M277.7 282.9h0M286.8 273.6h0M294 287.3h0M306 264.6h0M298.3 281.9h0M281.1 264.7h0M283.9 261.5h0M277.3 262.5h0M279.4 258.5h0M283.2 276.5h0M278.3 257.1h0M273 290.7h0M271.5 263.9h0M288.7 249.4h0M305.8 280.2h0M307.6 280.3h0M306.7 293.7h0M265.1 261.5h0M281.5 255.8h0M260.1 257.6h0M278.9 244.8h0M257.1 275.3h0M291.1 265.2h0M267.7 247.5h0M260.7 267.2h0M287.2 276.7h0M279.9 293.3h0M280.8 257.6h0M286.3 276.7h0M299.9 277.2h0M276.7 293.6h0M294.4 271.9h0M302.1 299.1h0M282 291.3h0M289.1 272.6h0M281.2 251.1h0M301.4 258.7h0M291.6 274.8h0M296.3 290.3h0M289.5 290h0M292.3 276.4h0M312.2 295.2h0M280.3 274.3h0M280.5 260.6h0M294 273.1h0M306 295.4h0M297.6 298.8h0M280.6 252.3h0M285.4 277.2h0M291.2 276.3h0M286.5 264h0M260.4 267.6h0M270.3 264.4h0M296.7 287.8h0M265.7 285.7h0M277.6 261.7h0M277.7 253h0M273.7 297.1h0M299.9 257.8h0M277.3 290.2h0M272.9 283.4h0M272.5 292.2h0M281.9 277h0M268.6 274.5h0M281.6 255h0M282 284.4h0M304.8 287.3h0M271.2 245.3h0M281.1 279.1h0M275.9 250.2h0M301.7 291.3h0M292.4 274.7h0M264.1 284.2h0M272.9 252.6h0M277.6 256.9h0M279.5 246h0M295.9 301.8h0M289.4 299.5h0M291.8 270.4h0M297.8 276.9h0M279.3 244.4h0M307.7 292.9h0M301.4 295.6h0M272.6 262.4h0M272.8 255.5h0M282.6 271.2h0M295.5 285.2h0M286.9 279.6h0M283.1 253.7h0M308.4 296.8h0M279.5 270.4h0M278.5 292.1h0M294.8 292.3h0M294.5 294.4h0M285.5 271.7h0M275.4 286.5h0M261.9 264.3h0M288.6 289h0M299.3 294.7h0M262.4 279.9h0M295.8 276.4h0M283.1 276.8h0M289.8 275.4h0M283.1 289.3h0M268.2 269.9h0M285.6 274.5h0M279.7 253.4h0M295.7 252h0M271 294.7h0M262.8 268.3h0M303.8 291.8h0M309.4 275.1h0M308.1 292.4h0M300.7 296.4h0M284.7 287.3h0M273.8 298h0M272.6 271.3h0M311.9 275.5h0M289.5 263.4h0M296.5 281h0M291.2 272.9h0M280.1 253.2h0M277.2 292.9h0M289.3 284.4h0M293.1 279.8h0M285.1 271.1h0M294.6 286.6h0M267.7 252.1h0M280 289.4h0M316.4 275.2h0M313.9 293.8h0M283.1 273.8h0M283 261.6h0M297.6 276.5h0M311.7 290.7h0M270.8 254h0M268.2 260.1h0M259.6 279.4h0M286.6 278.4h0M275.4 286h0M275.8 254.7h0M302.2 299.7h0M311.6 282.9h0M261.4 276.6h0M289.4 287h0M259.6 265.9h0M300.5 280.2h0M268.3 259.5h0M290.6 263.9h0M288.3 251.4h0M298.2 270.5h0M262.7 274.9h0M275.6 257.6h0M276.6 263.6h0M304.2 282.3h0M284.3 293h0M289.3 275.6h0M280.7 246.9h0M280.9 283.1h0M303.2 289.5h0M281.2 261.2h0M278.2 274.3h0M266.8 262.9h0M257.6 264.8h0M270.9 288.8h0M267.6 248h0M289.5 254.4h0M279.5 251.9h0M275.3 261.9h0M263.7 263.8h0M283.7 252.9h0M290.2 247.6h0M276.5 253.2h0M287.8 252.3h0M275.1 287.6h0M296.4 267h0M276.1 277.6h0M260.5 265h0M300.4 288.8h0M293.4 263.5h0M296.8 273h0M300 285.5h0M287.7 266.9h0M296.1 294h0M265.2 257.1h0M298.2 270.6h0M315.4 279.2h0M275.7 260.4h0M273.5 286.8h0M276.4 248.8h0M273.5 292.8h0M293.4 274.2h0M278.2 288.8h0M296.4 264.5h0M273.5 254.4h0M301.4 297h0M263.4 264h0M301.4 273.6h0M288.8 278.2h0M277.8 291.7h0M296 268h0M276.2 286.6h0M267.2 256.4h0M288.5 274h0M280.7 288h0M291 260.4h0M282 288.1h0M299.2 257.5h0" class="pb"/><path d="M296.8 263h0M290.1 265.6h0M290.6 262.5h0M287.3 265.3h0M293.7 265.2h0M289.9 266.5h0M292.5 268.6h0M286.7 261.3h0M295.6 266.5h0M292.2 265.6h0M296.4 266.9h0M294.9 268.7h0M298.4 264h0M293.4 269.3h0M295.2 270.6h0M293.6 266.8h0M291.9 264.3h0M295 267.3h0M288.5 271.6h0M293.1 261.8h0M297.3 268.3h0M283.4 266.3h0M284.1 261.8h0M292.4 267.7h0M290.5 267.5h0M301.1 262.3h0M295.8 264.4h0M287.2 265.9h0M298.3 265.8h0M293.8 264h0M286.3 261.8h0M290.1 265.3h0M291.9 263.5h0M299.4 265.8h0M295.5 263.4h0M290.9 271.1h0M297.1 265.8h0M295.9 266.1h0M300.6 268.2h0M299.2 262.6h0M285.1 262.6h0M291.9 265.7h0M295.3 270.1h0M287.8 268.4h0M292.6 269.1h0M298.3 266.4h0M289.7 265.5h0M297.5 262.6h0M296.2 266.6h0M293.5 261.1h0M288 261.9h0M285.1 260.9h0M294 265h0M300.4 266h0M292.2 263.1h0M295.4 265.9h0M292.3 267.5h0M300.1 268.3h0M297.3 263h0M289.4 262.5h0M293.3 265.5h0M286.6 262h0M297.3 268.9h0M286.3 261h0M287.1 262.4h0M290.3 269.8h0M286.3 261.4h0M289.1 263.5h0M296.6 264h0M288.3 265.1h0M291.5 264.3h0M292.2 264.5h0M282.2 266.8h0M294.3 267.7h0M289.9 264.7h0M287.4 265.2h0M298.3 266.1h0M287.5 269.1h0M294.5 268.1h0M286.9 261.5h0M288.7 271h0M292.4 263.4h0M292.3 263.2h0M291.3 260.4h0M299.2 267h0M292.5 270.7h0M296.5 265.9h0M290.6 265h0M295.8 267.2h0M291.1 269h0M288.8 262.8h0M291.7 262.9h0" class="po"/><path d="M305.7 295.5h0M276.7 254.5h0M303.4 266.6h0M280.2 247.5h0M263.4 259.9h0M276.2 249h0M310.8 296.9h0M276.7 255.8h0M279.8 266.8h0M305.8 289.6h0M292.2 274.3h0M299 267.7h0M290.3 277.8h0M292.3 274.3h0M281.9 290.8h0M284.9 261.9h0M282.7 251.1h0M281.1 258.7h0M303.5 287.6h0M281.4 292.1h0M276.6 251.1h0M282.7 245.2h0M300.7 292.4h0M297.5 280.7h0M265 269.1h0M269.3 284.7h0M293.7 290.7h0M289.4 249h0M292.8 271.1h0M285.1 278.4h0M281.3 257h0M309.4 288h0M290.2 277.2h0M273.4 277.1h0M305.8 287.6h0M275.7 248.2h0M282 288.7h0M286.7 255.9h0M273.6 246.6h0M262.1 257.1h0M294.7 273.3h0M297.2 253.9h0M275.3 251.9h0M289.2 294.1h0M273.6 247.9h0M280.5 247.4h0M260.5 264.6h0M280.7 248.2h0M267.8 283.6h0M276.4 250.1h0M260.8 273.1h0M273.7 255.5h0M267.2 267.3h0M264.6 284.6h0M278.4 246.3h0M258.6 271.7h0M284.5 296.7h0M281.8 277.8h0M281 246.7h0M263.8 263.6h0M280.6 277.1h0M306.9 298.2h0M265.5 273.7h0M306.4 290.1h0M258.9 265.9h0M279.9 292.2h0M262.8 262.1h0M257.4 274.9h0M316.6 274.4h0M287.4 286.7h0M297.5 292.7h0M284 273.7h0M266.7 269.1h0M297.7 295.7h0M273.3 292.2h0M278.3 273.9h0M290.8 289.7h0M264 263.7h0M268 254.1h0M270.5 271.5h0M305.9 280.5h0M260.8 269.7h0M283.2 261.3h0M268.7 256.4h0M307.2 298.2h0M265.9 254.3h0M293 271.8h0M271.5 270.1h0M261.5 265.5h0M284.4 276.2h0M303.4 298.6h0M297.8 272h0" class="pb"/><path d="M295.2 262.1h0M293.2 264.7h0M295.4 265.2h0M292 261.2h0M298 263h0M292 268.9h0M290.2 263.7h0M294.7 261.7h0M295.1 266.6h0M296.6 264.8h0M294 266h0M295.7 262.1h0M282.2 266.2h0M298.7 267.2h0M291.3 265.7h0M293.4 258.4h0M287.8 260.7h0M297 264.4h0M291.1 261h0M300.3 266.9h0M299.5 264.9h0M294.9 267.1h0M296.9 269h0M282.6 266.6h0M285.7 262.4h0M295 266.1h0M294.3 264.7h0M290.8 265.6h0M290.7 268h0M292.8 263.3h0M288.3 268.8h0M293.5 267h0M289.6 265.3h0M280 241.8h0M295.7 265.9h0M289.5 270.8h0M293.9 262.5h0M293.7 263.8h0M292.5 265.7h0M289.6 267.3h0M286.5 268h0M294.4 265.1h0M293.3 267.7h0M296.7 262.6h0M283.6 270h0M287.4 266.8h0M296.1 261h0M293.5 263.5h0M294.1 265.8h0M290.2 262.7h0M285.7 261.7h0M294.1 258.9h0M291.5 268.4h0M299.5 263.8h0M285.6 267h0M294.1 262.5h0M287.5 261.9h0M293.4 260.8h0M291.9 268.3h0M289.7 261.1h0M292 261.8h0M291.4 267.5h0M292.2 263.8h0M298.9 267.4h0M295.7 266.7h0M289.7 264.9h0M294.4 264.3h0M295.9 265.8h0M286.7 263.9h0M288.9 264.7h0M293.4 270.1h0M289.1 269.9h0M287.6 267.5h0M290.7 267.9h0M294.7 264.9h0M293.2 263.7h0M293.6 264h0M295.3 268.3h0M296.1 271.5h0M297.6 262h0M289.5 264.7h0M295.5 258.3h0M297.1 268.6h0M294.5 266h0M295.5 263.9h0M294.5 264.8h0M286.4 259.8h0M297.1 268.3h0M284 268.2h0M293.6 263.1h0M295.3 267.1h0M300 268h0M289.1 266.5h0" class="po"/></g>
<g><path d="M341 238.2V306.6H407" class="ax"/><text x="339.7" y="246.3" class="t ty">20</text><text x="339.7" y="259.1" class="t ty">10</text><text x="339.7" y="271.8" class="t ty">0</text><text x="339.7" y="284.6" class="t ty">-10</text><text x="339.7" y="297.3" class="t ty">-20</text><text x="350.9" y="309.5" class="t">-20</text><text x="362.2" y="309.5" class="t">-10</text><text x="373.6" y="309.5" class="t">0</text><text x="384.9" y="309.5" class="t">10</text><text x="396.3" y="309.5" class="t">20</text><text x="374" y="313.6" class="ta">dim 1</text><text transform="translate(335 272.7) rotate(-90)" class="ta">dim 2</text><text x="412.5" y="273.4" class="t lt">label</text><circle cx="410.4" cy="275.6" r="0.65" fill="#2079c6"/><text x="413.3" y="276.4" class="le">0.0</text><circle cx="410.4" cy="278.2" r="0.65" fill="#ff7f0e"/><text x="413.3" y="279" class="le">1.0</text><path d="M392.7 280.8h0M398.4 256.9h0M369.7 268.6h0M357.9 249.7h0M369.3 281.9h0M365 251.2h0M374.8 261.3h0M356.5 281h0M403 260.7h0M382.2 283h0M368.9 288h0M380.6 268.3h0M384.7 265.8h0M394 262h0M379.3 285.3h0M376.4 287.2h0M387.3 289.8h0M377.8 267.1h0M373.7 267.6h0M360.8 251.6h0M373.5 294.8h0M393.1 262.1h0M370.8 265.3h0M374 288.5h0M382.4 264h0M375 288.8h0M373.3 285.9h0M368.6 268.3h0M353.1 271.3h0M401 264.8h0M381.5 264.1h0M385.8 274.5h0M369.3 253h0M354.9 254.7h0M393.6 266.5h0M373.9 267.5h0M382.6 270.4h0M373 262.8h0M367.4 262.7h0M385.2 265.5h0M399.3 268.2h0M377 291.3h0M373.6 289.9h0M356.5 251.4h0M378.7 269h0M373.6 293.4h0M379.7 291.6h0M373.5 293.6h0M362.7 283.5h0M349.1 275.9h0M380.8 259h0M362.1 295.2h0M380.8 268.3h0M382.3 294.5h0M397.6 260.6h0M378.8 282.7h0M369.2 268.9h0M365.2 248.4h0M379.1 275h0M374.6 282h0M361.3 290h0M370.7 293.1h0M400.4 266.6h0M376.2 288.7h0M361 258.6h0M366.2 247.1h0M370.6 295.4h0M348.8 250.1h0M358.9 276.4h0M355.1 250.8h0M392.9 260.8h0M381.5 295.3h0M367.3 261.2h0M377.3 255.5h0M347.9 274.5h0M383.2 266.2h0M374.1 294h0M384.2 291.5h0M375 296h0M393.8 261.4h0M351.3 263.5h0M382.4 271.7h0M350.4 280.2h0M352.6 266.6h0M379.6 265.4h0M385.3 269.7h0M383.4 250.1h0M358.2 290.3h0M347.9 267h0M359.6 273.6h0M401.4 257.3h0M353.4 255.4h0M364 253.2h0M354 259.8h0M367.7 277.7h0M382.6 258.5h0M394.5 259.7h0M349.6 275.8h0M357.3 277.3h0M349.4 275h0M366.3 260h0M380.8 251.3h0M355.1 285.4h0M400.5 265.9h0M359.7 287.8h0M398.4 287.6h0M383.1 292.6h0M400.1 283.9h0M350.3 275.5h0M376.1 294.9h0M362.9 257.1h0M369.4 277.6h0M375.9 278.3h0M384.7 296.1h0M362.6 254.7h0M370.7 269.2h0M368.3 290.2h0M363.3 293.7h0M351.8 275.6h0M386 268.8h0M385.2 268.1h0M373.6 251.3h0M347.2 268.5h0M364.3 277.8h0M376.6 254.3h0M375.3 267.1h0M368.7 304.5h0M347.7 279.9h0M347.8 278h0M401.5 260h0M366.9 257.5h0M359 264.5h0M354.9 286.8h0M371.8 295.7h0M370.2 294.1h0M351 264.8h0M362.7 248.3h0M361 290.9h0M352.6 270.1h0M358 247.9h0M374.7 264.7h0M375.2 270.4h0M348.6 256.3h0M371.2 264.8h0M366.8 280.8h0M376 289.4h0M383.4 267.5h0M360 257.1h0M373.2 269.4h0M365.8 266.2h0M396.2 281.6h0M371.3 287.8h0M376.9 268.8h0M381.3 276.7h0M375 253.6h0M385 276.3h0M370.3 271.3h0M381.4 269.6h0M353.4 278.3h0M355.7 245.6h0M356.6 274.7h0M377.8 282.4h0M353 264.6h0M376.8 288.5h0M367.7 258.5h0M403.2 263.5h0M352.8 262.3h0M379.7 297.2h0M379 287.8h0M373.4 297.5h0M375.7 268.2h0M368.1 246.1h0M344.9 274.5h0M390.2 271.8h0M398.2 265.1h0M377.2 296.1h0M371.8 269.3h0M364 270.2h0M355.9 247.8h0M383 266.5h0M377.7 265.6h0M388.5 268.1h0M346 276.4h0M406.4 261.7h0M385.2 283h0M389 277.4h0M357.5 255.7h0M362.8 265.2h0M399.4 275h0M354.6 276.3h0M367.4 248.5h0M368.6 260.5h0M346.2 269.5h0M388.5 292h0M362.2 251.4h0M367.1 294.9h0M350.9 271.6h0M353.9 277.7h0M394.8 267.1h0M378.2 292h0M391.8 262.1h0M353.5 255.1h0M379.1 294.1h0M359.6 287.1h0M364.4 256.9h0M361.7 265.2h0M380.5 270.4h0M357.4 277.9h0M352.2 278h0M378.2 272.5h0M396.9 285h0M372.8 249h0M372.6 254.8h0M348.8 280.1h0M367.4 268.9h0M368.3 261.9h0M383.9 268.7h0M374.3 244.9h0M374.1 297.9h0M379.4 267.4h0M403.3 258.8h0M362 245.7h0M360.3 257.3h0M353.9 279.5h0M358.1 256.3h0M370.6 274.2h0M354.8 285.9h0M393.1 290.5h0M370.2 288.1h0M353.4 278.1h0M362.7 257.5h0M373.6 291h0M364.5 284.1h0M362.5 243.9h0M371.8 282.5h0M359.4 258.4h0M356.7 275.8h0M394 264.4h0M384.9 260.6h0M351 278h0M369.1 274.1h0M363.7 261.2h0M373.2 283.8h0M371.3 284h0M379.9 270.5h0M395 256.3h0M365.7 266.5h0M370.6 264.4h0M381 271.8h0M369.5 293.8h0M376.4 298.5h0M368.8 244.1h0M393.8 267.9h0M370.2 267.7h0M367.2 293.1h0M371.1 276.6h0M374.1 298.9h0M354 258.2h0M387 273.4h0M366.6 270.5h0M353.5 262.3h0M345.9 273.4h0M377.8 271.9h0M372.3 267.1h0M389.8 279.2h0M372.7 285.7h0M403.8 264.4h0M370 268.4h0M381.7 264.9h0M359.4 250.8h0M376.7 297.9h0M396.2 264.3h0M367.8 298.2h0M382.2 255.8h0M363.6 272.6h0M373.3 286.7h0M375.1 259.8h0M374.2 271.9h0M374.2 271.5h0M395.1 287.8h0M376.7 299.1h0M364.3 294.8h0M361.8 271.5h0M365.1 295.4h0M366.9 256.7h0M350.4 267.6h0M373.6 298.4h0M367.1 297.3h0M383.2 254.5h0M367.7 263.6h0M363.2 294.7h0M368 265.3h0M390.4 266.2h0M370.2 270.7h0M394.5 259.6h0M354.3 254.9h0M387.6 276.7h0M357 279.8h0M355.7 251.1h0M377.4 275.2h0M401.9 261.7h0M368 262.9h0M401.6 271h0M379.2 286.5h0M362.6 287.6h0M399.8 272.8h0M377.5 293.4h0M390.4 292.3h0M351.1 271.6h0M359.5 257.5h0M351.2 277h0M368.7 253.7h0M401.6 262.1h0M353.2 276h0M349.6 279.1h0M361.9 291.8h0M362.7 248.1h0M349 270.8h0M361.2 245.2h0M377.9 251.3h0M376.9 262h0M348.7 271.4h0M378.5 297.1h0M397.3 277.5h0M355 277.6h0M385.5 292.6h0M398.4 265.2h0M361.2 261.7h0M385.9 279.1h0M356.4 254.6h0M390.4 287.2h0M363.3 264.1h0M358.1 256.7h0M392.8 283.1h0M369.7 265.1h0M396.1 258.5h0M357.5 260.2h0M380.2 256.4h0M375.6 247.1h0M360 290.8h0M353.8 273.4h0M400 260.2h0M392.6 273.3h0M397.4 265.5h0M341.8 279.8h0M350 268.1h0M400.2 262.2h0M374.7 293.7h0M365.7 245.9h0M357.4 254.3h0M400.1 265.9h0M369.5 300.4h0M380.3 285.5h0M366.3 251.4h0M376.3 286.8h0M378 292.1h0M388 270h0M348.4 275.1h0M397.3 264h0M367.4 267.1h0M346.8 278.9h0M363.3 249.5h0M370.6 283h0M378.3 274.9h0M358.8 273.8h0M372.3 266.3h0M384.4 295.6h0M380.6 298.4h0M365.8 294.6h0M355 257.5h0M376.9 303.4h0M370.7 265.9h0M371 251.3h0M371.9 301.4h0M386.4 267.6h0M361.6 254.7h0M370.5 294.3h0M373.6 254.4h0M369.8 275.8h0M371 279.8h0M375.9 272.7h0M378.8 292.4h0M346.7 273h0M384.3 257.7h0M361.2 253.7h0M401.6 272.5h0M360.3 252.6h0M378.2 297.4h0M355.9 282.1h0M368.9 285.2h0M380.2 269.7h0M381.7 266.3h0M376.1 273.4h0M380.8 298.4h0M386.5 255.3h0M354.3 275.1h0M379.1 282.1h0M380.8 296.6h0M399 265.6h0M377.9 280.1h0M373.7 259.7h0M365.9 251.6h0M381.3 286.4h0M401.4 261.2h0M385.8 294.2h0M366.9 289.2h0M389 269h0M374.9 290.1h0M377.4 280.8h0M376.9 272.1h0M357.6 276.9h0M378.1 276.6h0M361.2 249.3h0M364.9 270.7h0M375.1 255.7h0M379.2 294.3h0M380.9 254.2h0M354.1 248h0M379.6 295.3h0M354.7 270.1h0M377.5 281.5h0M386.3 273.1h0M398.3 280.3h0M369.3 246.1h0M369.8 281.1h0M371.2 283.4h0M360.3 256.6h0M397 264.6h0M356.1 279.8h0M378.4 251.3h0M363.8 255.3h0M376.5 297.6h0M361.6 261.8h0M401.3 261.9h0M371.5 289.4h0M353 278.1h0M353.9 257.8h0M373.4 255.2h0M379 249.6h0M395.2 262.3h0M380.1 288.6h0M370.5 285.6h0M379.3 290.2h0M361.7 249.2h0M398.8 254.4h0M375 294.2h0M359.3 267.3h0M392.5 264.7h0M354.4 256.8h0M388.5 274.3h0M359 288.7h0M349.9 271.2h0M397.2 274.1h0M374.7 299.6h0M359.9 252.2h0M374.5 295.4h0M386.8 286.7h0M387.7 281.3h0M370.1 281.7h0M388 275.4h0M373.5 270.6h0M380 263.3h0M386.4 253.3h0M395.7 260.4h0M380.2 264.8h0M396.9 264.5h0M351 277.7h0M376.9 288.5h0M370.9 298.7h0M360.1 278.8h0M384.8 252.9h0M369.1 252.6h0M350.9 280.5h0M356.6 271.9h0M359.9 250.5h0M383.6 260.4h0M373 280.3h0M400.5 284.5h0M396 288.4h0M368.9 243.7h0M351.8 253h0M363.4 259.8h0M374 289.6h0M378.1 263.9h0M355 258.9h0M354 270.2h0M371.1 294.6h0M386.4 272.6h0M374.7 289.3h0M397.2 262.4h0M369.8 270.7h0M370.6 249.7h0M371.3 261.5h0M391.9 256.9h0M379.4 298h0M394.3 266.1h0M398.4 260.6h0M377 273.5h0M369.8 269.1h0M347.8 273.1h0M379.5 254.4h0M346 279h0M367.3 264.8h0M367.8 261h0M397.2 254.7h0M385.6 267h0M373.1 291.7h0M374.1 295.7h0M382.7 251.5h0M379.9 271h0M395.2 266.1h0M387.8 263h0M392.7 262.7h0M400.9 269.2h0M355.8 257h0M399.7 276.6h0M375.8 270h0M386.7 289h0M371.5 268.3h0M358.5 256.8h0M378.4 266.2h0M388 267.1h0M374 268.1h0M373.9 259h0M380.5 256h0M366.6 253.6h0M374.5 285.8h0M372.9 286.9h0M348.7 276.5h0M350.7 260.4h0M345.5 269.9h0M374.1 268.7h0M356.1 254.8h0M355 272.4h0M371.2 293.9h0M355.3 264.3h0M356.7 268.1h0M398.8 259.7h0M379.5 297.7h0M351.8 280.2h0M356.9 261.4h0M398.4 267h0M387.6 259.3h0M363.7 250.6h0M361.7 267.8h0M379 269.8h0M349.4 267.5h0M400.3 265.2h0M402.1 256.2h0M364.3 287.6h0M368.5 279.6h0M379.1 290.6h0M389.5 270.5h0M356.1 288.4h0M380.6 271.3h0M372.7 246.2h0M367.1 263.5h0M374.6 299.9h0M348 274h0M366.8 258h0M354.8 257.7h0M369.7 264.4h0M395 263.8h0M391.6 281.6h0M363.6 288.8h0M372.7 287.4h0M397.4 274.2h0M350.4 259.9h0M402.4 264.4h0M342.7 271.6h0M372.3 280.8h0M403 258.7h0M404.9 260.4h0M372.2 271.1h0M373.3 295.8h0M351.8 246.3h0M347.4 271h0M357.9 290.8h0M344.5 273.9h0M361.5 287.8h0M405.2 260.1h0M376.6 291.9h0M397.6 256.5h0M356.7 251.2h0M399.9 268.3h0M347.4 275.5h0M379.7 245.8h0M384.9 274.1h0M393.9 256.9h0M368.7 293.6h0M362.3 259.7h0M399 272.1h0M370.8 247.3h0M387.5 255.7h0M400.2 269.1h0M372 293.9h0M355.3 250.8h0M368.9 270.9h0M382 252.9h0M389.7 284.5h0M373.4 255.5h0M377.3 270.5h0M371.4 293.3h0M358.7 282.5h0M380.6 280.8h0M379.6 298.2h0M360.3 265.2h0M384.1 283.7h0M369 265.7h0M401.3 282.3h0M351.2 272.1h0M375.9 295.5h0M393.9 285.4h0M371.5 253h0M375 281.6h0M372.1 301.5h0M350.4 279.6h0M370.9 299.8h0M378.6 270.3h0M392.7 262.6h0M399.7 284.9h0M359.6 282.3h0M376 267.1h0M381 275.3h0M351.3 276.5h0M382.3 269.4h0M363 270.7h0M371.8 273.1h0M371 288.5h0M375.5 272.3h0M351.7 275.4h0M386.9 254.9h0M375.1 250.4h0M371.2 276.1h0M371.1 293.8h0M352.1 273h0M351.7 275.4h0M397.5 266.2h0M351.3 257h0M374.6 250.1h0M375 293h0M361.4 246.9h0M377.7 253.2h0M400.8 271.7h0M352.8 276.3h0M372.7 283h0M384.2 291.4h0M381.1 267.9h0M366.8 253.8h0M376.3 247.8h0M362.6 273.8h0M363.9 288.9h0M349.1 274.9h0M349.7 275h0M400.3 268.9h0M367.4 268.1h0M356.4 277.5h0M375.5 253.5h0M380.3 291.9h0M383.1 297.9h0M371.6 263.7h0M379.3 296.2h0M383.2 261h0M383.5 253.1h0M392.5 277.2h0M385.1 261.7h0M363.8 249.3h0M369.1 265.4h0M369.3 296.7h0M374 296.6h0M377.1 269.1h0M373.4 273.7h0M374.7 266.6h0M353.6 262.5h0M372.9 289h0M369 270.4h0M390.8 290.4h0M389 266.8h0M391.3 275.9h0M369.3 263.8h0M401.6 260.3h0M356.2 257h0M391.3 253.1h0M371.3 287.4h0M368.3 291h0M361.9 247.4h0M362.3 283.3h0M382.2 265.8h0M373.4 260.2h0M373.7 294.9h0M364.4 276.8h0M394 258.4h0M364 261.4h0" class="pb"/><path d="M371.9 259.7h0M365.3 259.7h0M377 258.2h0M375.8 257.2h0M370.7 264.1h0M377.4 263.1h0M381 259.2h0M376.1 261.9h0M376.8 262.7h0M375.5 256.3h0M376.4 254h0M382 256.6h0M382 254.8h0M370 255.2h0M378.9 254.1h0M373 259.2h0M369.9 253.6h0M367.1 254.5h0M370.3 252.7h0M373.4 256.3h0M374.5 251.5h0M373.5 257.4h0M380.9 252.3h0M376 258.2h0M375.6 257.4h0M380 264h0M364.2 254.6h0M377.4 258.4h0M364.2 258.5h0M370.5 256.6h0M383.2 259.2h0M378.3 261.9h0M376 255.2h0M373.1 258.2h0M371.1 250h0M377 263.6h0M378.3 260.8h0M370.6 261.3h0M380.1 258.5h0M371.7 260.4h0M372.1 259h0M380.1 256.2h0M372.3 255.6h0M373.1 262.7h0M368.3 260.4h0M374.3 256.4h0M377.3 257h0M372.8 258.6h0M370.4 260.5h0M377 261.9h0M372.6 252.3h0M380.3 260.6h0M382.5 257.7h0M376.1 253.6h0M379.3 252.6h0M367.7 264h0M371.8 264.5h0M386.2 258.6h0M375.7 263.3h0M381.7 253.2h0M371.7 257.8h0M370 260.7h0M373.6 255.9h0M376.4 248.8h0M377 257.7h0M376.7 250.3h0M371.9 256.1h0M379.4 253.9h0M377.9 257.2h0M368.3 262.6h0M373.1 259h0M371.1 260.9h0M374.4 253.9h0M372 252.5h0M364.5 258.5h0M373.3 257.1h0M372.7 253.7h0M376.1 261h0M384.8 258.1h0M375.5 259.1h0M371.4 254.7h0M372.3 259.1h0M373.3 261h0M372.9 265.8h0M372.9 255.5h0M368.8 254.8h0M386.2 258.7h0M377.3 260.8h0M369 260.9h0M373.2 260.4h0" class="po"/><path d="M406.7 264.1h0M376.2 296.9h0M394.6 269.1h0M366.9 286.2h0M370.9 260.9h0M357 290.2h0M376 284.8h0M383.6 292.4h0M350.8 268.1h0M385.5 270.3h0M379.5 264.9h0M370.6 271h0M362.5 264.6h0M363.3 269.6h0M371.4 287.3h0M352.2 276.3h0M368.5 292.1h0M351.4 271h0M381.2 275.4h0M391 275.5h0M396.1 252.1h0M360.4 273.6h0M396.1 288.9h0M393.4 264.3h0M389 283h0M349.7 271.8h0M389 265h0M387.3 293.5h0M393 279.6h0M385 271.1h0M348.8 275.9h0M345.5 276h0M348.9 278.4h0M371.3 265h0M379.1 264.2h0M367.2 248.8h0M356.2 275.4h0M360.7 267.6h0M366.5 285.2h0M383.8 304.4h0M354.4 254.5h0M356.5 252.6h0M398.9 276.9h0M399 252.7h0M355.9 272.1h0M348.5 272.1h0M358.4 252.4h0M376.9 297.5h0M383.4 253.5h0M369.9 256.8h0M374.7 250.6h0M373.2 275.1h0M373.5 287.2h0M362.5 248.3h0M394.4 290.2h0M374 272.2h0M353.6 258.6h0M397.5 266.9h0M373.6 253.6h0M374.8 267h0M374.1 263.4h0M387.3 260h0M394.3 278.6h0M361.5 296.6h0M378.8 288h0M402.1 267.8h0M343.6 272h0M385.3 286h0M371.9 279.2h0M364.4 277.1h0M369.7 290.5h0M347.8 275.4h0M369.8 283.1h0M364.2 283.9h0M363 289.4h0M375.2 254.6h0M350.8 261.5h0M357.6 281.1h0M372.4 266.1h0M375.6 271.3h0M347.9 273.8h0M404.5 263.3h0M374.9 278.3h0M355.5 258.8h0M374.1 265.5h0M399.1 269.4h0M363.4 257.4h0M392.8 272.7h0M393.4 274.6h0M371.5 254h0M374 287.5h0M372.7 250.5h0M394.7 260.8h0M375.1 252.3h0M395.9 289.2h0" class="pb"/><path d="M374.7 251.8h0M380.2 258.3h0M371.8 263h0M372.4 259.7h0M376.4 261.5h0M370.5 254.2h0M374.1 265h0M371.5 261.7h0M371 262.8h0M381.8 264.6h0M373 257.6h0M375.6 253.5h0M384.4 260.6h0M375.9 254.5h0M371 257.9h0M378.8 259.2h0M372.9 258.2h0M372.2 258.3h0M382.8 262.1h0M362.8 242.6h0M376.4 258.4h0M378.7 264.7h0M372.3 257.6h0M367.8 261.7h0M367.9 255.1h0M372.9 264.2h0M374.4 255.2h0M376.1 256.8h0M371.5 263h0M373.6 255.6h0M373.7 257h0M382.5 256.9h0M375.6 256.6h0M364.2 260.2h0M372.1 264.1h0M373.4 256.4h0M375.6 263.7h0M372.6 259.1h0M373.5 256.3h0M374.9 260.1h0M373.2 260h0M376.3 255.7h0M379.4 265.4h0M370.9 257.7h0M369.7 257.2h0M372.2 260.7h0M378.6 252.7h0M379.3 256.2h0M381.1 257.3h0M374.1 259.9h0M376.4 259.6h0M371.6 266.7h0M377.7 254.3h0M381.5 258.8h0M373.3 257.1h0M371.9 253h0M375.9 258.6h0M364.2 259.6h0M374.6 258.3h0M379.5 260.4h0M369 258.4h0M377.6 254h0M376.3 259.8h0M375 253.5h0M374.6 256.6h0M374.1 259.5h0M385.7 257.4h0M376.1 260.7h0M376.5 259.2h0M381 266.2h0M377.6 263h0M381.3 258.5h0M380 257.7h0M370.6 262.6h0M370.9 253.3h0M375.1 255.3h0M375.5 260.7h0M377.3 255.5h0M374.2 251.8h0M373.2 254.5h0M373.2 255.4h0M376.9 252.1h0M380.3 263.8h0M374.7 260.6h0M372.1 260h0M379.8 253.2h0M373 259.4h0M376.6 260.2h0M370.5 255.4h0M377 262.8h0M376.4 261.9h0" class="po"/></g>
<g><path d="M76.6 340.8V409.2H142.6" class="ax"/><text x="75.3" y="354.9" class="t ty">20</text><text x="75.3" y="368.6" class="t ty">10</text><text x="75.3" y="382.3" class="t ty">0</text><text x="75.3" y="396" class="t ty">-10</text><text x="75.3" y="409.7" class="t ty">-20</text><text x="79.3" y="412.1" class="t">-20</text><text x="92.4" y="412.1" class="t">-10</text><text x="105.5" y="412.1" class="t">0</text><text x="118.6" y="412.1" class="t">10</text><text x="131.7" y="412.1" class="t">20</text><text x="109.6" y="416.2" class="ta">dim 1</text><text transform="translate(70.6 375.3) rotate(-90)" class="ta">dim 2</text><text x="148.1" y="376" class="t lt">label</text><circle cx="146" cy="378.2" r="0.65" fill="#2079c6"/><text x="148.9" y="379" class="le">0.0</text><circle cx="146" cy="380.8" r="0.65" fill="#ff7f0e"/><text x="148.9" y="381.6" class="le">1.0</text><path d="M106.2 400.7h0M111.2 400.1h0M105.8 394.5h0M83.8 353.4h0M101.9 399.3h0M105.3 396.2h0M112.3 399h0M114.6 397.6h0M130.9 390.6h0M132 391.9h0M111.2 387.5h0M120.6 390.3h0M123.8 386.6h0M95.4 356h0M113.6 402.2h0M103.9 354.2h0M98.5 349.6h0M82.7 356.2h0M122.3 388.6h0M80.5 349.6h0M135.4 390.1h0M83.1 354h0M101.7 397.4h0M122.5 386.4h0M106.1 348.2h0M110.3 389.1h0M90.3 348.7h0M106.4 352.1h0M116.6 397.6h0M110.8 388.7h0M93.2 356.1h0M106.1 400.2h0M97.8 359h0M95 392.7h0M118.5 394.3h0M134.1 384.8h0M125.9 396h0M94.1 401.5h0M88.2 358.6h0M100.5 351.8h0M116.7 386.7h0M90.3 347.6h0M120.2 389.3h0M100.9 350.1h0M128.2 388.1h0M117.5 387.7h0M109.1 400.4h0M86.6 352.4h0M124.5 386.2h0M105.5 391h0M119.2 394.2h0M90.7 355.8h0M88.5 351.1h0M134.7 386.9h0M104.2 354.5h0M94.2 358.5h0M104.3 346.1h0M101.2 387.6h0M107.2 348.6h0M113.9 392.1h0M118.3 392.4h0M104.3 355.9h0M132.4 390.5h0M85 353.1h0M91.7 352.4h0M128 389.4h0M96.5 400.8h0M97 399.8h0M137 390h0M103.7 403.4h0M134.7 386.9h0M103.2 357.8h0M118.2 392.5h0M88.2 351.6h0M113.8 387.7h0M107.4 348h0M94.7 402.7h0M93.6 393.7h0M96.7 358.8h0M136.6 388.3h0M112 388h0M119.9 386.8h0M104.4 350.4h0M108.9 348h0M123.9 388h0M108.9 348.1h0M84.6 351.5h0M121 398.1h0M82.3 352.5h0M107.6 400.7h0M129.9 387.7h0M130.8 384.8h0M99.3 394.2h0M95.5 402.4h0M92.4 395.7h0M82.1 355.6h0M95.2 397.3h0M131.6 385.1h0M90.1 352.2h0M104.8 389.2h0M95.2 395.7h0M108.1 391.2h0M110.2 393.7h0M115.3 400.6h0M126.7 394.5h0M136.5 384.5h0M102.4 404.6h0M132.5 384.8h0M132.6 386.7h0M99.6 389.9h0M130.1 389.6h0M94.3 354.4h0M125.8 387.2h0M101.9 394.2h0M94.6 350.4h0M96.3 399.1h0M94.4 356.4h0M115.5 393.3h0M125.3 392.8h0M103 354.4h0M109.6 400.8h0M94.4 399.7h0M94 358.8h0M96.2 346.3h0M86.2 354.1h0M98.1 390h0M96 391.5h0M110.7 399.2h0M100.3 396.2h0M93.6 345.5h0M99.2 389.5h0M100.6 391h0M86.7 354.9h0M100.9 356.3h0M116.6 399h0M130.5 391.9h0M98.2 401.1h0M105.5 353.2h0M85.1 356.2h0M104.2 392.3h0M83.8 349.8h0M87.8 354h0M102.7 393.2h0M127.9 387.6h0M99.5 400.8h0M120.6 386.1h0M92 397.4h0M94.2 397h0M121.4 387.1h0M111.1 385.7h0M122.2 392h0M106.4 354h0M107.5 403.8h0M104.8 396.3h0M94.1 395.4h0M136.6 390h0M114.6 398.6h0M99.8 393.2h0M114 398.1h0M122.2 393.8h0M94.1 394h0M94.6 395.9h0M91.3 355.8h0M103 388.2h0M92.9 358.8h0M87.7 358.3h0M101.2 348.5h0M96.1 398.8h0M103.7 352.6h0M123.7 395.8h0M122.4 388.5h0M135.9 386.2h0M129.3 385.7h0M105.1 400.4h0M100 349.5h0M104.8 398.8h0M109.2 392.4h0M111.8 390.9h0M117.5 392.7h0M95.2 355.3h0M101.4 397.4h0M102 388.2h0M99.6 396.8h0M97.8 358.1h0M107.8 388.6h0M86.5 358.1h0M91.8 346.2h0M114.7 399.1h0M115.9 389.1h0M97.6 349.5h0M113.7 398.2h0M105 397.8h0M115.9 398h0M122.9 397.7h0M126.3 393.1h0M114.2 399.2h0M98.2 394.3h0M94.7 401.3h0M121 387.6h0M106.1 398.5h0M82.2 352.5h0M107.4 354.5h0M106.3 347.8h0M98.4 357.3h0M93.5 356.1h0M103.1 402.9h0M132.5 389.9h0M102.8 348.5h0M100.4 346.5h0M90.6 352.8h0M94.3 355.5h0M86.8 352.6h0M123.5 388.2h0M81.1 349.3h0M125.8 392.7h0M88.7 357.3h0M93.3 355h0M97 353.3h0M87.4 345.7h0M96.5 348h0M116.1 387.3h0M119.8 391.4h0M96.8 398h0M116.1 394.3h0M111.3 397h0M85.6 351.5h0M117.6 396h0M98.6 353.5h0M100.1 389.7h0M96.4 346.7h0M113.3 400.1h0M119.6 391.6h0M100.9 359.1h0M95.7 396h0M104.6 392.5h0M112.5 394h0M107.9 394.7h0M94.7 395.7h0M81.3 350.2h0M91.2 352.3h0M111.9 393.7h0M129.3 391.1h0M111.1 391.8h0M89 349.8h0M106.7 347.5h0M127.7 394.3h0M89.6 357.4h0M122.8 393.6h0M99.7 356.4h0M123.4 392.7h0M84.6 350.7h0M100.5 396h0M107 355.2h0M111.1 400.8h0M106 386.8h0M100.6 392.6h0M91.7 345h0M109.8 385.3h0M109.1 401.5h0M112.7 388h0M91.2 357.8h0M98.5 392.3h0M87.6 355.9h0M103.2 356.3h0M113.9 388.7h0M89.2 348.2h0M126.2 394.2h0M92.8 395.6h0M94.8 356.8h0M85.1 350.3h0M99 389h0M101.9 356h0M129.2 384.8h0M107 401.8h0M123.5 389.2h0M97.2 396.7h0M100.2 392.9h0M108.2 353.9h0M137.5 386h0M115 393.4h0M88 352.7h0M108.9 350.1h0M104 402h0M117.2 392.9h0M116.3 397.9h0M132.9 385.9h0M90.7 357.7h0M99.2 359.9h0M85.9 355.6h0M96.5 398.2h0M104.6 400.1h0M107.8 400.1h0M106.6 388.8h0M124.1 390.7h0M106.7 356h0M95.2 358.6h0M124.3 388.6h0M116.7 386h0M130.5 389h0M100.7 394.5h0M80.7 353.7h0M107 352.6h0M102.9 355.7h0M98.3 348.1h0M122.4 393.4h0M136.7 387.7h0M89.5 355.6h0M101.3 395.7h0M81.1 348.7h0M131.3 393h0M93.3 352.5h0M88.2 357.4h0M99 349.6h0M98.1 355.2h0M105.9 405.3h0M80.7 350.9h0M101 391.2h0M116.9 386.5h0M104.5 352.6h0M93.4 346.5h0M113.5 398.9h0M89.3 352.1h0M98.7 345.7h0M89.4 354.6h0M100.4 404.8h0M123.9 385.8h0M97.4 392.8h0M84.8 350h0M93.5 399h0M86.4 356.8h0M131.3 385.4h0M123.6 396.9h0M105.6 346.4h0M90.4 353.6h0M108.4 387.4h0M108.3 397.7h0M123.9 393.9h0M102.6 352.1h0M111.9 387.8h0M94.2 355.8h0M128.4 386.6h0M118.9 391.4h0M108.1 351.1h0M119.3 397.9h0M115.2 389h0M103.4 354.8h0M117.1 393.1h0M100.3 395.2h0M108.3 349.1h0M100.7 402.4h0M99.9 349.4h0M87.1 346.8h0M110.9 402.1h0M103.4 404.6h0M103.4 405.4h0M87.2 357.6h0M101.5 352.1h0M124.5 396.8h0M111.1 385.5h0M83.9 353.4h0M94.3 393.9h0M104.7 393.4h0M103 353.2h0M94.7 359.1h0M96.7 391.8h0M94.6 352.9h0M90.3 352.4h0M120.9 395.7h0M92.4 348.4h0M135 388.9h0M98.7 393.4h0M82 351.9h0M93.4 349.3h0M107.1 395.7h0M98.1 403.4h0M108.2 346.9h0M114.8 401.5h0M113.9 400.2h0M122.9 391.8h0M101 387.8h0M92.8 400.1h0M102.5 355.3h0M84.8 350.1h0M100.7 398.4h0M120.1 397.9h0M124.7 394h0M128.7 384.8h0M98.9 398.9h0M108.7 352.8h0M109.8 393.7h0M135.3 387.5h0M121.2 388.8h0M91.1 350.8h0M113.6 390.5h0M106.5 404.7h0M100 347.3h0M108.5 351.8h0M128.2 392.1h0M113.2 388.2h0M104.2 355.2h0M108.4 348h0M107 400.4h0M108.4 394.5h0M109.9 399.8h0M105.5 357.2h0M96.2 395.2h0M115.3 396.9h0M125 396.5h0M112.2 394.3h0M95.5 345.2h0M104 391.8h0M134.2 391.7h0M97.7 397.8h0M85.3 353.1h0M103.8 387.5h0M100.9 353.6h0M94.6 399.7h0M122.1 396.2h0M105.1 388.7h0M131.5 390.9h0M122.7 394.2h0M95.7 401.6h0M93.4 352.6h0M103 388.5h0M101.1 392.6h0M110.7 398.6h0M119.1 391.6h0M94.7 357.8h0M114.1 391.6h0M108.2 350.6h0M87.1 348.3h0M123.7 396.1h0M95.2 403h0M95.3 356.3h0M98.7 393.9h0M98.5 389.8h0M104.2 401.3h0M85.9 357.6h0M115.3 393.5h0M82.2 354.9h0M100.1 402.2h0M112.8 388.1h0M97.4 397.6h0M100 393.1h0M115.8 391.3h0M123.6 386.7h0M90.6 356.3h0M129 394.4h0M109 403.6h0M111.3 396.9h0M97.5 346.3h0M105.3 394.5h0M123.5 394.3h0M99.5 398h0M92.6 346.3h0M118 391.2h0M103.1 398h0M121.9 393.5h0M116 400.2h0M97.2 396.1h0M108.4 397.1h0M90.7 354.4h0M93.1 354.6h0M135.7 391.1h0M103.9 405.3h0M98.5 355.9h0M81.6 354.1h0M136.2 388.2h0M108 347.2h0M113.7 388.3h0M92 350.1h0M133.9 389.8h0M126.4 390.3h0M92.4 347.1h0M84.5 350.6h0M95.5 349.7h0M109.7 400.1h0M115.9 399.1h0M106.8 395.2h0M98.5 392.1h0M110.7 403.8h0M100.5 346.3h0M112.7 394.6h0M107.3 353.8h0M102.6 402.3h0M110.7 393.5h0M116.2 397.5h0M111.7 391.9h0M98.6 356.3h0M113 390.6h0M88.9 353.7h0M89.2 346.1h0M85.9 354h0M92.3 358.3h0M82.3 351.2h0M95.1 350.1h0M103.9 396.4h0M96.6 399.5h0M85.8 357.5h0M101.2 349.2h0M136.1 385.5h0M93 349.4h0M111.9 398.4h0M106.9 351.9h0M104.9 356.7h0M116.7 386.6h0M116.7 399.2h0M102.6 347.5h0M119.7 398.8h0M106.6 354.7h0M94.2 400.9h0M104.7 395h0M118.6 397.2h0M128.1 394.1h0M104.5 355.3h0M97.6 348h0M101.5 390.1h0M130.4 386.8h0M100.9 402.6h0M99.4 397.7h0M106.2 355h0M100.5 352.8h0M110.2 389.2h0M96.8 354.4h0M126.3 389.7h0M93.6 395.2h0M101.6 392.7h0M103.8 390.9h0M129.8 387.9h0M84.6 351.2h0M99.9 397.5h0M123.6 389h0" class="pb"/><path d="M110.9 395.8h0M97.6 347.1h0M107.1 404.2h0M86 350.5h0M128.6 391h0M92.3 347.7h0M93.9 346.7h0M99.4 348.5h0M92.5 350h0M94.9 344.3h0M94.1 347.6h0M124.5 397.5h0M96.5 350h0M93.9 345.8h0M125.3 396.8h0M90.8 348.6h0M126.8 389.5h0M93.1 348.8h0M92.5 346.8h0M96.9 347.9h0M89.2 345.9h0M119.2 391.1h0M95 349.5h0M90.9 347.6h0M85.2 347.3h0M92.8 345.3h0M93.2 348.1h0M94.3 351h0M117 396h0M104.6 403.4h0M98.4 348.2h0M90.9 347h0M121.3 393.7h0M97.9 344.9h0M98.7 352.4h0M91.6 352.5h0M99.4 348.1h0M94.3 349.6h0M97.6 348.8h0M94.7 347.2h0" class="po"/><path d="M115.5 390h0M106.7 386h0M96 392.1h0M102.7 387.2h0M109.3 396.7h0M98.7 347.5h0M115.7 400.5h0M106.8 404.2h0M94.9 396.2h0M82.3 351.2h0M108.4 352.6h0M117.8 393.5h0M114.5 392.8h0M87.2 355.1h0M93.4 393.8h0M108.4 402h0M125.1 394.1h0M110.5 401.6h0M97.3 348.8h0M103.3 395h0M114.6 400.9h0M82.9 348.1h0M113.8 394.4h0M123.7 392.5h0M102.2 401.6h0M106.9 395.1h0M112.2 403.3h0M130 389.1h0M96.2 397.8h0M100.3 401.2h0M89.6 353.3h0M126.6 385.4h0M129.9 386.2h0M103.7 351.6h0M119.9 395.9h0M120.4 399.2h0M109.7 388h0M88 347.2h0M114.8 401.2h0M83.4 353.7h0M127.4 387.6h0M106.4 403.8h0M101.1 399.5h0M100.2 349.9h0M85.9 346h0M84.5 350.9h0M92.2 353h0M99.4 397.7h0M132.5 392.3h0M98.1 403.1h0M101.4 345.4h0M92.4 399h0M106.1 390.1h0M127.9 388.4h0M109.1 393.7h0M124.7 393.1h0M96.3 391.7h0M92.7 348.5h0M121 390.6h0M104.8 395.3h0M93.8 353.3h0M89.6 348.6h0M97.9 396.1h0M92.5 352.1h0M128.1 385.9h0M105.9 401.9h0M120.2 394.6h0M103.6 391.2h0M86.1 350.1h0M90.1 351.8h0M108.3 399.3h0M95.6 359.5h0M120.3 398.4h0" class="pb"/><path d="M105.5 392.7h0M101.3 392.6h0M127 386.8h0M92.2 350.8h0M123.7 386.7h0M106.9 390.2h0M114.6 396.8h0M119.4 391.4h0M126.6 394.1h0M92.3 350.2h0M127 383.5h0M91.8 350.3h0M128.1 389.5h0M91.8 350.2h0M95.5 347.9h0M115.3 397.3h0M103.8 389.3h0M100.4 347.6h0M98.2 346.7h0M123.7 396.8h0M91.2 347.8h0M110.4 395.1h0M95.4 346.6h0M120.9 386.2h0M91.9 347.4h0M138.6 386.8h0M99.6 352h0M93.4 349h0M89.2 349.7h0M91.5 344h0M93.2 343.9h0M123.8 394.5h0M94.1 352.4h0M115.7 399.9h0M96.4 349.9h0M92.1 347.3h0M113.3 388.7h0M94.2 349.7h0M94.7 348.1h0M94.7 353.4h0M111.5 392.7h0" class="po"/></g>
<g><path d="M164.6 340.8V409.2H230.6" class="ax"/><text x="163.3" y="350.8" class="t ty">20</text><text x="163.3" y="363.4" class="t ty">10</text><text x="163.3" y="376" class="t ty">0</text><text x="163.3" y="388.6" class="t ty">-10</text><text x="163.3" y="401.2" class="t ty">-20</text><text x="172.4" y="412.1" class="t">-30</text><text x="180.8" y="412.1" class="t">-20</text><text x="189.3" y="412.1" class="t">-10</text><text x="197.8" y="412.1" class="t">0</text><text x="206.2" y="412.1" class="t">10</text><text x="214.7" y="412.1" class="t">20</text><text x="223.1" y="412.1" class="t">30</text><text x="197.6" y="416.2" class="ta">dim 1</text><text transform="translate(158.6 375.3) rotate(-90)" class="ta">dim 2</text><text x="236.1" y="376" class="t lt">label</text><circle cx="234" cy="378.2" r="0.65" fill="#2079c6"/><text x="236.9" y="379" class="le">0.0</text><circle cx="234" cy="380.8" r="0.65" fill="#ff7f0e"/><text x="236.9" y="381.6" class="le">1.0</text><path d="M186.3 383.6h0M205.9 385.2h0M194.9 396.7h0M196.6 377.1h0M193.7 348h0M190.7 400.4h0M191.6 396h0M190.8 390.4h0M194.2 396.2h0M170.9 374.8h0M187.1 350.3h0M186.7 384.3h0M218.2 365.1h0M178.7 383.4h0M213 385.6h0M212.5 382h0M197 362.8h0M182.3 386.1h0M188.4 390.6h0M183 380.1h0M205.3 381.3h0M212.4 368.7h0M193 383.8h0M198.7 354.2h0M187.5 401.4h0M176.2 374.6h0M201.5 390.7h0M186.5 349h0M195.5 386.1h0M194.9 389.9h0M193.2 387.3h0M194.9 356.9h0M184.1 389.5h0M192 360.7h0M213.1 362.9h0M182.6 362.2h0M190.5 377.7h0M199.2 357.8h0M188.8 352h0M177 352.3h0M220.8 368.1h0M200.3 399.7h0M195.8 361.8h0M199 405.7h0M190.2 348.5h0M196.3 364.7h0M189.1 385.9h0M214.3 373.4h0M185.6 352.5h0M192.3 405.5h0M183.6 351.8h0M207.8 356.8h0M196.6 353.2h0M206.1 396.6h0M194.9 391h0M196.3 360.6h0M180.7 385.1h0M179.3 363.7h0M187.2 353.1h0M214.4 370.1h0M215.5 378.4h0M187.6 385.3h0M196.3 379.2h0M203.9 375.4h0M215 370.4h0M182.8 392.1h0M200.4 349.5h0M219.2 365.4h0M188 386h0M174.8 365.9h0M172.5 375.6h0M201.6 399.2h0M206 362.6h0M181.3 364.9h0M206.2 390.4h0M200.4 370.9h0M199.3 381.3h0M197.9 354.5h0M192.3 354.3h0M190.7 376.3h0M189.8 356.6h0M197.2 353.2h0M199.3 355.8h0M190.7 360.1h0M177.8 367.3h0M180.4 369.4h0M207.6 397.9h0M193.4 380.3h0M199.3 397h0M184.7 389.4h0M197.2 400.2h0M199.1 390.4h0M195.7 390h0M183.7 350.3h0M207.7 363.3h0M204.6 394.2h0M198.1 356.1h0M204.8 357.6h0M177.3 383.3h0M188 348.9h0M207.9 365.8h0M200.9 378.3h0M183.3 386.9h0M204.7 383.9h0M188.3 393.1h0M183.4 376.6h0M197.8 404.5h0M186 354.2h0M208.2 360.9h0M192 397.8h0M211.4 373.2h0M203.6 353.3h0M194.4 394.4h0M198.5 368h0M202.5 373h0M197.7 359.4h0M213.5 382.2h0M183.3 356.9h0M223.1 364.8h0M208.1 378.2h0M176.7 370.3h0M202.3 394.7h0M213.9 382.3h0M188.5 361.3h0M187.9 382.6h0M201.2 354.8h0M192.1 350.3h0M209.1 380h0M181.8 387h0M193.2 350.7h0M196.4 356.2h0M204.7 403.2h0M171.4 366.8h0M213.5 369.2h0M193.6 396.2h0M171.2 371.6h0M217.2 357.8h0M205.7 387.2h0M188.2 358.8h0M199.7 383.8h0M182.4 388.9h0M185.6 360.4h0M214.5 362.4h0M213.2 356.1h0M188 391.7h0M214.8 369.6h0M201.8 404.8h0M199.6 359.5h0M198 367.3h0M199.6 370.5h0M204.9 360.5h0M179.2 381.7h0M205.8 373.2h0M198.3 390.7h0M207 398.6h0M185.2 364.4h0M185 348.6h0M186.9 372.6h0M199.4 361.5h0M179.9 361.2h0M193 396.4h0M195.2 354.2h0M200.5 348.1h0M201.9 379.8h0M191.9 350.3h0M212.1 391.3h0M214.4 377.3h0M197.1 394.7h0M219.4 366.1h0M196.4 354.4h0M185.3 378.9h0M205.2 402h0M205.3 383.4h0M192.9 353.1h0M202.5 358.6h0M199 346h0M201.5 369.7h0M173.8 369.9h0M176 367.4h0M204.2 346.3h0M192.8 354.2h0M196.9 352.1h0M204 394h0M220.2 370.7h0M201.5 390.9h0M194.7 387.9h0M210.7 393h0M175.3 385.6h0M181.8 381h0M212 378.3h0M194 399.9h0M203.1 378.7h0M197.4 363.3h0M183.6 368.2h0M215.1 359.7h0M198.8 346h0M190.4 375.5h0M179 382.8h0M200.6 363.4h0M200.8 377h0M183.6 353.9h0M207 404.3h0M199.3 355.8h0M210.7 372.7h0M202.7 356.2h0M189.3 346.8h0M183.3 355.7h0M199.7 376.7h0M184.5 387.9h0M206.2 360.9h0M192.2 378.9h0M202.3 376.4h0M189.4 352.7h0M209.2 397.5h0M188.1 377.3h0M203.9 388.8h0M189.5 365.2h0M206.4 404h0M200.9 371h0M194.5 400.1h0M207.4 368.4h0M200.4 375.4h0M192.3 352.3h0M194.9 370.3h0M183 364.9h0M172 372.9h0M208 353.5h0M204.3 347.3h0M206.3 361.9h0M211.1 381.5h0M188.1 349.1h0M201.1 371.4h0M198.5 397.7h0M191.8 350.4h0M200.8 392.7h0M187.7 355.9h0M194.2 345.8h0M197.5 345.3h0M183.5 378.2h0M186.7 383.8h0M178.9 387.8h0M204.5 389.4h0M185.1 359.5h0M179.2 384.8h0M191.2 398.4h0M219.4 363h0M189.1 367.8h0M186.2 368.3h0M204.1 385h0M196.4 401.8h0M217.1 361.5h0M185.7 362.8h0M208 384.1h0M195.2 384.5h0M177 371.2h0M190.5 364.6h0M204 400.9h0M173.3 375.6h0M178.9 391h0M188 369.7h0M216.9 367.2h0M195.5 369.1h0M183 351.6h0M191.6 394.3h0M195.5 401.1h0M205.9 365.3h0M213.2 371.2h0M184.2 366.8h0M206.4 360.2h0M197.2 362.1h0M191.9 367.9h0M205.3 385.8h0M194.8 390.1h0M210.3 394h0M198 398.2h0M190.8 347.8h0M186.5 356.6h0M208.7 372h0M193.8 401.3h0M199.8 398.7h0M209 357.7h0M174.3 372.8h0M198.5 380.9h0M222.6 367.7h0M190.3 388.6h0M174.3 388h0M221.9 362.6h0M197.8 356.4h0M194 378.7h0M219.6 361.7h0M225.1 367.5h0M177.1 372h0M183.6 382.4h0M191.9 360.4h0M197.1 371.2h0M195.5 394.8h0M177.4 385.8h0M194 349.1h0M213.9 365h0M203.5 397.6h0M197.6 358.3h0M172.9 372.1h0M210.1 384.3h0M197 404h0M212.6 376.4h0M186 360h0M195.9 354.2h0M196.8 360.6h0M211.9 390.6h0M212 376h0M212.4 370.7h0M204.5 403.3h0M210.7 392.3h0M200.7 403.2h0M197.1 400h0M178.6 377h0M185.3 354.7h0M206.6 362.9h0M207.2 394.7h0M216.9 370.6h0M204.3 350.4h0M184.6 389.3h0M179.9 364.9h0M191.5 355.9h0M185.6 386.2h0M210.5 401h0M196.6 353.9h0M192.6 400h0M196.4 375.5h0M187.6 361.5h0M203.4 396.8h0M209.3 376.1h0M178.7 369.9h0M192.7 381.6h0M193.3 359.3h0M187.2 342.5h0M198.9 348.4h0M180 360.2h0M188.7 359.1h0M191.9 373.5h0M198.6 353.9h0M179.6 389.5h0M205.2 385.8h0M190.8 355.5h0M210 367.2h0M207.4 399.2h0M190.8 390h0M198.9 362h0M181.4 375.9h0M196.4 352.2h0M210.4 387.3h0M185.9 372.6h0M175.3 374.9h0M182.9 363.5h0M182.1 350.3h0M179.5 386.2h0M207.6 366h0M215.9 372.9h0M198.2 397.5h0M202.4 355.9h0M199.4 395.5h0M188.4 356h0M189.1 382.9h0M197.9 398.3h0M183.7 382.8h0M203.1 365.7h0M202.2 387.6h0M184.8 383h0M198.2 347.1h0M185.4 355.8h0M184.3 386.9h0M187.2 368.3h0M201.5 377.1h0M195.9 388.6h0M193.4 398.9h0M176.3 372.2h0M202.7 353h0M205.8 354.8h0M200.4 386.2h0M209.4 400.8h0M194.2 397.3h0M221.1 370.6h0M184.6 354.9h0M194 369.8h0M208.6 361.4h0M191.4 362h0M188.3 386.3h0M201.2 370.9h0M210.1 364.5h0M181.6 351.4h0M201.4 403.8h0M221 365.7h0M206.9 397.1h0M198.7 373.1h0M212.8 356.9h0M183.5 382h0M189.3 351.5h0M181.1 368.8h0M210.9 366.8h0M188.5 389.7h0M214.9 378.4h0M196.3 404.3h0M183.9 354.2h0M182.4 359.4h0M202.8 352.9h0M194.9 349.5h0M212 358.9h0M197.8 393.9h0M214.3 373.2h0M202.1 396.5h0M218.2 365.6h0M184.2 386.1h0M195.1 360.3h0M204.7 385.6h0M178.1 382.1h0M201.5 357.6h0M189.9 393.1h0M195.9 365.5h0M203.4 371.4h0M185.6 354.6h0M197 404h0M182.4 387.4h0M200.5 395.8h0M189.2 357.3h0M222.2 365.6h0M200.3 357.7h0M191.7 354.3h0M207.7 360.6h0M183.7 369.5h0M183.3 388.2h0M215.4 357.4h0M205 396.4h0M207.2 358.8h0M190.3 353h0M177.1 366.3h0M185.5 353h0M200.8 392h0M185.9 360.7h0M201.8 347.3h0M212.9 381.2h0M182.6 353.1h0M182.3 364.7h0M182.6 358.5h0M204.4 397.1h0M187 363.8h0M190.1 379.2h0M191.6 358.1h0M206.6 381.9h0M206 371.9h0M181.8 384.8h0M200.6 379.3h0M181.9 390.4h0M186 386.9h0M196.2 398.5h0M215 367.3h0M197 375.2h0M186.7 385.5h0M180.4 381.4h0M182.2 383h0M191.3 379.4h0M201.2 395.6h0M208.1 377.5h0M198.2 401.6h0M192 350.3h0M189.8 356.6h0M193.7 360.8h0M182.6 383.2h0M204.3 363.8h0M185.1 384.5h0M184.1 382h0M199 403.5h0M177.9 380.5h0M195 398.3h0M209.2 396.6h0M204 391.8h0M181.7 390.3h0M200.6 398.6h0M201.6 381.9h0M208.4 356.1h0M203.7 354.5h0M186.6 351.4h0M202.7 391.1h0M204.3 396.7h0M200.7 396.1h0M205.8 362.4h0M181.1 385.8h0M181.2 378.1h0M181 360.7h0M185.8 355.3h0M185.2 351.2h0M203 379.6h0M184.8 371.3h0M197.7 350.3h0M210.7 368.4h0M205.4 399.1h0M188.9 388.1h0M188.1 369h0M200.8 396.8h0M175.8 383.2h0M170.6 373h0M178.7 389.3h0M201.1 356.1h0" class="pb"/><path d="M218 367.3h0M217.4 362.3h0M201.7 378.9h0M225.6 369.2h0M221.2 367.4h0M208.7 375.4h0M221.3 366h0M196.8 381.9h0M210.9 379.3h0M202.5 373h0M221 364.3h0M220 363.4h0M205.5 374.9h0M227.8 364.3h0M219.4 368.2h0M218.3 373.6h0M224.8 363.2h0M203.2 373.3h0M219.7 364.6h0M221.2 369.9h0M223.7 365.7h0M225.8 367.9h0M200.3 377.7h0M220 368.6h0M219.5 369.2h0M217.5 364.7h0M224.4 367.9h0M200 367.8h0M222.3 365h0" class="po"/><path d="M196.2 349.8h0M182.8 375.8h0M199.3 398.3h0M192.7 388.7h0M184.4 389.7h0M187.2 378.7h0M202.1 380.2h0M181.4 354.9h0M185.6 356.1h0M186.2 384.2h0M193.7 390.4h0M202.6 371.1h0M181.2 354.4h0M203.4 375.5h0M197.2 401h0M183.2 357.4h0M198.4 398.2h0M194.2 407.8h0M184.1 371.1h0M219.8 364.4h0M183.4 379.8h0M185.4 386h0M218.2 375.3h0M207.5 382.5h0M190.9 347.9h0M195.7 350h0M190.6 396h0M205.8 360.6h0M190.5 391.2h0M202.1 368.3h0M184.9 351.9h0M208.8 355.2h0M209.3 403.3h0M189.3 365.1h0M200 375.9h0M210 378.3h0M190.1 360.1h0M201.8 393.4h0M210.6 370.8h0M184 382.6h0M187.9 389.7h0M200 376h0M203.9 400.4h0M199.8 376.3h0M192.9 363.2h0M191.2 393.9h0M200.1 348.2h0M197.5 356.4h0M198.8 401.6h0M196.6 367.8h0M220.4 370.4h0M208.8 357.1h0M209 382h0M196.4 351.2h0M221.2 363.9h0M205.2 393.3h0M214.3 379.3h0M195.1 374.7h0M196 394h0M200.3 394.9h0M192.3 351.2h0M212.4 384.8h0M190.3 353.5h0M201.8 386.9h0M184.1 373.2h0M203.2 368.2h0M208.9 361.5h0M198.4 395.7h0M199 395.7h0" class="pb"/><path d="M181.9 350.4h0M223.6 367.5h0M204.2 380.2h0M202.6 370.3h0M220.1 369.4h0M223 369.2h0M188.5 344.6h0M219 364.1h0M176.9 382.7h0M221.3 363.2h0M211.1 378.3h0M225.4 363h0M224.5 365.5h0M203.4 397.6h0M210.5 367.6h0M219.1 361.2h0M223.3 364.5h0M203.3 372.7h0M199.3 375.8h0M227.9 364.6h0M226.4 365.2h0M209.1 377.1h0M220.9 369.3h0M191.8 391h0M226 368.5h0M226.1 369.6h0M202.2 371.6h0M226 366h0M224.3 367.9h0M211.3 375.3h0" class="po"/></g>
<g><path d="M254.2 340.8V409.2H320.2" class="ax"/><text x="252.9" y="344" class="t ty">40</text><text x="252.9" y="352.7" class="t ty">30</text><text x="252.9" y="361.4" class="t ty">20</text><text x="252.9" y="370.1" class="t ty">10</text><text x="252.9" y="378.8" class="t ty">0</text><text x="252.9" y="387.5" class="t ty">-10</text><text x="252.9" y="396.2" class="t ty">-20</text><text x="252.9" y="404.9" class="t ty">-30</text><text x="257.9" y="412.1" class="t">-40</text><text x="265.5" y="412.1" class="t">-30</text><text x="273.1" y="412.1" class="t">-20</text><text x="280.7" y="412.1" class="t">-10</text><text x="288.3" y="412.1" class="t">0</text><text x="295.9" y="412.1" class="t">10</text><text x="303.5" y="412.1" class="t">20</text><text x="311.1" y="412.1" class="t">30</text><text x="318.7" y="412.1" class="t">40</text><text x="287.2" y="416.2" class="ta">dim 1</text><text transform="translate(248.2 375.3) rotate(-90)" class="ta">dim 2</text><text x="325.7" y="376" class="t lt">label</text><circle cx="323.6" cy="378.2" r="0.65" fill="#2079c6"/><text x="326.5" y="379" class="le">0.0</text><circle cx="323.6" cy="380.8" r="0.65" fill="#ff7f0e"/><text x="326.5" y="381.6" class="le">1.0</text><path d="M291.8 368h0M301.3 393.3h0M287.2 356.1h0M273.7 375.3h0M308.3 399.1h0M284.3 374.5h0M264.3 388h0M274 375.1h0M297.9 380h0M302.7 382.5h0M278.7 382.4h0M307.7 385.8h0M283.8 391.9h0M289.1 374.5h0M314 389h0M274.8 367.3h0M282.7 387.7h0M291.2 350h0M306.5 393.1h0M279.9 386h0M280.9 372.9h0M304.7 397h0M297.6 367.5h0M304.3 389.5h0M293.3 385.9h0M277.2 359.3h0M308 400.7h0M310.8 373.6h0M293.7 389.4h0M269 375.4h0M305.5 384h0M290.8 345.3h0M292.3 365.7h0M312 370.7h0M272.1 376.8h0M268.6 378.6h0M288.8 392.5h0M286.8 371.5h0M302.4 368.9h0M285.3 369h0M281.2 351.9h0M287.1 374.4h0M271.5 367h0M274.8 364.4h0M280.1 367.7h0M264.6 385.8h0M267.4 377.3h0M290 392h0M288.5 382.3h0M275.9 362.6h0M278.7 390h0M289.4 367.7h0M308.1 390.8h0M278 354h0M265.4 382.6h0M315.7 386.1h0M290.4 388.2h0M312.7 388.2h0M291.2 384h0M295 362.1h0M310.1 397.8h0M290.7 399.8h0M288.9 386.1h0M262.2 381h0M307.3 368.2h0M301.4 371h0M289.6 348.1h0M291 377.8h0M289.8 396.8h0M284.2 360.1h0M270.6 381.1h0M294.8 355.5h0M273.3 366.6h0M278.1 382.4h0M288.2 364.3h0M296.9 395.2h0M291 382.8h0M307.3 390.7h0M278.2 372.2h0M299.8 373.6h0M276.5 364.3h0M276.6 362.7h0M285.3 383.8h0M306.5 379.1h0M281 389.6h0M278.9 392.7h0M291.9 368.1h0M282.7 395.2h0M295 370h0M300.6 370.4h0M306.7 391.5h0M270.1 379h0M272.4 376.2h0M307.3 389.1h0M291.4 389.3h0M304.8 381.1h0M275.5 383.9h0M292 381.2h0M275.6 361.5h0M301.6 384.9h0M290.9 345.3h0M311.8 385.6h0M274.6 380.7h0M274.6 358.2h0M277 391.5h0M288.1 373.9h0M272.4 360h0M289.3 356.2h0M298.2 379.7h0M296.3 364.7h0M306.2 367.8h0M277.3 369h0M300.7 371.4h0M304.3 370.5h0M289 367.2h0M295.7 377.6h0M311.8 378.5h0M281.5 360.8h0M292.3 360.6h0M292.4 378.8h0M298.2 393.9h0M285.2 368.8h0M307.6 391.5h0M281.9 373.8h0M277.7 373.7h0M282.1 359.6h0M299.4 362.5h0M275 368.8h0M291.4 370.6h0M288.8 382.7h0M273.6 382.5h0M281.8 369.9h0M293.2 390.5h0M302.1 387.7h0M284.7 391.2h0M279.1 382.9h0M291.8 369.8h0M292.6 388.1h0M289.5 388.2h0M286.6 364.5h0M274.6 373.8h0M295.9 370.9h0M259.6 375.8h0M305.4 372h0M280.6 389.1h0M303.1 376.4h0M282.4 376.4h0M287.9 373.1h0M277 365.3h0M313.7 383.8h0M279.4 395.3h0M262.9 382.4h0M313.2 392.6h0M275 380.3h0M286.6 352.1h0M278.2 391.3h0M296.4 374h0M306.1 367.4h0M302.2 368.7h0M315.8 380.7h0M300.4 396.6h0M278.3 355.9h0M274.7 375h0M272.4 361.6h0M286 388.4h0M269.1 363.4h0M264.1 383.8h0M276.1 398h0M263.1 380.5h0M302.4 393.2h0M275.9 371.6h0M283.4 356.2h0M277.2 382.4h0M294.6 361.5h0M269.9 378.9h0M261.8 371.7h0M274.3 372.8h0M293.1 376h0M309.8 385.3h0M293.2 377.7h0M294.9 361.5h0M305.5 394.8h0M270.4 382.5h0M297.6 372.1h0M296 389.3h0M261.4 373.8h0M281.7 378.8h0M307.3 381.8h0M274.3 367.2h0M269.2 381h0M291.4 357h0M302.9 399.9h0M293.6 380.6h0M304 369.7h0M291.3 381.6h0M309.1 391h0M293.7 350.8h0M304.1 386h0M306.1 367.5h0M306.4 388.1h0M311 387.3h0M299.9 395.2h0M309 385.7h0M280.9 353.8h0M284.5 371.4h0M300.5 391.6h0M285.7 400.4h0M308.1 390.8h0M272.9 384.5h0M297.5 395.1h0M299.7 384.3h0M299.5 366.3h0M290.8 345.7h0M276.4 393.1h0M304.8 367.9h0M288.9 350h0M312.1 392.7h0M267.3 385.2h0M279.3 370.7h0M298.5 393.7h0M282.7 384.8h0M285.9 368.7h0M307.9 384.1h0M293.8 383h0M308.8 388.1h0M297.5 379.3h0M269.9 383.4h0M271.1 383.9h0M279 391.3h0M273.2 358.5h0M275.7 370.8h0M275.1 377.8h0M288.9 396.6h0M294.1 375.4h0M303 375.3h0M285.1 351.8h0M302.6 363.5h0M311.5 381.8h0M306.9 384.3h0M280.7 376h0M314.5 386.1h0M316 377.2h0M289.9 348h0M312.9 388.3h0M297.1 355h0M282.9 361h0M288.1 398.9h0M282.7 393.6h0M308.1 399.3h0M303.8 387.8h0M268.9 376.2h0M305.2 384.2h0M293.8 397h0M312.3 388.5h0M287.3 367.1h0M278.8 357.4h0M276.1 378.3h0M281.7 387.9h0M312 376.5h0M304.1 390.9h0M272.4 392.9h0M271.6 367.4h0M272.4 385.4h0M286.1 379.4h0M268 377.1h0M273 376.9h0M290 375.6h0M280.6 362.7h0M297.5 389.7h0M312.4 373.3h0M299 363.2h0M297.2 392h0M313.4 383.3h0M300.8 364.3h0M265.6 370.4h0M281 361.1h0M289.8 372h0M305.3 386.3h0M294.7 394h0M292.5 372.7h0M281.6 397.6h0M279.7 394.1h0M296.5 358.5h0M277.9 358.1h0M272.5 362.8h0M288.9 382.5h0M281.8 388.4h0M290.2 392.3h0M280 380.4h0M277.6 385h0M288.2 370.8h0M294 371.4h0M280 392.7h0M298.5 391.6h0M292.3 392.1h0M295 389.1h0M281.6 382.4h0M291.2 374.5h0M279.1 372.1h0M262.8 381.2h0M284.3 358.4h0M284.8 384.7h0M305.5 385.2h0M276.6 357h0M306.2 378.3h0M268.8 391.1h0M284.6 366.2h0M285 370.3h0M275.6 373.7h0M307.1 390.5h0M302 362h0M266.9 388.4h0M294.5 381.3h0M298.7 396.4h0M290.2 382.7h0M285.6 385h0M278.6 379.6h0M272.8 388.5h0M269.6 391.5h0M299.3 393.3h0M291.8 387.3h0M267.8 386.7h0M293.6 390.1h0M280.6 383h0M278.7 387.9h0M291.3 387.4h0M291 365.2h0M300.9 396.5h0M271.5 396.2h0M297.8 374.1h0M278.1 380.2h0M300.9 383h0M284.5 366.1h0M299.4 388.9h0M293.4 390h0M277.4 367.5h0M311.5 382.5h0M305.5 396.6h0M290 388.1h0M292.9 374.3h0M269.5 376.5h0M264.1 369.4h0M274 382.2h0M308 379.3h0M284.9 369.4h0M288.6 368.4h0M287.2 390.4h0M310.4 388.4h0M303.7 397h0M281.2 373.9h0M280.7 380.8h0M281.1 377.5h0M282.2 378.9h0M298.4 356.6h0M288 379.5h0M284.7 388.4h0M288 397.5h0M267.3 383.1h0M265.4 382.8h0M294.3 375.5h0M313.7 385.3h0M293 372.2h0M312.5 386.7h0M267.5 388.4h0M306.1 385.4h0M260.3 380.5h0M282 351.4h0M288.7 394.4h0M303.7 395.1h0M304.4 378.3h0M291.8 358.2h0M280.7 367.2h0M270.5 376h0M275.2 386.1h0M293.1 372h0M291.8 346.8h0M306.8 386.9h0M291.1 373.3h0M285 381.9h0M265.5 367.8h0M307.2 399.9h0M286.1 378.1h0M304 382h0M299.1 379.7h0M288.3 359.7h0M309.7 383.8h0M276.2 392.7h0M298.4 374h0M297 398.9h0M277.9 356.4h0M278.6 389.1h0M276.9 376.9h0M292.8 357.9h0M263.7 379.9h0M288 385.2h0M275.4 371h0M287.8 375.6h0M278.7 392.1h0M273.6 390.7h0M315.4 390.2h0M280.8 380.9h0M286.2 393.5h0M283.1 392.7h0M279.6 386.5h0M281.1 368h0M278.1 388.1h0M283.7 370.8h0M284.1 402.3h0M276.6 361.3h0M275.5 359.9h0M306.1 374.9h0M284.8 389.1h0M297.8 400.2h0M315.4 378.7h0M298.7 371.1h0M311.2 389.1h0M313.7 391.5h0M278.7 401.2h0M278.1 384.8h0M288.8 382.5h0M295.5 400.3h0M283.8 385h0M300.9 384.3h0M287.7 373.4h0M280.6 358.7h0M276.8 363.6h0M272.4 362h0M292.4 378.8h0M297.1 362.1h0M289.7 381.6h0M285.1 385h0M306.2 386.9h0M295.3 381.6h0M264.8 376.1h0M269.4 378h0M286.2 359.6h0M286.3 378.7h0M300.6 381.5h0M295.1 390.1h0M266.2 378.3h0M272.9 386.1h0M291.7 384.2h0M274.9 369.8h0M303.2 371.5h0M309.2 369.4h0M282.3 382.7h0M301.9 398.2h0M278.2 353.6h0M290.7 396.4h0M287.1 358h0M313.9 379.7h0M276.9 358.6h0M288 387.9h0M290.7 372.7h0M290.8 393.9h0M278.2 397h0M311.2 369.3h0M297.4 386.6h0M296.4 361.4h0M270.1 392h0M307.9 400.5h0M286.6 389.7h0M279.1 364.7h0M264.6 383.1h0M304.2 398.5h0M283.8 399.9h0M308.6 380.9h0M289.4 383.9h0M315.9 387.6h0M300.5 385.3h0M284 368.1h0M289.8 368.3h0M272.5 383.8h0M280.3 377.2h0M281.8 400.8h0M298.3 371.6h0M295.2 398.8h0M317.6 384.2h0M286.7 380.6h0M276.3 370.5h0M272.8 360.5h0M282.6 359.4h0M265.9 378.7h0M309.7 383.2h0M281.9 374.3h0M308.5 384.4h0M308.7 393.1h0M290 365h0M297.7 377.7h0M262.2 373.6h0M292.4 377.1h0M280.3 390.3h0" class="pb"/><path d="M282.6 389.5h0M288 377.5h0M285.3 366.6h0M281 380.5h0M283.8 387.8h0M290 378.4h0M282 376.3h0M283.5 381.5h0M285.9 361h0M285.8 378.1h0M285.4 360.8h0M285.7 376h0M285.3 373h0M283.3 373.6h0M284.4 377.7h0M285.8 359.7h0M283.8 383.4h0M282.5 373.2h0M282.2 370.2h0M286.2 385.7h0M284.9 361.2h0M285.5 357.7h0M286.8 363.3h0M282.8 368.6h0M286.7 375h0M280 370.7h0M285.7 364.7h0M283 383.1h0M277 380.6h0M285.4 379.3h0M281.7 382.8h0M283.7 376.8h0M281.3 374.3h0M282.9 376.3h0M277.6 379.8h0M282.8 364h0M279.7 378.8h0M282.9 360.7h0M283.4 369.7h0M288.7 381.5h0M283.6 368.1h0M283.1 378.8h0M292.5 386.5h0M283.5 373.7h0M279.5 377.3h0M286 363.8h0M287.3 385.3h0M283.8 372.1h0M286.2 377.6h0M284.2 376.3h0" class="po"/><path d="M306 365.4h0M278.9 382.1h0M306.1 392.5h0M282.5 367h0M275.6 360.8h0M289.9 368.8h0M310.1 392.4h0M289.2 367.1h0M295 355.5h0M301.1 372h0M305 366.2h0M292.1 351h0M287 373.3h0M310.8 387.1h0M293.1 352.4h0M302.1 389.7h0M293.2 374.8h0M275 358.6h0M300.8 359.1h0M300.9 366.2h0M295.9 375h0M293.4 354.3h0M282.5 398.3h0M275.7 393h0M297.2 358.1h0M283.9 403.2h0M292.8 381h0M289.9 345.8h0M307.3 385.5h0M296.3 396.2h0M314 389h0M281.2 376.3h0M288 393h0M272.6 360.9h0M280.2 362.5h0M304.7 372.6h0M273.2 369.7h0M312.4 393.4h0M292.9 385.1h0M278 354.5h0M275.6 383.9h0M279.4 389.4h0M273.4 361.1h0M287.4 380.3h0M288.4 365.3h0M278 368.9h0M284.3 384.2h0M312.4 376.9h0M292.7 397.2h0M269.1 366.4h0M289.6 379.7h0M282.3 385.9h0M282.4 392.2h0M291.3 387.4h0M302.9 390.8h0M282.8 390.9h0M308.5 390h0M291.6 366.7h0M284.9 356.2h0M289.9 400.5h0M277.2 371.2h0M280.9 363.2h0M284.4 390.7h0M268.5 374.3h0M270.3 376.6h0M299.7 361.9h0M277 377.6h0M311.4 382.8h0" class="pb"/><path d="M285.1 370.8h0M286.4 363.3h0M286.1 371h0M281.6 376h0M280 388h0M281 371.5h0M284.2 373.8h0M284.8 381h0M286.8 361.8h0M277.7 376.7h0M286 378h0M282.1 374.6h0M277.9 387.2h0M277 388h0M284.3 383.8h0M281.5 387.2h0M288.3 373.9h0M284.3 371h0M285.8 357.7h0M284.5 369h0M278.1 371.3h0M284.6 372.2h0M280.7 380h0M283.8 374.2h0M283.8 371.4h0M283.6 364.9h0M282.9 362.2h0M280.3 385.9h0M287.1 380.4h0M285.1 360.6h0M287.3 375h0M282.9 373.7h0M281.3 385.1h0M291 385h0M287.1 368.7h0M285.7 372.5h0M281.1 368.1h0M284.1 382.8h0M286.2 363.5h0M280.8 369.3h0M282.1 378.8h0M277.9 369.7h0M279.8 375.3h0M285.6 362.1h0M285.4 378.5h0M286.2 376.8h0M284.7 373.1h0M280.8 372.2h0M285.7 371.5h0M289.2 379.1h0M285.1 370.3h0" class="po"/></g>
<g><path d="M341 340.8V409.2H407" class="ax"/><text x="339.7" y="348.9" class="t ty">30</text><text x="339.7" y="357.7" class="t ty">20</text><text x="339.7" y="366.5" class="t ty">10</text><text x="339.7" y="375.3" class="t ty">0</text><text x="339.7" y="384.1" class="t ty">-10</text><text x="339.7" y="392.9" class="t ty">-20</text><text x="339.7" y="401.7" class="t ty">-30</text><text x="349" y="412.1" class="t">-30</text><text x="358.3" y="412.1" class="t">-20</text><text x="367.6" y="412.1" class="t">-10</text><text x="376.9" y="412.1" class="t">0</text><text x="386.2" y="412.1" class="t">10</text><text x="395.5" y="412.1" class="t">20</text><text x="404.8" y="412.1" class="t">30</text><text x="374" y="416.2" class="ta">dim 1</text><text transform="translate(335 375.3) rotate(-90)" class="ta">dim 2</text><text x="412.5" y="376" class="t lt">label</text><circle cx="410.4" cy="378.2" r="0.65" fill="#2079c6"/><text x="413.3" y="379" class="le">0.0</text><circle cx="410.4" cy="380.8" r="0.65" fill="#ff7f0e"/><text x="413.3" y="381.6" class="le">1.0</text><path d="M382.8 397.8h0M392.7 357.6h0M378 365h0M397.7 374.8h0M374.1 389.4h0M381.4 397.5h0M376.8 350.8h0M375.4 381h0M392.1 369.8h0M384.6 389.2h0M376.2 376.2h0M375.6 397.1h0M373.6 366.9h0M375.9 378.1h0M378.1 353.8h0M382.3 349.4h0M381.2 401.8h0M396.9 367.3h0M386.4 387h0M398.5 364.1h0M384.6 345.4h0M377.7 362.9h0M391.9 366.6h0M393.9 368.8h0M396.3 355.5h0M372.3 377.5h0M381.6 399.9h0M391.3 388.2h0M383.8 398.4h0M377.1 358.2h0M377.9 399h0M381.3 398.3h0M395 394h0M391.1 377.9h0M398.5 374.4h0M392.7 385.8h0M392.1 358.7h0M382.6 344.7h0M391.5 372.4h0M389.1 357.9h0M374 355.1h0M395.6 373.6h0M379.1 392.7h0M378.2 401.9h0M390.4 371h0M388.3 382.5h0M402.1 375.7h0M389.4 389.2h0M391.6 395.1h0M390.8 383.5h0M380.8 387.9h0M389 390.3h0M396.7 377.4h0M380.5 393.9h0M376.8 374.3h0M372.4 390.7h0M389.7 388.4h0M395.2 394.3h0M400.8 365.9h0M390.4 383.3h0M397.2 375.9h0M373.5 382.7h0M384.4 371.6h0M372.7 393.2h0M393.8 402.1h0M396.5 368.2h0M385.6 387.7h0M382.2 346.7h0M382 369.8h0M394.5 361h0M387.8 350.1h0M386.9 359h0M375.5 376h0M374.1 374.2h0M388 361.2h0M376.1 351.6h0M375.4 380h0M387.7 376.3h0M375.8 360.7h0M381.7 377.9h0M387.6 363.3h0M387.6 350.8h0M392.4 378.6h0M377.3 350.2h0M377.9 364.5h0M379.4 376.3h0M398.8 366.6h0M393.6 392.6h0M379.7 372.9h0M377.7 389.1h0M387.3 378.6h0M395 378h0M373 354.9h0M388.5 388.6h0M371.9 384h0M381.2 357.3h0M392.2 396h0M374.5 351.3h0M374.8 355.9h0M385.3 369.4h0M381.9 392.2h0M387.3 396.6h0M383.6 375.7h0M388.8 359.7h0M383 369.6h0M390.5 369.8h0M390 381.9h0M382.3 359.8h0M374.2 390.7h0M391.1 377.1h0M381 402.3h0M374.4 374.3h0M380.9 369.5h0M389.5 387.4h0M380.6 357.8h0M384.2 353.2h0M390.3 382.7h0M387.5 379.2h0M386.9 401.2h0M391.5 369.2h0M393.8 396.5h0M382 383.2h0M383.7 378.7h0M374.5 349.5h0M389.5 377.2h0M380.3 379.7h0M394.4 360.1h0M378.4 400.5h0M379.4 382.7h0M382.4 387.3h0M392 390.8h0M389.8 393h0M395.8 359.7h0M369.1 378.2h0M400.7 376.3h0M372.7 360.7h0M371.9 386.8h0M382.5 395.9h0M380.2 382.9h0M377.7 381.9h0M393.2 378.7h0M387.8 376.7h0M379.9 379.1h0M376.3 381.3h0M399.2 389.6h0M385.8 401h0M373.4 351.3h0M384.5 360.6h0M390.8 366.1h0M393.2 385.2h0M376.9 357.1h0M382 365h0M386.5 391.7h0M373.1 375.8h0M396.2 371.4h0M390.7 392.6h0M385.3 374.7h0M377.3 348.7h0M383.4 398.7h0M392.5 391.1h0M382.1 390.7h0M385.5 390h0M375.4 352.9h0M393.2 387.9h0M391.4 391.4h0M399.3 369.7h0M386.2 388.4h0M398.2 358.4h0M375.3 398h0M377.8 388.5h0M393.4 394.1h0M376 385.8h0M381.8 352.2h0M385.3 369.6h0M390.2 363.8h0M392.5 374.8h0M396.3 372.8h0M380.7 367.8h0M379.6 358.5h0M377.4 377.5h0M386.5 375.9h0M394.4 387.7h0M384 352.4h0M377 399.7h0M383.4 348.1h0M396.4 358.7h0M377.7 372.8h0M376 391.4h0M385.8 363.1h0M377.7 364.2h0M389.3 373.7h0M377.3 398.2h0M369.8 378.8h0M380.4 345h0M376.5 346.9h0M383.1 371.4h0M380.5 376.5h0M380.9 386.2h0M388.8 346.3h0M389.2 384.5h0M401 375.2h0M378.7 385.9h0M371.5 370.5h0M371.5 363.4h0M384.6 369.7h0M397.8 379.3h0M391.4 369.5h0M390.6 361.2h0M381.9 398.1h0M374.5 364.3h0M388.2 364h0M386.7 350.8h0M377.4 387.7h0M380.9 354.7h0M378.6 376.6h0M402.7 367.9h0M385.7 361.6h0M390.2 363.5h0M378 381.3h0M390.7 362.4h0M397.3 381.1h0M388 401.2h0M391.7 379.4h0M397.6 390.1h0M401.1 383.6h0M388.5 392.3h0M388.3 366h0M395.8 394.4h0M390.7 379.1h0M385.2 390.8h0M399.8 387.9h0M371.3 377.2h0M385.2 399.7h0M370.7 387.1h0M399.8 386.4h0M393.1 364.4h0M392.4 350.4h0M392.5 397.2h0M388.2 367.9h0M370.2 378.9h0M391.9 346.9h0M385.1 366.1h0M401.4 376.3h0M385.1 353.1h0M381.6 352.5h0M397.9 388.9h0M388.7 381.7h0M370.8 382.3h0M371.5 393.4h0M390.4 389.1h0M391.4 366.4h0M386.8 402.3h0M393.9 390.3h0M390.5 378.4h0M384.8 402.7h0M377.6 380.9h0M380 402.5h0M371.2 375.2h0M377.1 384.7h0M400 370.6h0M385.6 362.7h0M392.3 392.9h0M383.8 347.4h0M390.8 356.2h0M383.3 365.9h0M376.8 387.5h0M387.7 391.8h0M398.3 363h0M378.4 354.3h0M388.6 388.8h0M380.5 362h0M389.8 366.7h0M386.4 358.1h0M388.9 378.7h0M391.1 393.5h0M382.9 374.8h0M389.8 374.6h0M397.6 374.2h0M374.5 353h0M383.9 344.8h0M388.8 384.8h0M372.3 384.3h0M381.8 358.8h0M395.7 365.4h0M396.6 393.9h0M391.9 380.6h0M382.3 378.4h0M391.9 392.8h0M400.5 368.7h0M398.2 384.5h0M388 378.9h0M392.2 368.7h0M378.4 345.6h0M385.9 391.8h0M375 387.7h0M392.1 399.5h0M395.6 393.1h0M389 400.4h0M392.4 360.2h0M395.6 392.8h0M379.4 394.4h0M392.3 376h0M394.9 355.7h0M380.8 356.3h0M385 387.2h0M388.4 395.9h0M384.7 365.2h0M385.4 373.1h0M392.2 359.4h0M387.9 353.5h0M393.8 375.6h0M388.9 354.3h0M374.6 349.9h0M392.9 388.1h0M385.7 351.5h0M390.6 348.2h0M394.6 371.9h0M390.1 372.9h0M391.6 367.9h0M371.7 390.7h0M393.5 371.1h0M399.1 390.8h0M371.5 372.9h0M396.4 363.5h0M379.8 378.3h0M395.3 376.1h0M400.1 385.4h0M382.3 376.9h0M377.8 357h0M393.4 373.5h0M375.4 397.3h0M384.5 364.8h0M388.7 352.7h0M391.3 390.2h0M383.7 355.9h0M384.1 357.2h0M378.7 358.2h0M375.9 393.7h0M397.6 393.9h0M385.8 354.2h0M385.4 397.9h0M380.1 350.7h0M391 349.5h0M393.5 368.7h0M380.1 389.3h0M382.3 380.1h0M396.3 376.9h0M386.3 354h0M375 364.5h0M389.1 389.3h0M384.5 382.6h0M371.8 373.5h0M378.9 399.5h0M388.1 379h0M371.8 400.5h0M396.1 364.4h0M384 361.7h0M375.6 362.4h0M395.7 367.5h0M389.2 372.1h0M393.7 370.9h0M401.3 379.7h0M388.8 361.8h0M397.1 387.1h0M382.2 387.2h0M387.7 394.9h0M394.1 379.4h0M370.9 388.2h0M377.9 368.5h0M380.5 351h0M386.5 394.9h0M386.9 355.9h0M374 379h0M343 348.8h0M392.6 367.5h0M392.1 369.4h0M378.9 375.6h0M379.6 389.6h0M395.8 368.6h0M387.2 388.6h0M394.6 380.1h0M397.9 377.5h0M386.4 372.1h0M372.8 369.1h0M387.6 381.3h0M383 373h0M375.8 395.1h0M377.6 396.4h0M394.8 355.4h0M401.5 368.8h0M372.9 370.8h0M393.9 356.2h0M382.4 378.1h0M377.8 390.1h0M370.6 389.6h0M398.5 392.5h0M396.8 378.2h0M390.1 383.9h0M395.5 376.7h0M398.6 366.9h0M394.6 374h0M383.1 365h0M389.6 375.7h0M377.8 380.7h0M390.6 395.4h0M376 350.9h0M376 356.9h0M371.9 391.9h0M384.2 361.1h0M391.7 365h0M369.7 380.8h0M374.3 361.7h0M386.2 366.1h0M380.5 396.9h0M396.9 393h0M389.1 370.9h0M388.6 370.9h0M370.8 376.8h0M380.6 390.2h0M377.7 349.1h0M383.2 346.1h0M384 358.8h0M389.6 387.8h0M384.6 364.4h0M378.2 386.3h0M383.6 384h0M384.3 374.6h0M374.9 377.5h0M374.5 353.3h0M387.2 385.5h0M387.6 350.7h0M394.7 382h0M369.9 374.4h0M386.6 364.8h0M396.3 374.7h0M389.5 350.3h0M395.8 360.9h0M377.6 375.3h0M381.9 360.5h0M386 348.5h0M373.5 395.3h0M396.5 395.4h0M378.5 362.5h0M387 349h0M374.5 394.9h0M391.9 367.8h0M382.1 387.5h0M375.1 358.7h0M391.2 386.1h0M387.5 368.3h0M391.7 395.8h0M382.2 400.6h0M372 386.4h0M398.5 369.4h0M391.8 353.9h0M371.4 366h0M374.4 355.1h0M379.6 377h0M379.2 354.8h0M379.6 368.5h0M395.2 355.3h0M383.5 379.8h0M380.6 359.5h0M371 371.2h0M379.7 385.2h0M393.5 375.8h0M371.8 361.7h0M385.4 357.8h0M378.5 400.9h0M382.1 399.1h0M393.6 366.7h0M383.5 389.4h0M390.2 374.1h0M401.7 368.4h0M376.7 387.8h0M394.1 371.7h0M390.7 381.3h0M375.4 357.9h0M378.4 399.4h0M375.9 400.4h0M387.8 364.7h0M395.6 394.4h0M395.6 385.2h0M381.9 394.1h0M394 375.6h0M398.1 382.9h0M399 375h0M380.4 364.3h0M376.5 358.9h0M375.1 369.8h0M384.6 377.2h0M368.5 389.4h0M373.7 352.7h0M377.1 381.2h0M389.1 361.9h0M378.8 345.7h0M373.5 354.4h0M402.6 375.1h0M375.5 381.1h0M392.7 380.9h0M387.1 362.2h0M372.2 364.1h0M388.5 359h0M390.2 361.5h0M393.5 349.1h0M377.1 391.6h0M397 390.9h0M377.1 356.1h0M383.8 362h0M399.5 377h0M394.3 385.4h0" class="pb"/><path d="M385.5 373.9h0M390.5 375.1h0M385.8 380.8h0M383.8 376.5h0M384.9 371.5h0M383 360.9h0M382.7 374.4h0M381.4 369.5h0M382.5 369.2h0M389.7 374.4h0M388.4 365.1h0M388.9 369.2h0M384 373h0M382.2 369.9h0M384.1 367.5h0M383.6 368.2h0M387.4 375h0M383 362.6h0M390.4 365.3h0M387.4 371.7h0M385.1 375h0M384.6 373.4h0M385.7 362.9h0M382.7 377.2h0M383.5 372h0M388.4 370.8h0M381.6 375.3h0M388.2 366.2h0M384.3 374.5h0M387 379.8h0M386.8 374.2h0M387.6 368.8h0M388.9 372.5h0M386.5 371h0M388.5 363.7h0M388.3 366.6h0M382.5 366.1h0M387 378.4h0M388.3 380h0M385.8 373.5h0M391.8 387.7h0M383.3 386.2h0" class="po"/><path d="M379.5 368.8h0M370.7 382.6h0M399.4 360.5h0M370.9 358.5h0M378.6 392.4h0M374.2 388h0M376.3 369.3h0M370.9 388.1h0M379.4 396.8h0M400.3 362.1h0M384.1 346.6h0M395.7 393.8h0M400.4 373.2h0M390.9 379h0M396.2 390.7h0M381.1 401h0M382.5 359.9h0M377.2 386.2h0M389 370.3h0M386.9 383.8h0M396.7 367.8h0M374.3 351.6h0M386.4 367h0M397.1 364h0M389.1 401.5h0M375.1 378.5h0M387.8 393.5h0M377.2 352.3h0M378.7 363.1h0M391.7 382.5h0M397.6 387.5h0M389.2 386h0M396.3 368.9h0M377 376.2h0M379.8 351.8h0M384.7 397.1h0M388.4 387.4h0M387.5 388.3h0M378.6 354.5h0M379.9 397h0M370.9 382.6h0M379.8 392h0M386.7 382.1h0M377.5 370.4h0M393.8 395.4h0M380.2 402.1h0M384.6 351h0M376.2 388.7h0M385.3 348.2h0M378.4 395.1h0M380.9 363h0M371.1 373.4h0M383.3 353h0M378 378.7h0M394.8 382.8h0M393.5 396.4h0M394.5 396.4h0M385.8 391.7h0M398.5 374.5h0M379.2 380.7h0M389.9 373.8h0M398 380h0M384.2 362.8h0M385.4 353.7h0M390.9 394.1h0M388.3 396.9h0M392.7 367.5h0M378.1 385.7h0M386.8 346.2h0M392.8 354.4h0" class="pb"/><path d="M386.1 376h0M384.2 377h0M382.3 381.1h0M384.4 362.4h0M385 369.3h0M382.2 365.2h0M385.8 371.4h0M381.5 375.7h0M379.7 372.1h0M386.1 371.5h0M386.3 380.6h0M389 378.9h0M375.2 396.8h0M382.9 370.8h0M383.7 377.9h0M386 371.7h0M384.8 370.3h0M385.1 368.9h0M382.4 361.5h0M384.3 374.1h0M386.6 369.8h0M392 362.5h0M388.5 378.1h0M381.9 362.8h0M386.7 373.8h0M383.6 380.9h0M385.5 377.1h0M382.6 386.2h0M382.7 362h0M385 374.8h0M387.2 370.8h0M387.7 374.8h0M382.5 370.1h0M386.8 370.4h0M387.2 368h0M386.3 367.8h0M379.5 384.1h0M386.2 359.1h0M386 368.4h0M385.1 373.9h0M380.3 373.4h0M382.5 367.3h0M381.6 368.9h0" class="po"/></g>
<g><path d="M76.6 443.4V511.8H142.6" class="ax"/><text x="75.3" y="446.5" class="t ty">30</text><text x="75.3" y="457.3" class="t ty">20</text><text x="75.3" y="468.1" class="t ty">10</text><text x="75.3" y="478.9" class="t ty">0</text><text x="75.3" y="489.7" class="t ty">-10</text><text x="75.3" y="500.5" class="t ty">-20</text><text x="75.3" y="511.3" class="t ty">-30</text><text x="85.3" y="514.7" class="t">-20</text><text x="98.2" y="514.7" class="t">-10</text><text x="111.1" y="514.7" class="t">0</text><text x="124" y="514.7" class="t">10</text><text x="136.9" y="514.7" class="t">20</text><text x="109.6" y="518.8" class="ta">dim 1</text><text transform="translate(70.6 477.9) rotate(-90)" class="ta">dim 2</text><text x="148.1" y="478.6" class="t lt">label</text><circle cx="146" cy="480.8" r="0.65" fill="#2079c6"/><text x="148.9" y="481.6" class="le">0.0</text><circle cx="146" cy="483.4" r="0.65" fill="#ff7f0e"/><text x="148.9" y="484.2" class="le">1.0</text><path d="M93.8 499.1h0M102.8 500.1h0M90.7 496.5h0M109.3 456.4h0M126.9 453.1h0M96.2 491.8h0M122.3 452.7h0M110.7 455.6h0M132.7 454.6h0M132.3 460.6h0M115.4 452.4h0M125 463.7h0M136.1 497.4h0M112.4 461.3h0M92.8 497.7h0M94.4 503.4h0M114.9 454.4h0M109 461.9h0M114.6 454.8h0M114.1 464.1h0M128.9 457.3h0M92.1 498.2h0M118.1 466.1h0M103.8 492h0M131.1 459.9h0M89.7 498.5h0M84.3 491.6h0M92.3 494.4h0M107.1 460.8h0M90.4 493.4h0M118.1 454.8h0M98.5 494.6h0M126.8 465.2h0M132.1 456.6h0M112.1 462.2h0M91.1 496.9h0M102.2 501.5h0M93.2 488h0M114.7 451.4h0M133.7 450.8h0M135.5 457.5h0M92.7 504.5h0M118.2 462.4h0M114.4 463.7h0M114.2 451.7h0M81.3 496.2h0M116.7 448.9h0M108.1 458.7h0M93 498.1h0M101.8 494.1h0M137.5 497.3h0M123.8 450.3h0M103.9 499.2h0M83.4 501.2h0M106.9 460.1h0M138.7 497.4h0M116.4 464.5h0M133.9 454.1h0M105.8 455.5h0M84 497.8h0M92.6 502.6h0M92.8 501h0M113.1 466.3h0M140.2 498.7h0M125 469.4h0M109.7 457.5h0M128.3 452.2h0M127.4 451.3h0M89.7 485.7h0M117.9 447.2h0M127.8 456.4h0M98.9 498.1h0M85.3 501.4h0M118.5 458.2h0M137.2 457.4h0M118.6 455.7h0M128 466.6h0M80.3 500.2h0M101.4 492.7h0M80.7 496.6h0M86.9 495h0M133.8 453.1h0M108 455h0M83.8 495.2h0M112.2 463.4h0M97.4 492.3h0M114.8 465h0M120.4 459.6h0M81.2 497.4h0M98.8 490.6h0M137.4 456.3h0M98.5 499.5h0M97.1 494.6h0M120.5 456.2h0M87.3 489.5h0M114.1 451.4h0M101.2 501.8h0M131.8 450.6h0M102.8 492.4h0M130.8 469.2h0M122.8 456.4h0M137.5 460h0M92.4 500.8h0M137.8 499.9h0M95.7 496.9h0M86.2 489.3h0M91.6 498.5h0M137.2 497.5h0M119.5 461.5h0M85.4 499.8h0M130.3 466.1h0M119.7 463.2h0M132.4 465.1h0M139.6 497.9h0M103.2 491.1h0M107.1 461.1h0M101.8 497.8h0M97.9 502.3h0M126.6 451.1h0M112.4 460.8h0M121.7 463.3h0M130.3 462.7h0M115.3 452.1h0M103.4 499.4h0M121.9 454.5h0M104.5 493.6h0M98.3 497.7h0M114.5 462.6h0M120.4 463.4h0M87.1 489.8h0M132.1 461.4h0M104.9 457.6h0M122.7 465.9h0M137.4 499.6h0M121.6 457.4h0M92.9 505.9h0M118.9 466.5h0M100.2 490.2h0M128.5 449.6h0M132.9 468.4h0M96.1 505.6h0M85.6 502.3h0M87.2 496h0M86.5 503.6h0M136.9 460.6h0M122.4 467.8h0M81.8 495.6h0M126.5 460.3h0M99.5 502.1h0M117.6 464.8h0M122 456.2h0M118.9 461h0M116.9 451.3h0M87.4 489.5h0M126 462.5h0M126.8 454.1h0M86 486.7h0M126.9 469.9h0M117.2 464.4h0M107.1 453.8h0M102 497.6h0M90.5 503.1h0M92.7 502.7h0M89.5 504.8h0M111.1 460.3h0M114.5 449.6h0M99.3 495.4h0M114 450.2h0M97.8 492.4h0M96.2 496h0M119.4 455.9h0M110.2 460.2h0M101.4 489.9h0M100.4 498.5h0M99.6 492.9h0M97.4 488.3h0M92.1 503.3h0M104.1 499.2h0M90 502.6h0M84.2 503.2h0M103 496.8h0M98 494.2h0M99.2 492.2h0M124 455.5h0M81.9 501.8h0M91.5 492h0M93.2 498.3h0M89.4 493h0M112.3 464.8h0M84.7 491.7h0M133.6 453.3h0M118 464h0M116.2 455h0M87.8 492.2h0M117.1 454.3h0M83.9 503.4h0M134.9 460.4h0M117.4 459.5h0M100 490.8h0M128.3 462.2h0M116.7 453.8h0M120.9 466.3h0M102.1 490.8h0M84.4 504.2h0M110.9 464.1h0M91 505.9h0M114.7 451.4h0M86.3 486.9h0M108.9 454.9h0M120.3 459.6h0M135.4 499h0M127.2 452h0M85.2 496.3h0M113.2 455.7h0M133.7 460.6h0M135.7 455h0M123.8 457.4h0M89.4 497.9h0M112.5 456.9h0M130.8 450.4h0M107.9 458.5h0M118.3 450.4h0M120.7 450.5h0M95.3 505.9h0M110.3 453.1h0M98.1 503.2h0M89.4 500.4h0M112.4 452.1h0M115.1 453.9h0M85.1 489.6h0M93.5 502.2h0M126.8 453.3h0M120.1 455.5h0M119.1 449.4h0M92.4 494.7h0M87.4 487.5h0M133.9 452.8h0M127.8 452.7h0M123.7 461.9h0M90 487.2h0M101 498.5h0M99.3 496h0M85.1 488h0M93.8 507h0M112.2 461.2h0M84.5 494.3h0M82.9 492.9h0M80.8 494.8h0M110.1 460.7h0M105.8 454.4h0M99.3 502.5h0M95.6 501h0M114 462.3h0M116.6 461.2h0M97.1 490.1h0M137 458.5h0M124.6 453h0M122.7 461.6h0M121.2 448h0M129.1 462.1h0M100.8 494.6h0M134.1 467.3h0M118 446.8h0M130.1 459.8h0M101.8 492.1h0M139.3 498.9h0M105.3 457.2h0M129.5 460.5h0M132.1 461.2h0M113.4 466.2h0M124.9 461h0M112.6 453.2h0M113.5 464.2h0M128.3 466.2h0M83.6 500.1h0M126.9 458.7h0M84 496.5h0M116.4 452.5h0M128.9 463.1h0M123.5 464.2h0M121.4 450.5h0M98.2 499.6h0M91.8 495.2h0M85.5 491.4h0M114.1 453h0M127.3 463.5h0M123.6 455.7h0M130.5 461.6h0M108.5 453.2h0M118.5 463.4h0M95.6 496.2h0M93 488.1h0M86.7 493.4h0M84.5 494.4h0M91.8 491.2h0M105 457.1h0M94.3 490.6h0M102.5 495.9h0M121.9 462.5h0M121.8 459h0M134.1 452.6h0M82.4 492h0M137.5 462.1h0M91 501.9h0M83.6 489.4h0M97.3 502.9h0M125 462h0M88 500.5h0M103.6 499.8h0M134.7 450.2h0M108.9 456.5h0M104.1 498.2h0M122.2 458.6h0M95.8 495.4h0M132.1 469.1h0M86.1 491.9h0M83.4 489.9h0M122.9 452.4h0M137.2 459.5h0M133.8 457.1h0M119.7 469.1h0M136 498.1h0M131.9 450.1h0M118.2 460.9h0M112 462.1h0M106.3 461.1h0M118.4 456.1h0M80.4 500.2h0M123 458.7h0M137.5 500.7h0M126.4 450.9h0M115 457.6h0M108.3 456h0M102.3 491.2h0M114.3 451.9h0M136.7 497.1h0M135.7 460.9h0M92.5 499h0M112.8 465.4h0M135.5 497.9h0M86.7 506h0M85.6 490.1h0M119.1 457.6h0M92.4 504h0M128.6 459.5h0M94 498h0M92.2 507.8h0M137.2 500.8h0M117.8 448.2h0M88.2 496h0M85.2 491.7h0M113.7 455.7h0M123.7 462.4h0M99.4 499.5h0M109.1 459.2h0M105.4 455.6h0M118.6 459.7h0M116.3 456.2h0M111.6 464.1h0M138.7 499.5h0M123.9 469.3h0M88 500.1h0M94.3 505.7h0M90.5 504.2h0M88.6 503.7h0M94.3 505.2h0M125.6 461h0M127.5 469.5h0M124.9 456.1h0M88.7 489.7h0M87.1 484.4h0M116.3 456.4h0M111.5 456.6h0M135.7 499h0M136.9 463.2h0M121.8 465.7h0M87.3 488.2h0M127.8 467.1h0M126.2 448.9h0M91.9 498.9h0M87.6 490.3h0M124.7 448.4h0M100.3 502h0M92 496.2h0M112.4 465.1h0M112.1 453.4h0M129 451.1h0M91.2 490.2h0M127.1 456.9h0M90.8 491.5h0M95.4 493.3h0M90 504h0M97 496.7h0M99.6 490.8h0M119.6 467.5h0M121.9 460h0M125.9 451.2h0M122.6 457.2h0M89.7 501.4h0M85 499.4h0M134 457.8h0M129.5 464.9h0M105.8 454.9h0M92.3 503.9h0M92.5 501.8h0M127 454.2h0M123 448.4h0M123.9 470.5h0M121.3 449.3h0M125.4 454.8h0M92.8 498.6h0M93.2 507.2h0M122.7 452.9h0M130.6 455h0M88.4 487.2h0M135.9 452.2h0M83.7 500.5h0M119.8 455.1h0M94.3 487.3h0M110.1 463.3h0M101.4 502.1h0M89.2 505.4h0M90 485h0M120.1 461.7h0M97.9 492.2h0M136.3 464.2h0M123.4 455.2h0M103.8 499h0M138.6 496.6h0M113.8 460.1h0M92.2 495.4h0M128.3 449.1h0M107.3 461.5h0M89.7 493.4h0M112.9 453.8h0M88.9 498.1h0M125.7 462.1h0M136.6 500.8h0M96.7 490.1h0M137.7 458.8h0M90.6 499.2h0M115.7 460.8h0M90.1 504.9h0M123.1 456.4h0M109.3 453h0M83.8 488.7h0M111.2 452.5h0M133.6 449.4h0M85 494.7h0M128.7 459.1h0M125.1 464.9h0M116.2 449.9h0M107.2 454.8h0M95.9 503.1h0M116.2 451.1h0M129.4 454.7h0M96.3 504h0M110.5 459.6h0M113.3 463.3h0M107.2 456.8h0M115.6 466.4h0M118.2 465.9h0M87.2 498.1h0M121.1 452h0M133.1 460.9h0M116.2 466.1h0M135.1 455.8h0M93.3 496.6h0M129.3 448.6h0M125.8 456.5h0M128.7 469.5h0M92.7 485.4h0M122.1 452.8h0M134.3 460.2h0M128.1 450.8h0M131 465.5h0M88.1 490.3h0M125.3 458.7h0M88.1 504.2h0M107.4 455.5h0M123.9 465.4h0M84.2 488.8h0M124.2 449.5h0M136 455h0M131.5 451.7h0M83.4 502.2h0M109.8 454.4h0M104.2 494.3h0M131.6 458.6h0M124.6 459.7h0M134.8 499h0M129.7 453.8h0M136.4 452.3h0M83.6 503.8h0M124.9 462.2h0M115.6 454.4h0M138.6 497h0M103.6 498.6h0M120.3 465.6h0M117.9 468.8h0M113.2 458.2h0M91.9 502.9h0M110.5 462h0M94.4 491.5h0M124.3 453.4h0M80.3 497.9h0M104.1 492.5h0M116.5 449h0M80.8 492.8h0M122.4 466.7h0M97.8 499h0M136.1 454.4h0M97.8 494.6h0M130 464.3h0M91.1 496.2h0" class="pb"/><path d="M102.7 496.7h0M95.9 489.3h0M110.5 458.4h0M106 457.7h0M95.4 491h0M106.3 458.1h0M98.9 495.8h0M98.5 496.7h0M108.9 459.9h0M96.7 493.8h0M96 491.9h0M103.8 495.3h0M103.1 499.3h0M104.8 453.4h0M96.9 492.9h0M111.3 460.2h0M95.1 490.6h0M105.8 461.3h0M107 455.7h0M109.4 458.3h0M113.7 454.9h0M107.3 453.9h0M98.7 496.6h0M96 491.4h0M108.1 454.9h0M97.3 489.9h0M98.3 488.9h0M98.1 499.3h0M107.1 454.4h0M108.1 457.5h0M98.8 489.5h0M122 466.5h0M101.2 496.5h0M97.1 489.9h0M105.1 463.2h0M108.8 460.8h0M107.7 456.6h0M105.6 457.1h0M108 458.1h0M97.6 492.7h0" class="po"/><path d="M105.9 457.9h0M126.4 464.8h0M92.8 503.3h0M94.2 504.3h0M91.2 484.6h0M124 456.7h0M136.3 450.9h0M119.9 467.2h0M94.5 492.7h0M92.9 493.8h0M119.4 462.4h0M137.1 499.9h0M134.6 451.6h0M99.7 491.9h0M109.8 464.2h0M118.6 460.7h0M120.3 459.5h0M133.7 461.1h0M89 505.7h0M95.9 497.1h0M118.8 459.8h0M128.6 458.9h0M136.2 461.8h0M114.1 465.3h0M92.3 506.5h0M103.7 491.2h0M84.9 493.6h0M134.3 465.1h0M129 456.7h0M132.5 458.7h0M89.7 484.7h0M123.5 451.2h0M83.8 501h0M89.8 491.7h0M80.8 498.4h0M117.1 447.7h0M137.8 456.5h0M129.7 448.7h0M93.1 487h0M114.4 461.8h0M120.3 468.7h0M87.9 500.3h0M85.6 489.5h0M121.8 452.5h0M121.7 463.7h0M133.2 463.7h0M88.6 495.6h0M112.3 459h0M94.2 494h0M93.8 500.8h0M104 495.2h0M108.6 455.1h0M134.4 450.1h0M82.7 496.4h0M104.7 495.9h0M138.5 498.1h0M132.9 458.8h0M96.5 489.8h0M114 451.7h0M126 460.9h0M127.9 466.1h0M94.1 503.7h0M112.7 456.9h0M126.6 450.1h0M93.7 501.9h0M115.6 465h0M83.8 492.2h0M132.6 451.7h0M126.8 452.9h0M127.6 450.7h0M96.2 501.2h0" class="pb"/><path d="M101 494.6h0M95.1 491.9h0M93.6 490.7h0M109.7 456.2h0M98.9 498.8h0M106 456h0M103.2 459.1h0M108.8 455.4h0M95.4 490.8h0M110 461.3h0M99.2 496.5h0M107.9 456.1h0M110.7 459h0M110.1 458.9h0M109.5 458.3h0M98.3 493.4h0M107.1 462.5h0M100.3 498.4h0M94 489.1h0M107.8 456.2h0M101.1 499.1h0M111.8 459.2h0M109.7 451.8h0M109.7 461.2h0M99 488.9h0M97.3 498.5h0M108 452.4h0M109.4 454h0M106.2 455.6h0M107.9 456.4h0M95.3 493.5h0M100.1 498.5h0M108 455.3h0M96.3 490.5h0M98.8 493h0M128.6 456.6h0M106.6 459.4h0M90.6 501.3h0M102 502h0M108.7 457h0M105.5 459.8h0" class="po"/></g>
<g><path d="M164.6 443.4V511.8H230.6" class="ax"/><text x="163.3" y="445.6" class="t ty">40</text><text x="163.3" y="454.4" class="t ty">30</text><text x="163.3" y="463.2" class="t ty">20</text><text x="163.3" y="472" class="t ty">10</text><text x="163.3" y="480.8" class="t ty">0</text><text x="163.3" y="489.6" class="t ty">-10</text><text x="163.3" y="498.4" class="t ty">-20</text><text x="163.3" y="507.2" class="t ty">-30</text><text x="176.7" y="514.7" class="t">-30</text><text x="187.4" y="514.7" class="t">-20</text><text x="198.1" y="514.7" class="t">-10</text><text x="208.8" y="514.7" class="t">0</text><text x="219.5" y="514.7" class="t">10</text><text x="230.2" y="514.7" class="t">20</text><text x="197.6" y="518.8" class="ta">dim 1</text><text transform="translate(158.6 477.9) rotate(-90)" class="ta">dim 2</text><text x="236.1" y="478.6" class="t lt">label</text><circle cx="234" cy="480.8" r="0.65" fill="#2079c6"/><text x="236.9" y="481.6" class="le">0.0</text><circle cx="234" cy="483.4" r="0.65" fill="#ff7f0e"/><text x="236.9" y="484.2" class="le">1.0</text><path d="M177.3 494.1h0M174.5 494.2h0M202.7 469.5h0M176.7 498.8h0M219.1 463.9h0M226.8 471.8h0M178.2 485.2h0M199.1 497.7h0M201.8 456.3h0M179.6 486.3h0M203.6 505.5h0M218.6 493.8h0M207.9 456.1h0M192.7 484.3h0M192.3 488.2h0M215.3 466.4h0M215 499.8h0M172.1 493.6h0M204.6 463.5h0M197.1 452.3h0M221.4 475.2h0M204.7 475.9h0M222.1 479.7h0M214.3 469.9h0M210 498.7h0M216.1 472.8h0M183.6 469.7h0M178.4 485.9h0M193.6 472.4h0M178.2 492h0M173.7 486h0M208.9 497.5h0M215.6 489.4h0M222.3 492.6h0M218.9 479.2h0M199.1 465.5h0M213.2 476.1h0M213.3 490.9h0M198.7 474h0M176.1 490.2h0M197.3 497.9h0M214.9 479.5h0M181.5 467.2h0M224.6 472.7h0M190.4 485.4h0M196.5 503.2h0M222 492.5h0M177.5 483.3h0M216.3 469.5h0M215.8 466.8h0M207.4 498h0M178.8 479.8h0M209.6 477.4h0M198.6 502.6h0M220.6 482.5h0M204.4 451.4h0M191.7 495.8h0M213.1 465.9h0M193.6 489h0M173.5 482h0M184 492.9h0M226.5 480.2h0M206.9 498.6h0M211.8 470.9h0M191.3 497.7h0M173.6 493h0M208 492.9h0M170.6 483.6h0M215.4 460.6h0M211.9 492.6h0M217.8 479.3h0M197.5 473h0M210.2 455.5h0M181.5 490.2h0M192.2 462.4h0M198.6 492.1h0M197.2 454.9h0M196.2 459.8h0M198.8 506.1h0M210.9 497.9h0M204 481.9h0M184 496.5h0M189.2 488.8h0M197.7 456h0M200.6 464.5h0M189.9 490.7h0M184.7 471.1h0M189 455.7h0M182.6 501.2h0M193.5 458.7h0M202.7 495h0M218.5 473.7h0M192.7 478.4h0M184.1 466.7h0M199.5 473.3h0M203.2 472.5h0M209.1 496.8h0M192.7 474.6h0M202.9 475.7h0M222.8 468.5h0M189.3 458.8h0M186.8 482.8h0M193.8 495.8h0M191.1 494.1h0M193.8 484.5h0M219.3 477.6h0M215.6 484.9h0M219.3 470h0M175.5 491h0M189.7 479.7h0M204.5 490.8h0M197.4 504.9h0M187.5 498.7h0M209.1 448.6h0M227.6 473h0M201.2 457h0M224.6 481.2h0M197.8 492.5h0M202.2 484.9h0M177.8 481.7h0M210.7 494.7h0M206.4 452.9h0M209.9 485.1h0M205.8 450.9h0M222.2 486.7h0M178.1 472h0M211.1 485.6h0M180 488.1h0M216.7 476.5h0M193.8 468.9h0M185 491.3h0M205.1 471.6h0M201 506.4h0M197.9 500.7h0M200.2 462.5h0M210.6 468.1h0M175.4 484.1h0M179.3 489.6h0M196.1 500.4h0M193.8 451.2h0M211.9 450.3h0M201 504h0M221.5 484.5h0M205.2 457.9h0M219.5 461.2h0M176.4 494.3h0M225.8 473.5h0M205.4 486.6h0M182.6 478.3h0M215.1 455.1h0M210.6 476.1h0M196.9 487.1h0M183.1 484.4h0M179.2 491.6h0M175.4 477.1h0M205 480.6h0M191.9 455.5h0M177 488.9h0M180.3 485.4h0M187.3 462.1h0M190.7 478.6h0M187.9 474.6h0M180.2 481.6h0M182 482.4h0M223.1 480.2h0M196.3 451h0M209.4 500.5h0M193.8 506.1h0M185.7 471.2h0M177.9 480.4h0M176.6 497.9h0M207 472.8h0M188.8 492.9h0M204.8 462.2h0M215.5 464.2h0M183.9 489.1h0M171.9 490.3h0M223.9 474.4h0M186.1 497.9h0M210.7 465.4h0M177.6 498.2h0M214.2 455.2h0M193.1 483.9h0M174.6 486.1h0M225.8 482h0M222 486.8h0M174.8 477.6h0M209.2 494.1h0M218.3 470.2h0M213.3 482.4h0M183.5 488.8h0M206.8 474.2h0M219.3 469.4h0M203.3 459h0M201.4 483.9h0M179.7 488.3h0M191.8 505.4h0M192.7 452.3h0M182.4 480.6h0M216.4 473.4h0M171.2 486.7h0M197.3 461.8h0M208.7 472h0M195.4 475.1h0M173.1 473.9h0M211.7 461.3h0M218.5 485h0M211.4 450h0M176.9 492.6h0M185.3 495.4h0M166 491.1h0M193.2 491.3h0M186.5 496.3h0M205.6 484.4h0M180.3 480.8h0M198.1 466.3h0M176.2 495.6h0M215 474.1h0M217.8 468.6h0M210.9 502.8h0M210.4 469.6h0M177.3 487.9h0M214.9 459.8h0M207.9 494.1h0M218.2 487.8h0M215.6 482.8h0M195.6 461.6h0M199.2 483h0M213.3 471.9h0M209.4 473.6h0M175 475.7h0M183.2 469.9h0M174.7 488h0M177.2 468.5h0M194.2 498.9h0M206.8 494.3h0M191.1 454.6h0M176 494.7h0M198.8 494.8h0M198.1 476.1h0M178.1 479.6h0M193 458.3h0M207.4 460.9h0M168.6 480.7h0M213.6 497.6h0M179.6 500.7h0M180.3 485.6h0M177.3 480.3h0M189.2 476h0M215 458.1h0M171.4 497h0M207.8 465.6h0M220.2 466.9h0M189.8 490h0M178.4 475.2h0M196.5 457.8h0M223.5 480.4h0M186 460.5h0M214.5 490.4h0M221.5 464.6h0M215.5 470.1h0M215.8 465h0M204.9 477.6h0M179.5 483.9h0M175.5 485.1h0M171.9 485.6h0M220.3 488.2h0M212.6 476.2h0M224 478.3h0M208.2 482.8h0M204.1 473.8h0M215 472.4h0M170.3 491h0M221 467.5h0M197.8 504h0M217.9 493.6h0M184.3 478.2h0M197.9 482h0M180.4 486.8h0M206.2 470.6h0M199.2 496h0M210.2 502.3h0M173.4 485.3h0M190.6 480.2h0M207 461.1h0M191 478.5h0M220.9 481.8h0M200.5 501.5h0M219.8 485.5h0M177.7 489.4h0M204.7 500.1h0M171.4 484.1h0M186 469.3h0M172.5 480.6h0M211.8 462.4h0M203.6 449.4h0M194.2 499.6h0M218.2 495.5h0M211.2 488.2h0M175.8 480.6h0M201.1 468.4h0M211.9 486.5h0M194.2 491h0M214 481h0M227.3 475.4h0M224.8 483.4h0M182.5 467h0M221.5 485.9h0M181.6 495.8h0M218.8 466.5h0M185.9 467.8h0M219.2 482.8h0M210 465.1h0M189.7 494.5h0M177.5 480.6h0M183.9 480.4h0M185.3 502.2h0M211.2 459h0M168.3 488.6h0M190 473.2h0M213.4 452.5h0M175 482.9h0M223.1 476.3h0M200.9 476.1h0M222.7 484.8h0M198.1 457.7h0M210.3 471.5h0M173.4 498.4h0M211.9 476.2h0M218.8 491.1h0M200.6 489.6h0M204.7 471.9h0M201.3 454.8h0M176 489h0M204 449.6h0M192.9 482.1h0M197.7 477.9h0M185.3 457.8h0M190.2 463h0M209.8 471.8h0M209.2 453.2h0M190.4 461.1h0M201.2 459.6h0M183.4 481.3h0M203.8 495.8h0M182.2 486.5h0M220.1 470.1h0M218.4 480.5h0M202.1 475.8h0M194.4 453.6h0M211.9 448.4h0M199.3 457.8h0M203.1 506.5h0M178.2 469.1h0M184.1 464.9h0M203.3 500.2h0M191.4 480.9h0M180.8 497.1h0M208.7 488.4h0M188.1 472.2h0M221.7 484h0M180.2 486.5h0M176.3 491.3h0M220.4 471.1h0M212.6 467.3h0M206.8 495.4h0M194.3 458.7h0M197.1 460.5h0M191.6 471.6h0M204.2 466.1h0M189.4 462.5h0M205.5 498.7h0M218.9 487.2h0M201.2 474.7h0M185.9 499.3h0M181.1 477.6h0M212.1 480.5h0M188.6 468.8h0M176.1 475.9h0M186.3 485.2h0M210 480.4h0M187.7 489.9h0M174.7 476.3h0M213.1 459.7h0M193.8 479.1h0M180.3 479.7h0M192.7 474.7h0M206.7 475h0M218.2 468.1h0M217.5 479h0M225.6 482.1h0M179.1 500.6h0M219.8 488.6h0M221.9 493.9h0M220.1 480.1h0M177.6 499.9h0M189.5 476.5h0M195.2 496.7h0M181.9 473.4h0M199 484.2h0M179 480.4h0M174 496.1h0M194.8 460.5h0M218.8 462.1h0M193.1 465.8h0M176.2 496.3h0M174 492h0M181.5 486.4h0M197.3 450h0M200.6 456.6h0M199 483h0M195.3 505.1h0M175.3 486h0M218.2 484.9h0M213.7 470h0M193.1 492.4h0M175.3 488.5h0M173.2 493.4h0M192.1 497.1h0M203.1 501.1h0M186.1 495h0M202 461.8h0M225.4 481.8h0M172.6 490h0M210 488.7h0M191.2 472.5h0M176.6 498.5h0M193 484.5h0M196.5 499.6h0M205.5 466.1h0M226.8 480.9h0M195.4 457.2h0M212.9 459.1h0M191.2 483.1h0M182.3 493h0M199.5 452.8h0M184.6 486.5h0M200.5 479h0M170.8 496h0M180.4 497.5h0M214.7 488.6h0M190 488.7h0M201.7 458.3h0M172.4 480.3h0M177.4 496.3h0M221.5 479.3h0M197.5 476.5h0M212.4 470.8h0M210.8 494.7h0M207.5 483.9h0M185.6 461.1h0M217.3 492.7h0M195.9 492.5h0M187.9 478.6h0M175.6 476.4h0M186.2 459.7h0M217.5 494.4h0M191.8 492.2h0M197.2 502.1h0M175.6 476.5h0M184 490.5h0M197.5 498.1h0M208.9 493.7h0M189.3 461.2h0M209.8 481h0M210.8 453h0M184.3 498h0M188.6 499.9h0M213.6 466.8h0M191.8 484.1h0M180.4 490.2h0M221.7 470.4h0M171.3 496.2h0M224.1 471.7h0M216.3 474.2h0M182.8 467.8h0M178.1 494.3h0M174.3 485.1h0M199.1 455.7h0M215.9 480.7h0M208.9 491.5h0M175.3 486h0M214.7 476.5h0M204.9 487.5h0M195.9 463.6h0M200.6 477.4h0M218.8 495.5h0M190.6 483.3h0M178 483.9h0M193.9 472.6h0M224.5 481.2h0M170.4 491.2h0M222.8 492.5h0M221.5 470.1h0M207.3 463.3h0M209.9 474.5h0M174.8 490.3h0M197.4 507.4h0M180 470.8h0M200.1 455.1h0M219.2 479.1h0M218.4 465.5h0M186.1 468.5h0M206.4 461.7h0M174.3 498.2h0M216 473.6h0M210.8 470.6h0M210.7 480.2h0M213.9 457.9h0M187.2 476.9h0M206.6 469.9h0M189.2 465.3h0M190.5 479.4h0M186.6 479.3h0M182.6 464.6h0M171.8 484.9h0M212.3 499h0M219.2 482.1h0M220.2 468.8h0M217 469.8h0M203.1 456.3h0M192.2 463.2h0M215.5 457.1h0M211.3 473.9h0M198.9 463.5h0M218.8 470.3h0M196.5 487.5h0M191.6 497.5h0M187.6 493.7h0M193.6 459.2h0M207.6 470.4h0M186.5 462.9h0M174.2 487.7h0M183.6 500.5h0M193.1 487h0M173.9 493h0" class="pb"/><path d="M191.7 485.4h0M202.9 501.4h0M205.6 501.9h0M195.8 500h0M200.1 502h0M191 481.1h0M207.2 504h0M197 476.5h0M188.7 487.5h0M211.8 504.9h0M185.2 482.5h0M214.7 504.9h0M209.1 502.9h0M205.4 502.4h0M193.8 478h0M188.1 482.2h0M207.5 502.5h0M196.1 480.5h0M208.9 476.2h0M188.8 484.7h0M193.9 482.4h0M208.2 501.9h0M197.4 499.8h0M198.8 499.9h0M200.1 500.2h0M192.9 482.9h0M199.6 503.1h0M196 501.3h0M189.6 489.8h0M206.1 500.6h0M201.3 497.9h0M198.1 499.5h0M196.3 500.3h0M207.6 503.9h0M193.4 480.9h0M187.7 498.6h0M205.7 501.5h0M203.4 503.8h0M204.7 499.1h0M183.5 483.7h0M185.2 489.9h0M216.4 504.6h0M196.5 501.1h0M200.1 480.4h0M196 482.1h0M192 481.5h0" class="po"/><path d="M190.8 466h0M223.2 485.8h0M212.9 479.4h0M191.2 457.4h0M180.4 477.7h0M195.1 488.6h0M181.7 476.7h0M193.7 498.1h0M218.6 482.6h0M221.2 481.7h0M171.4 497.5h0M198.2 501.2h0M215.3 471h0M213.5 476.9h0M226.2 470.8h0M172.8 480h0M217.9 477.9h0M208.7 475.1h0M195.9 473.6h0M197.5 505.1h0M185.4 468.8h0M204.3 478.5h0M218.7 467.1h0M213.5 492h0M225.2 470.9h0M171.1 478.4h0M178.4 498.4h0M187.6 462h0M202.5 460.1h0M187.3 501.4h0M172.5 478.7h0M223.8 468.9h0M193.9 490.6h0M183.9 471.8h0M180.5 483.6h0M190.9 490.9h0M213.7 465.1h0M173.9 494.9h0M175.4 470.4h0M196.1 461.4h0M212.8 471.5h0M189.2 498.2h0M222.8 476.3h0M202.4 504.2h0M211 474.5h0M208.3 451.6h0M200.9 489.5h0M188.9 466.7h0M193 459.7h0M174.8 496.9h0M207.6 491.5h0M225.5 487.8h0M221.6 471.8h0M214.6 459.2h0M196.1 457.7h0M218.7 478.3h0M175.6 487.9h0M207.4 476.4h0M207.1 497h0M176.9 497.2h0M213.7 467.5h0M206.7 476.7h0M189.7 458.4h0M175.4 500.7h0M174.3 474h0M215.1 478.4h0M186.3 461.4h0M200.4 451.3h0M188.3 479.4h0M216.5 472h0M178.9 469.7h0M223.7 480.6h0M217.8 466.6h0M219.1 487.8h0" class="pb"/><path d="M205.3 501.7h0M206.2 503.8h0M214.6 505.3h0M203.7 478.9h0M206.1 503.6h0M210.1 500.7h0M190.1 482.2h0M195 481.5h0M204.7 502.2h0M190.3 484.3h0M198.7 477.7h0M195.1 499.1h0M194.9 500.3h0M195 480h0M191.8 483.6h0M203.3 504.3h0M199.4 474.8h0M188.6 487.6h0M202.6 501.1h0M205.9 502.4h0M215.6 503.8h0M197 478.6h0M194.1 498.2h0M203.1 503.6h0M195.8 476.5h0M181.9 489.7h0M202.4 477.5h0M198.6 479.3h0M202.7 503.1h0M196.1 499.8h0M198.6 478h0M210.9 501.5h0M204.5 500.7h0M195.5 500.2h0M197.8 478.8h0M200.2 501h0M195.2 480.7h0M201.1 498.9h0M189.9 480.8h0M204.7 471.8h0M189.7 482.7h0M187.8 486.4h0M193.1 481.7h0M186.8 461.5h0M199.7 475.8h0M193.4 480.2h0" class="po"/></g>
<g><path d="M254.2 443.4V511.8H320.2" class="ax"/><text x="252.9" y="452.2" class="t ty">20</text><text x="252.9" y="467" class="t ty">10</text><text x="252.9" y="481.8" class="t ty">0</text><text x="252.9" y="496.6" class="t ty">-10</text><text x="252.9" y="511.4" class="t ty">-20</text><text x="259.7" y="514.7" class="t">-20</text><text x="273.3" y="514.7" class="t">-10</text><text x="286.9" y="514.7" class="t">0</text><text x="300.5" y="514.7" class="t">10</text><text x="314.1" y="514.7" class="t">20</text><text x="287.2" y="518.8" class="ta">dim 1</text><text transform="translate(248.2 477.9) rotate(-90)" class="ta">dim 2</text><text x="325.7" y="478.6" class="t lt">label</text><circle cx="323.6" cy="480.8" r="0.65" fill="#2079c6"/><text x="326.5" y="481.6" class="le">0.0</text><circle cx="323.6" cy="483.4" r="0.65" fill="#ff7f0e"/><text x="326.5" y="484.2" class="le">1.0</text><path d="M307.9 494.8h0M304.3 481.7h0M305.6 458.5h0M299 479h0M299.4 491.7h0M262.2 477.6h0M288.9 482.6h0M298.9 462.1h0M265.2 481.8h0M290.3 493.9h0M275.4 473.6h0M292.6 482.3h0M297 505.9h0M302.9 466.1h0M287.5 503.1h0M298.3 486.4h0M270.2 462.7h0M274.4 495h0M268.9 470.1h0M292 507.2h0M274.1 499.6h0M293.2 479h0M278 480.3h0M281.7 485.8h0M265.3 467.7h0M279.1 489.5h0M292.5 463.5h0M293 503h0M287.5 464.8h0M265.7 474.5h0M271.2 471.3h0M276.6 469.3h0M291.9 452.9h0M316.4 477.8h0M305 456.4h0M303.7 467.4h0M290.3 492.3h0M300.4 470.6h0M297 486.9h0M290 495h0M277.7 482.4h0M285.8 481.5h0M295.8 477.4h0M266.8 487.5h0M280.7 474.9h0M285.2 486h0M308.5 465.4h0M314.7 484.6h0M265.2 467h0M266.4 477.6h0M280 478.4h0M297.1 465.5h0M277.4 490.7h0M271.1 495.3h0M306 468h0M281.4 496.1h0M304.3 485.9h0M309.3 461.1h0M283.1 504.8h0M295 462.7h0M296 472.6h0M290.2 499.7h0M303 485h0M260.4 482.3h0M257.7 488.8h0M294.9 466.7h0M305.4 475.6h0M269 467.4h0M274.4 490.1h0M265.1 468.5h0M301.5 467.6h0M306.6 463h0M288 478.7h0M271.4 480.4h0M294.9 465.4h0M301 492.5h0M292 496.8h0M291.6 461h0M290.4 505.2h0M274 492.2h0M263.3 485.3h0M310.8 473.5h0M288.3 455.9h0M266.1 485.1h0M272.8 469.3h0M309.4 468h0M312.9 484.7h0M304 482.8h0M266.3 494.1h0M277.6 458.7h0M269.4 476.2h0M300.9 486.9h0M293.9 486.9h0M269.3 469.3h0M262.9 479.5h0M280.5 470.5h0M258.1 485.1h0M284.8 471.4h0M291.7 453.2h0M266.9 479.2h0M293.3 458.1h0M277.2 482.6h0M295.8 464.8h0M286.1 475.7h0M274.4 482.2h0M295.4 487.9h0M289.6 452.8h0M292.4 459.5h0M293.3 462.1h0M280.3 461.3h0M275.6 498.8h0M291.2 474h0M266.5 485.5h0M284.9 456.1h0M307 474.5h0M308.2 498.1h0M310.5 493.2h0M294.8 471.7h0M280.8 503.9h0M273.6 478.6h0M275.7 458.2h0M282 495.1h0M304 483.5h0M308.8 477.7h0M292.1 485.3h0M283 476.2h0M282 498.3h0M266.7 490.2h0M298 482.7h0M271.4 483.3h0M297 505.4h0M288.7 472.6h0M280.6 504.5h0M274 480.2h0M277.8 477.6h0M285.4 456h0M282.2 454.6h0M288.7 474.9h0M268.7 479.8h0M265.2 481.4h0M294.2 488h0M265.9 484.1h0M280.1 474.9h0M272.8 481.5h0M267.9 476.4h0M273.6 473.9h0M272.2 464.7h0M287.9 503.6h0M312.4 470.5h0M298 460.1h0M292.4 459.6h0M281.7 488.4h0M311.4 477.3h0M295.2 462.9h0M302.9 462.7h0M261 485.9h0M283.7 499.9h0M285.9 479.6h0M286.4 498.1h0M275.5 490.9h0M297.2 480.4h0M280.8 481.7h0M288.9 501.6h0M297.8 472.4h0M294.2 491.6h0M291.8 463h0M299 488.2h0M288.3 457.1h0M287.4 473.1h0M284.6 474.1h0M307.2 460.6h0M285.2 495.3h0M294.1 483h0M263.3 481.1h0M294.4 484.3h0M302.5 483.6h0M273.7 503.4h0M259.2 486.7h0M288.8 480.7h0M272.8 480.6h0M297.5 505.2h0M268.2 482.3h0M292.8 491.1h0M277.8 490.5h0M295.4 454.8h0M271.6 485.5h0M267.3 494.6h0M274.8 494.5h0M306.8 501h0M315.1 474.7h0M268.1 469.6h0M293.6 487.8h0M272.2 495.1h0M274.4 471.1h0M299.1 474.5h0M281.4 470.5h0M272.3 464.2h0M290.7 497.6h0M271 491h0M277.9 474.5h0M305.4 487.8h0M272.8 459h0M310.5 494.6h0M289.6 477.4h0M283 477.5h0M285.1 478.7h0M285.5 468.6h0M264.3 485.6h0M305.5 481h0M272.1 482.1h0M288.4 471.5h0M301.4 475.6h0M294 495.6h0M311 477.8h0M267.3 489.6h0M278.8 481.7h0M291.2 497.4h0M307.4 478h0M294.8 497.8h0M276.1 490.1h0M307.6 466.3h0M282.9 483.8h0M314.8 485.3h0M286.2 497.4h0M273 458.5h0M271.2 484.3h0M306.7 459.8h0M306.3 485.8h0M269.6 485.4h0M299.5 459.6h0M266.6 483.2h0M310.1 494.8h0M272.5 492.8h0M288.1 496.8h0M293 477.3h0M269 494.5h0M265.2 472.7h0M273.8 484.4h0M291.3 474h0M294.7 482.2h0M274.9 488.3h0M291.9 504.1h0M287.8 483.1h0M261.5 479h0M308.5 469.7h0M270.9 499.8h0M275.8 498h0M303.6 495.9h0M284 472.6h0M304.6 493h0M284 480.6h0M277 482.8h0M257.4 485.2h0M301.5 468.3h0M269.8 470.2h0M268.6 488.9h0M296.8 476.6h0M280.7 485.3h0M271.8 477.3h0M295.1 491.6h0M282.7 470.9h0M278.1 495.1h0M298.8 498.1h0M300.6 478.3h0M263.1 484.1h0M278.9 472.4h0M287.6 487h0M290.3 452.8h0M304.1 463h0M275 500.5h0M273.2 461.1h0M287.6 470.7h0M292.6 493.3h0M278.9 489.4h0M276.3 477.6h0M273.8 499.8h0M304.7 459.8h0M290.5 471.8h0M262 478.8h0M287.9 462h0M276.7 492.7h0M263.9 491.4h0M284.4 489.4h0M270 486.5h0M284 483h0M274 488.5h0M307.2 494.5h0M284 493.7h0M285.2 476.7h0M276.8 483h0M296.5 457.8h0M302.8 462.6h0M275.3 492.7h0M259.9 484.9h0M312.9 490.6h0M282.3 466.4h0M277 467.1h0M273 483.5h0M291.3 458.2h0M305.5 501.9h0M280.8 479.1h0M271.4 474.3h0M303.9 460.9h0M287.4 501h0M297.3 485.7h0M303.3 495.6h0M286.4 502.9h0M274.3 495.3h0M291.6 461.1h0M287.6 483.3h0M278.3 475.5h0M268 469.3h0M303.9 488.2h0M271.1 489h0M276.7 467.8h0M295 480h0M270.2 486.5h0M299.2 483.4h0M277.3 491.3h0M265 482.1h0M311.4 492.7h0M282.2 456h0M287.2 456.2h0M311.2 480.3h0M282.9 479.2h0M280.1 446.6h0M281.2 481.5h0M299.1 454h0M289.4 482.7h0M304.2 495.3h0M309.8 489h0M268 467.4h0M279.6 470h0M295.2 489.2h0M294.1 467.6h0M283.1 484.1h0M269.5 470.9h0M293.4 494.2h0M301 475.7h0M282.5 465.4h0M273.7 473.2h0M315.6 483.2h0M285.8 497h0M294.8 467.7h0M260.5 487.9h0M294.5 470.8h0M310.4 485.2h0M315.9 479.5h0M308.7 472.2h0M287.3 468.6h0M299.6 496.9h0M293.8 488.5h0M307.5 487.1h0M272.8 487.2h0M304.3 470h0M260 483.5h0M287.8 472.1h0M301.9 505.8h0M285.5 469.6h0M285.2 494h0M286.9 470.9h0M281.6 500.6h0M300.6 500.8h0M265.3 474.4h0M281.5 490.5h0M272 497.4h0M289 455.2h0M271.2 486.7h0M287.6 475h0M277.6 475.1h0M284.5 465.7h0M303.4 487.1h0M303.3 459.8h0M296.6 490.1h0M282.9 463.7h0M299.8 464.6h0M301.1 493.2h0M306.1 478.6h0M302.9 483h0M277.4 504.4h0M303.6 476h0M275.4 497.7h0M273.8 493.9h0M280.4 491.2h0M302.2 489h0M299.4 483.2h0M291.9 474h0M312.4 476h0M271.2 500h0M285.9 477.9h0M275.3 495.4h0M273.1 473.2h0M281.4 495.3h0M265.6 480.6h0M274.7 500.9h0M270.1 491.9h0M295.8 465h0M273.7 494.8h0M274 473.1h0M306.9 461h0M272.1 464.1h0M278.1 495.7h0M271.9 474h0M307.4 462.7h0M287.3 457.7h0M268.8 491.5h0M303.7 477.6h0M279 454.7h0M268.4 497.1h0M275.5 473.1h0M268.8 495.8h0M292.4 470.3h0M311 467.9h0M313 472.6h0M258.2 481.7h0M273.9 463.7h0M313.7 488h0M293.1 493.5h0M278.7 479.4h0M302.1 464.3h0M275.2 459.4h0M300.9 492.7h0M274.4 484.6h0M290.6 466.2h0M280.1 475.6h0M277.4 493.6h0M294.2 497.9h0M267.5 494.6h0M306.9 485.8h0M267.7 495.9h0M265.3 483.2h0M264.5 482.2h0M268.7 483.5h0M277.2 490.2h0M286.2 480.8h0M294.9 454.1h0M281 483.3h0M279.4 454.5h0M270.5 461.2h0M284.1 466.6h0M303.9 463.9h0M263.3 486.5h0M304.7 484.6h0M263.4 482.8h0M292 483.1h0M309.4 482.8h0M287.1 477.9h0M309.5 476.8h0M292.3 459.8h0M272.5 496.6h0M297.3 457.9h0M278.9 504.7h0M299.6 476.5h0M306.9 466h0M293.5 480.2h0M261.4 487.3h0M286.3 497.7h0M265.2 490.1h0M281 459.1h0M281.1 488.1h0M292 462.8h0M278.2 494.4h0M287.1 499h0M262.7 487.3h0M283.4 484.3h0M283.3 505.8h0M262.1 476.9h0M285.1 462.2h0M270.5 483.3h0M281.1 495.5h0M307.4 460.2h0M287.6 461.3h0M269.9 470.4h0M278.7 471.3h0M311 492.4h0M276.3 459.5h0M285.8 490.7h0M280.3 491.5h0M293 476.7h0M277 490.3h0M273.4 460.7h0M290.6 475.7h0M274 494.9h0M275.2 483.1h0M308.5 484.5h0M309.2 495.9h0M283.3 491h0M262.5 489.8h0M313.3 479.5h0M277.1 501.1h0M289.4 481.6h0M274 470h0M307 474.4h0M284.3 471.1h0M298.5 482.5h0M309.1 467h0M290.5 496.6h0M286.7 485.3h0M285.1 463.3h0M277.5 491.5h0M274 484.2h0M276.1 501.5h0M292.4 480.8h0M284.4 455.5h0M315.2 482.4h0M290.1 491.4h0M311.9 491.8h0M273.3 476.1h0M287.8 490.1h0M303.7 488.6h0M295.5 478.1h0M260 488.8h0M284.7 462.7h0M307.8 482.6h0M286 473.9h0M261.8 485h0M304.9 478.6h0M294.9 481.5h0M275.7 477.5h0M290.6 472.9h0M284.6 505.7h0M261.4 486.2h0M260.2 489.9h0M295.7 498.5h0M309.5 483.8h0M281.3 490.7h0M280.6 482.8h0M295.3 499.1h0M276.8 487h0M273.2 463.8h0M285 503.3h0M282.1 491h0M304.7 466h0M291.8 474.8h0M268.5 471.6h0M293 492.4h0M275.5 491.9h0M283.7 472.8h0M302.1 497.6h0M258 483.3h0M263.6 488.1h0M306.8 462.8h0M275.7 489.6h0M290 455.1h0M262 481.4h0M289.4 495.1h0M278 473.1h0M305.5 491h0M287.1 480.1h0M272.4 483.2h0M276.5 493.4h0M278.6 456.9h0M306 470.9h0M280 498h0M288.4 489.1h0M280.4 486.5h0M265.9 486.8h0M272.6 463.9h0M290.4 494.9h0M283.9 458.3h0M265.3 475.4h0M288.1 494h0M310.9 472.1h0M275.7 481.4h0M290.5 482.4h0M276.2 479.1h0M307.7 484.9h0M310.2 469.5h0M258.4 484.8h0M294.4 480h0M288.4 485.3h0M269.6 483.2h0M289.2 466.7h0M290.2 468.8h0M278.1 470.1h0M268.5 488.9h0M284.2 502.2h0M304.2 482.8h0M295.9 498.9h0" class="pb"/><path d="M284.8 472.2h0M282 471.3h0M281.6 477.5h0M277.8 479h0M279 477.4h0M286.9 469.1h0M286.9 470.8h0M283.8 474.9h0M278.3 476.1h0M289.4 471.6h0M280.8 474h0M283.1 474.3h0M282.4 477h0M283.4 469.5h0M284.4 471.9h0M281.8 480.1h0M313.3 489.7h0M286.9 469.8h0M278.9 476.8h0M284.7 466.1h0M286.2 473.4h0M281 472.1h0M286.7 468.8h0M284.4 470h0M301.7 459.9h0M286.8 472.5h0M280.8 470.2h0M280.1 473.4h0M290.5 476.3h0M285.2 474.4h0M284.8 472.9h0M279.2 468.9h0M279.9 472.8h0M280.9 476.6h0M288.9 475.6h0M288 469.2h0M279.7 472h0M287.7 473.7h0M288.2 472.8h0M280.9 471.8h0M275.8 474.7h0M284.9 468.1h0M276.7 470.7h0M279.9 471.7h0M282.5 477.7h0M279.2 472.8h0M282.3 474.1h0M285.7 473.6h0M284.8 469.2h0M285.6 471.1h0" class="po"/><path d="M287.3 458.9h0M310.7 468.9h0M287 479.1h0M274.4 486.4h0M299.1 497.7h0M278.9 483.9h0M288 482.2h0M260.1 479.4h0M275 472.3h0M289.5 507.4h0M279.4 454.4h0M296.7 474.1h0M288.1 490h0M316.7 481.6h0M279.6 493.5h0M259.9 478.9h0M306.3 463.3h0M270 465.2h0M283.4 479.9h0M312 492.2h0M281.4 495.2h0M272.3 470h0M284.9 454.9h0M266.5 486.6h0M310.5 494.5h0M265.7 483.2h0M276.4 495.5h0M261 491.6h0M272.9 459.4h0M301.6 483.1h0M275.7 462.1h0M271.6 494.4h0M283 496.8h0M260.6 488.1h0M281.1 505.5h0M269.5 490.2h0M290.1 486.2h0M310.2 465.7h0M286.6 476.4h0M310.1 492.6h0M295.6 502.8h0M306.4 471.3h0M270.6 491.2h0M301.6 492.7h0M279.1 483h0M261.7 487.7h0M284.4 476.2h0M284.9 478.9h0M290 481.7h0M292.9 504.7h0M301.7 457h0M277.8 491.3h0M302.3 459.7h0M272 479.7h0M281.3 501.4h0M263.4 489.1h0M275.8 477.6h0M274.6 492.3h0M276.9 455.6h0M271.9 464.4h0M285.8 471.3h0M291.2 480.7h0M311.8 489.3h0M297.9 480.2h0M300.7 475.2h0M313.2 470.6h0M314.3 485h0M314 486.7h0M280.6 461.8h0M307.9 488.7h0M278.3 475.7h0M312 490.2h0M299 467.1h0M272.6 489.9h0M287.4 472.2h0M296.3 481.2h0M274.8 462.2h0M293.6 493h0M278.4 494.4h0" class="pb"/><path d="M282.7 480.2h0M289.3 489.7h0M291.7 483.9h0M280.9 474.9h0M281.5 471.4h0M291.8 471.3h0M286.8 477.4h0M281.4 473h0M284.5 470.1h0M276.5 473.7h0M283.8 474.8h0M280.7 474.7h0M285.3 476.3h0M279.5 474.4h0M281.9 473.6h0M278.5 468.4h0M290 477.4h0M282.8 468.8h0M287.8 469.8h0M282.1 477.2h0M286.9 475.4h0M285.1 477.9h0M291.8 475.1h0M277.6 467.2h0M289.5 471.4h0M287.3 470.6h0M284.1 469h0M289.2 471.1h0M280.6 475.2h0M283.4 472.2h0M287.1 474.8h0M283.9 480.3h0M278.8 476.7h0M278.5 469.5h0M291.7 473.6h0M285 472.6h0M282.9 477.1h0M282.5 470.5h0M280.4 471.1h0M281.5 476.3h0M279.2 470.3h0M281.7 472.5h0M275.6 475.6h0M283.4 479.3h0M280.5 471.2h0M287.1 476.7h0M286.6 475.5h0M275.2 469.6h0M280.7 479.8h0M282.8 472.8h0M278.8 467.3h0" class="po"/></g>
<g><path d="M341 443.4V511.8H407" class="ax"/><text x="339.7" y="449.7" class="t ty">30</text><text x="339.7" y="459.6" class="t ty">20</text><text x="339.7" y="469.4" class="t ty">10</text><text x="339.7" y="479.2" class="t ty">0</text><text x="339.7" y="489.1" class="t ty">-10</text><text x="339.7" y="498.9" class="t ty">-20</text><text x="339.7" y="508.8" class="t ty">-30</text><text x="344.3" y="514.7" class="t">-30</text><text x="354.1" y="514.7" class="t">-20</text><text x="363.9" y="514.7" class="t">-10</text><text x="373.7" y="514.7" class="t">0</text><text x="383.5" y="514.7" class="t">10</text><text x="393.3" y="514.7" class="t">20</text><text x="403.1" y="514.7" class="t">30</text><text x="374" y="518.8" class="ta">dim 1</text><text transform="translate(335 477.9) rotate(-90)" class="ta">dim 2</text><text x="412.5" y="478.6" class="t lt">label</text><circle cx="410.4" cy="480.8" r="0.65" fill="#2079c6"/><text x="413.3" y="481.6" class="le">0.0</text><circle cx="410.4" cy="483.4" r="0.65" fill="#ff7f0e"/><text x="413.3" y="484.2" class="le">1.0</text><path d="M392.4 490h0M379.5 470.7h0M350.6 461.7h0M353.9 493.1h0M346.6 481.6h0M383.8 481.4h0M358.6 503.7h0M364.7 478.5h0M345.2 464.2h0M399.1 469.2h0M347.3 480.1h0M378.5 474.2h0M372.9 463h0M391.8 460.2h0M395.3 484.1h0M343.9 476.7h0M372.5 484.9h0M359 475.3h0M397 478.1h0M368.7 474.1h0M367.4 451.6h0M372.7 502.3h0M387.5 497.7h0M379.1 471.5h0M349.9 466.9h0M399 470.5h0M404 478.5h0M353.3 484.5h0M389.3 477.8h0M375.3 475h0M373.1 477.9h0M377.5 478.2h0M375.4 475.1h0M352.1 504.8h0M371.7 479.4h0M376.1 466.6h0M353.9 495.5h0M370.4 475.9h0M363.7 474.6h0M398.5 474.5h0M374.9 477.1h0M356.8 500.8h0M384.6 470.2h0M369.3 505.5h0M364.6 451h0M347 460.7h0M366.4 448.6h0M357.6 505h0M351.7 493h0M365.5 450.8h0M367.5 479.7h0M361.8 484.1h0M364.9 496.6h0M370.4 475.6h0M386.8 489.9h0M401.4 483.4h0M355.7 504h0M379.1 455.1h0M400.5 468.5h0M378.1 460.3h0M380.4 463.9h0M391 486.8h0M357.6 474.8h0M390 481.4h0M346.3 487.3h0M344.8 482.2h0M374.8 462.2h0M373 469.8h0M398 469.9h0M373.6 495.9h0M382.4 484.5h0M375.1 494.7h0M353.3 468.8h0M374 465.5h0M382 448.8h0M344.5 481.7h0M393.5 489.7h0M391.3 472.6h0M353.6 507.9h0M395.6 482.3h0M363.8 501.7h0M369.5 506.1h0M352.9 493.3h0M354.2 490.1h0M353.3 499.1h0M372.9 502.2h0M396.2 474.9h0M363.4 482.6h0M381.3 469.4h0M368.6 465h0M394.4 456.7h0M355.1 464.7h0M373.7 500.3h0M384.8 491h0M381 472.4h0M366.2 501.6h0M383.8 502.8h0M374.3 476.4h0M387.7 483.1h0M400.1 465.3h0M355.2 468.1h0M384.8 498.5h0M395.4 458.9h0M393.7 476.8h0M359.2 474.6h0M375.1 491.5h0M356.3 492.5h0M366.7 503h0M369 474.1h0M388.2 456.7h0M373 450.2h0M399.4 480.7h0M362.7 470.4h0M384.8 462h0M367 502.7h0M365 505.4h0M371.5 500.5h0M376.9 470.4h0M353.4 502.5h0M400.1 482.5h0M349.4 459.2h0M356.2 504.5h0M355.3 491.9h0M384.2 473.7h0M362.8 494.3h0M370.6 494.4h0M359.8 503.4h0M379.9 469h0M366.7 488.8h0M357.2 506.2h0M361.7 493.2h0M366.5 469h0M355.6 483.8h0M389.6 483.2h0M374.5 476.7h0M377.5 467.3h0M392.5 466.7h0M375.2 485.3h0M350.9 487h0M368.9 466h0M355.9 491.5h0M349.2 502.9h0M352.3 479.4h0M385.6 466.1h0M364.7 456.5h0M365.5 470.8h0M359.9 455.5h0M373.3 477h0M354.9 466.9h0M345 489.8h0M357.4 470h0M378.3 498.2h0M370.9 475h0M396.8 456.4h0M374.8 478.5h0M365.2 482.2h0M399 464.1h0M360.2 454.3h0M375.4 470h0M368.9 470.2h0M356 505.9h0M366.5 468.5h0M377.8 478.3h0M354.2 502.3h0M371.1 457.9h0M365.3 496.4h0M364.1 476.4h0M368.9 501.8h0M362.9 477.8h0M387.1 468h0M371 467.4h0M377.5 468.8h0M368.9 460.1h0M357 479.3h0M402.9 468.8h0M375.5 504.8h0M400.3 469.3h0M392.8 465h0M374.6 469h0M365.2 502.1h0M369.5 467.6h0M380.2 456.6h0M357.1 502.3h0M354.4 498.3h0M368.5 506.1h0M372.1 450.1h0M367.8 472.4h0M374.9 485.2h0M367.5 490.2h0M359 476.7h0M384 500h0M353.2 488.4h0M392.9 499.9h0M370.3 474.7h0M391.5 479.8h0M359.9 469.1h0M352.4 474.3h0M357.3 462.7h0M373.2 460.6h0M363.7 505.7h0M372 471.9h0M363.5 498.4h0M369.5 486.1h0M376.6 470.4h0M372.7 460.4h0M346 465.9h0M384.8 456.3h0M355.6 456.7h0M379.3 459.6h0M391.8 496h0M387.1 488.9h0M398.1 473.9h0M347.1 471.3h0M379.9 467.3h0M391.4 455.7h0M353.1 505.4h0M366.1 489.4h0M365.4 462.4h0M390.8 482.4h0M354.1 502.4h0M383.7 479.3h0M356.5 467.4h0M380.5 498.1h0M368.4 495.2h0M392.3 470.1h0M378.6 501.5h0M392.1 472.5h0M384 464.3h0M371.7 475.2h0M375 500.5h0M369.5 468.7h0M394.1 461.2h0M364.5 471.4h0M361.9 454.5h0M360.1 479.2h0M392.4 469.5h0M345.9 465.8h0M357.3 499h0M367.7 472.3h0M374.3 466.8h0M363.3 465.6h0M398.3 479h0M403.3 478.6h0M375.6 501h0M349.6 500.7h0M349.1 489.7h0M373.3 461.7h0M362.9 478.3h0M377.1 494.7h0M350.7 501h0M388.9 501.4h0M383.7 498.5h0M367.9 475.8h0M361.6 481.2h0M368.3 480.4h0M367.3 459.1h0M378.3 469.3h0M401 492.2h0M346.5 471.7h0M366.3 503h0M347.4 484.7h0M373.3 468.2h0M372 463.1h0M382.7 459h0M373.3 458.1h0M389.2 452.2h0M401.9 480.7h0M363 468h0M395.5 498.1h0M360.9 464h0M369.3 506.5h0M391.1 461.9h0M346.1 480.5h0M379.4 459.1h0M397.1 483.2h0M391.2 468.7h0M373.3 491.6h0M369.8 498.5h0M368.2 470.6h0M373.2 502.2h0M388.8 473.5h0M379.6 468.5h0M355.7 493.3h0M368.9 497.8h0M394.3 481h0M387.8 461.4h0M352.2 497.1h0M402.1 465.9h0M368.4 472.6h0M399.8 488.6h0M358.3 477h0M368.9 501.5h0M384.6 486.1h0M363.4 451.2h0M389 468.2h0M374.8 470.8h0M372.7 471.7h0M391.9 485.4h0M371.8 483.7h0M371.8 486.6h0M386.4 490.7h0M372.3 479h0M350.1 500.8h0M399.7 473.8h0M359.3 502.8h0M346.7 468.2h0M368.9 448.2h0M372.6 464.8h0M397.9 493.9h0M380.4 470.8h0M363.5 467.5h0M367.1 502h0M343.4 476.7h0M363.3 485h0M390 468.9h0M352.8 466.9h0M375.1 500.4h0M368.8 478.4h0M375 504.5h0M348.1 492h0M361.6 484.9h0M394.1 474.2h0M383.6 477h0M382.2 465.5h0M353.9 501.1h0M371 463.5h0M370.6 504.9h0M373.9 497.3h0M348.2 486.3h0M374.7 481.9h0M382.4 478.1h0M392.2 455.8h0M347.3 487.3h0M376.6 469h0M370.2 486.2h0M392.2 483.9h0M381.4 475h0M355.3 473.9h0M353.6 487.8h0M389.8 499.7h0M372.2 507.4h0M353.5 485h0M384.3 481.1h0M368.3 466.6h0M366.1 464.2h0M393.8 471.3h0M369.5 469.5h0M399.8 490.3h0M382.9 494.1h0M378.5 481h0M345.4 475.2h0M369.2 481.1h0M373.2 499.9h0M396.8 495.9h0M363.3 504.3h0M353.2 477.3h0M379.3 478.8h0M397.7 490.8h0M380 452.7h0M372.8 469.7h0M375 472.3h0M388 452.1h0M367.6 474.9h0M374.2 470.4h0M379.1 468.4h0M393.2 491.3h0M363.7 456.7h0M380.8 479h0M389.8 466.1h0M355.9 477.6h0M344.8 465.3h0M393.3 495h0M345.9 488.3h0M370.8 449.8h0M382.3 457.7h0M394.5 479.9h0M358.7 477.9h0M382.4 470.6h0M381.1 484.1h0M373.6 495.2h0M355.8 503h0M383.1 500.3h0M365.6 501h0M365.9 479.9h0M348.1 465.7h0M378.2 474.1h0M379 451.4h0M368.9 488.4h0M373.2 484.7h0M371.8 472.7h0M350.5 500.7h0M389.2 502.5h0M364.4 459.5h0M348.2 481h0M391.8 452.4h0M380.8 472h0M393 493.8h0M371.2 464.1h0M378.3 469.6h0M394.9 473.7h0M349.1 496.9h0M369 483.2h0M378.5 464.3h0M356 467.3h0M390.3 490.3h0M397 477h0M371.8 449h0M383.7 490.2h0M351.1 484.9h0M388.2 483.3h0M363.1 470.9h0M391.7 492.5h0M367 493h0M370.1 483.5h0M371.6 467.6h0M375.2 471.6h0M401.9 481.6h0M389.7 457.7h0M368.1 448.2h0M389.5 494h0M360.6 503.7h0M385 466.7h0M367.6 500h0M350.2 500h0M364.4 491.5h0M366.3 481.6h0M394.2 480.4h0M360.3 484.8h0M366.5 477h0M353.9 466.4h0M369.2 505.6h0M350.6 478h0M352.5 503.2h0M368.2 505.7h0M382.3 475.8h0M371.7 471.9h0M349.6 479.7h0M358.2 484.6h0M351.6 501.5h0M354.8 502.3h0M390.8 474.2h0M371.4 503.9h0M366.3 493.5h0M376.5 462.9h0M355.2 498.3h0M356.4 470.6h0M353.4 459.9h0M379.3 481.3h0M345.8 503.8h0M403 474.7h0M345.5 464.1h0M369.3 479.8h0M385.7 459.4h0M372.7 474.3h0M356 462.3h0M376 470.3h0M369.9 496.4h0M392.3 463.1h0M392.7 489.8h0M349.7 465.1h0M350 471.5h0M364.5 485.7h0M373.5 470.5h0M391.4 470h0M370.8 480.8h0M380.6 492h0M396.4 473.2h0M392.8 498.5h0M392.9 480.8h0M364.3 451h0M350.1 488.6h0M360.5 506.7h0M386.7 485.6h0M378.1 458.9h0M372.6 478.7h0M372.5 468.5h0M394.8 471.5h0M353.2 492.2h0M382.4 481.8h0M403.1 476.6h0M378.1 455.2h0M385.3 471.2h0M392.4 482h0M389.2 479.2h0M359.2 484.4h0M373.1 471.9h0M401.3 477.4h0M370.6 500.1h0M381.7 474.3h0M367.7 490.9h0M366.8 493.2h0M366.6 491.7h0M350.9 488.9h0M384.2 463.7h0M395.4 475.7h0M395.6 478.9h0M365 457.9h0M351.1 469.2h0M373 498.4h0M391.2 493.3h0M398.6 486.2h0M367 501.2h0M355.4 507.8h0M351.8 464.3h0M365.1 483.4h0M393.3 457.4h0M369.6 497.1h0M363.8 478.4h0M369.4 503h0M378.5 497.4h0M361.7 458.5h0M392.7 476.6h0M375 469.9h0M358.4 473.6h0M356 494.3h0M367.8 488h0M353.3 466.3h0M383.7 463.6h0M392.4 493.2h0M368.1 490.1h0M360.5 506.3h0M372.1 478.7h0M378 503.1h0M371.1 486.1h0M394.8 467.6h0M357.4 472.5h0M384.8 464h0M366 503.5h0M369.9 489.2h0M378.5 469.9h0M377.7 472.3h0M387.4 482.7h0M351.4 470.9h0M384.6 466.1h0M375.9 480.4h0M391.3 480h0M350.7 488.6h0M357 472.6h0M366.3 474.2h0M384.2 486.3h0M376 460.4h0M346.5 467.1h0M356 503.3h0M391.6 462.8h0M391.8 489.7h0M373.7 490.2h0M376.3 479.6h0M368.7 480.4h0M389.1 467.1h0M396.6 476.2h0M389 483.3h0M354.8 495.6h0M378.7 488.6h0M390.9 490.6h0M395.3 465.3h0M391.4 474.3h0M349.7 492.4h0M349.1 499.2h0M375.2 494h0M361.3 457.4h0M354.1 493.8h0M395.8 467.4h0M373.7 473.8h0M348.9 492.5h0M382.2 500.2h0M395.6 484.4h0M389.2 478.1h0M391.3 476.3h0M362.8 488.8h0M375.3 465h0M384.7 455.6h0M356.4 466.2h0M344.6 469.7h0M396.7 495.5h0M374.9 478h0M364 459.3h0M366.2 453.5h0M352.6 488.4h0M379.2 462.9h0M397 471.5h0M360.3 504.7h0M395.3 469.4h0M390.9 494.7h0M386.6 483h0M374 450.7h0M358.6 458.5h0M372.7 479.7h0M372.2 471.6h0M372.1 499.3h0M384.6 470.8h0M375.9 495.1h0M380.7 472.8h0M386.2 452.2h0M391.4 458.8h0M387.8 491.3h0M396.7 456.8h0M380.4 488.8h0M384.2 454.1h0M355.4 503.3h0M396.2 457.2h0M361 461.9h0M352 502.8h0M378.8 483.7h0M372 492.8h0M351 464.1h0M382.2 493h0M374.2 470.7h0M364.2 490.8h0M401.7 465.9h0M351.5 487h0M370 456.7h0M384.9 478.7h0M378 467.5h0M345.5 473h0M378.6 482.7h0M369.8 449.2h0M375.3 491.3h0M393.9 468h0M377.3 490.6h0M358.2 487h0M349.5 480.1h0M378.9 490h0M374 486.5h0M359.2 490h0M353.2 491.1h0M365.9 450.6h0M364 490.7h0M364.9 501.4h0M348.2 476.2h0M345.6 483.9h0M357.1 490h0M352.7 490.6h0M371.6 498.3h0M378.3 470.1h0M374.8 491.1h0M366.1 471.5h0M393.7 490.6h0M351.8 500.8h0M385.7 474.6h0M388 485h0M393.5 474.5h0M394 497.7h0M363.9 486.6h0M385.5 461.4h0M364.2 463h0M383.1 492.7h0M360.4 454.3h0M390.4 455.5h0M397.7 459.4h0M359.3 454h0M389.6 479.7h0M388.9 481.9h0M380.9 475.5h0M398.7 458.7h0M385.5 504h0M381.5 498.3h0M377.9 463.5h0M365.3 473.1h0M374.6 467.4h0M373.1 494.4h0M382 474.7h0M362.8 481.9h0M391.7 458.2h0M356.5 505.1h0M349.6 458.3h0M382 474.5h0M372.4 498.3h0M357.9 497.1h0M371.2 491.9h0M361 490.6h0M376.7 496.8h0M346 470.2h0M362.6 452.2h0M364.4 480.9h0M374.3 475.3h0M397.5 463.7h0M374.1 470.7h0M400.7 477.9h0M393.3 496.5h0M401.3 470h0M370.9 505.7h0M361.6 482.5h0M372.5 505.2h0M369 448.8h0M383.3 504.6h0M363.1 478.3h0M387.4 485.6h0M376.9 479.2h0M355.1 478.4h0M394.8 457.1h0M375 479.6h0M384.7 455.5h0M358.6 507.1h0M379.3 460.4h0M373.3 467.2h0M362.4 481.3h0M364.8 475.8h0M370.4 495.8h0M368.4 501.8h0M395.8 495.7h0M401.4 488.6h0M368.3 478.5h0M401.4 485.4h0M379.2 466.8h0M403.1 469.8h0M397.3 493.7h0M392.1 480h0M360 496.4h0M359.7 469.5h0M363.8 503.5h0M382.4 467.1h0M357.7 470.1h0M353 497.2h0M391.5 476.6h0M383.7 451h0M354.6 504.8h0" class="pb"/><path d="M362.1 474.7h0M360.7 468.2h0M368 465.2h0M363.5 480.6h0M363.9 468.4h0M365.8 476.5h0M361.7 470h0M360.1 472.8h0M366.9 475.8h0M371.8 475.4h0M364 468.1h0M373.8 475.1h0M362.4 468.7h0M367 467.8h0M374.3 471.6h0M366.6 476.5h0M366.7 470.6h0M360.9 472.1h0M369.2 468.6h0M368.3 467.6h0M367.4 477.6h0M363.4 469.9h0M359.7 471.2h0M370.5 475.3h0M365.2 474h0M362 476.4h0M379.5 478.5h0M372.4 474.3h0M366 465.2h0M364.9 470.7h0M361.8 477.4h0M375.9 475.2h0M367.5 472.2h0M370.3 477.6h0M365.5 476.4h0M358.4 473.9h0M371.4 474.7h0M373.1 472.8h0M360.7 473.3h0M358.2 479.3h0M365.5 470.1h0M366.8 481.1h0M371.1 475.6h0M358.2 472.7h0M367.1 478.5h0M362.1 470.7h0M372.2 475.7h0M359.2 468.7h0M360.6 473.7h0M372.7 472.6h0M373.4 472.6h0M369.7 469.7h0M375.4 475.1h0M357.1 471.8h0M371.7 474.1h0M367.8 477.8h0M359.6 475.2h0M360.6 472.3h0M359.6 473.6h0M367.6 472.2h0M360.5 471.9h0M372.7 471.3h0M367.5 465.2h0M370.3 468.2h0M369.3 475.8h0M368.6 470.1h0M361.1 473.6h0M375.8 476.4h0M359.1 473.2h0M360.4 481.1h0M365.3 476.5h0M368.6 470.6h0M361.1 474.1h0M370.6 472.9h0M364.5 467.1h0" class="po"/><path d="M366.7 500.1h0M388.4 459h0M386.4 460.7h0M378.2 466.7h0M368.9 498.4h0M378 471.8h0M389 498.2h0M345.1 490.2h0M393.9 472.9h0M367.6 453.6h0M386.6 488.7h0M392 483.9h0M359.5 471.7h0M376.7 498h0M364 502.1h0M374.6 463.7h0M360.5 455.3h0M378.8 470.4h0M363.5 483.4h0M356.9 501.5h0M362.8 453.7h0M365 485.9h0M385.7 451.1h0M374.8 467.6h0M365.7 467h0M357.9 492.3h0M380.5 504.4h0M353.1 501h0M365.6 481.7h0M376.3 463.9h0M349.5 459.5h0M367.8 450.1h0M390.9 501.7h0M353 470.7h0M398 464.6h0M388.1 465.2h0M367.4 448.4h0M347 480.1h0M381.4 496.1h0M345.9 492.3h0M397.9 488.4h0M353.4 487.1h0M390 487.7h0M353.4 487.9h0M375.2 476.8h0M375.6 458h0M384.5 461.7h0M346.1 463.9h0M351.6 505.2h0M345.4 474.1h0M367.8 454.8h0M344.9 475.7h0M368.9 501.1h0M374.6 476.3h0M390.8 452.9h0M372.2 496.1h0M357.8 487.7h0M374.4 470.2h0M379.3 460.5h0M365.3 491.6h0M373.1 484.6h0M378.7 463.1h0M371.5 497.4h0M374.9 501.4h0M360.1 453.4h0M403.2 480.9h0M368.1 488.5h0M357.6 501.5h0M390.1 465.5h0M396.2 471.6h0M373.5 502.8h0M384.7 484.3h0M344.2 476.6h0M383.5 449.3h0M358 502.7h0M391.7 467.2h0M354.2 504.8h0M365.5 479.4h0M372.4 495.9h0M394.2 484.4h0M377.9 471.6h0M395.6 462.1h0M386.8 482.4h0M393.3 484.9h0M363.5 486.2h0M364.7 459.7h0M350.9 486h0M388.3 462.6h0M366.3 471.2h0M399.3 459.3h0M386.9 503.4h0M369.9 508.9h0M394.8 487.2h0M372.6 491.9h0M385.5 477.2h0M394.9 472.3h0M391.9 486.2h0M395.3 454.7h0" class="pb"/><path d="M370.9 471.2h0M368 471.5h0M374.2 466.9h0M370.9 473.4h0M356 472.9h0M371.6 474.8h0M365.4 473.8h0M361.7 477.1h0M372.2 469.3h0M372.3 471.6h0M369.6 469h0M370.3 471h0M364.5 472.6h0M366 467.3h0M361.1 472h0M363.7 472h0M360.3 473.8h0M366.2 478.2h0M363.6 477.6h0M370.1 473.7h0M358.5 478.2h0M358.8 469.8h0M360.7 473.1h0M365.7 474.6h0M369.3 471.8h0M358.8 468.9h0M366.5 476.2h0M361.7 471.7h0M365.8 471.3h0M371.7 480.3h0M366.7 477.3h0M370.6 470.6h0M355.9 474.3h0M366.1 477.7h0M365.8 474.2h0M367.5 477.3h0M362.5 477h0M373.8 481.8h0M364.2 474h0M366.2 469.3h0M371.2 476.7h0M378.3 470.5h0M362.7 472.5h0M375.2 473.1h0M364.6 471.7h0M368.1 477.5h0M366.6 473.8h0M365 475h0M364 469.5h0M372.8 470.9h0M355.5 472.1h0M356.5 482.1h0M361.5 473.9h0M365.8 476.5h0M359.2 474.6h0M374 475.1h0M370.1 474.8h0M369.9 478.3h0M364.2 478.6h0M362.6 470.1h0M377.9 479.3h0M363 473h0M360.1 471.3h0M359.1 475.9h0M369.4 471h0M362.9 475.6h0M375.7 473.4h0M364.2 478.7h0M364.7 475.4h0M366.2 467h0M370.6 467.8h0M362.9 476.6h0M376.2 476.8h0M362 472.6h0M367.7 481.8h0" class="po"/></g>
</svg></body></html>
